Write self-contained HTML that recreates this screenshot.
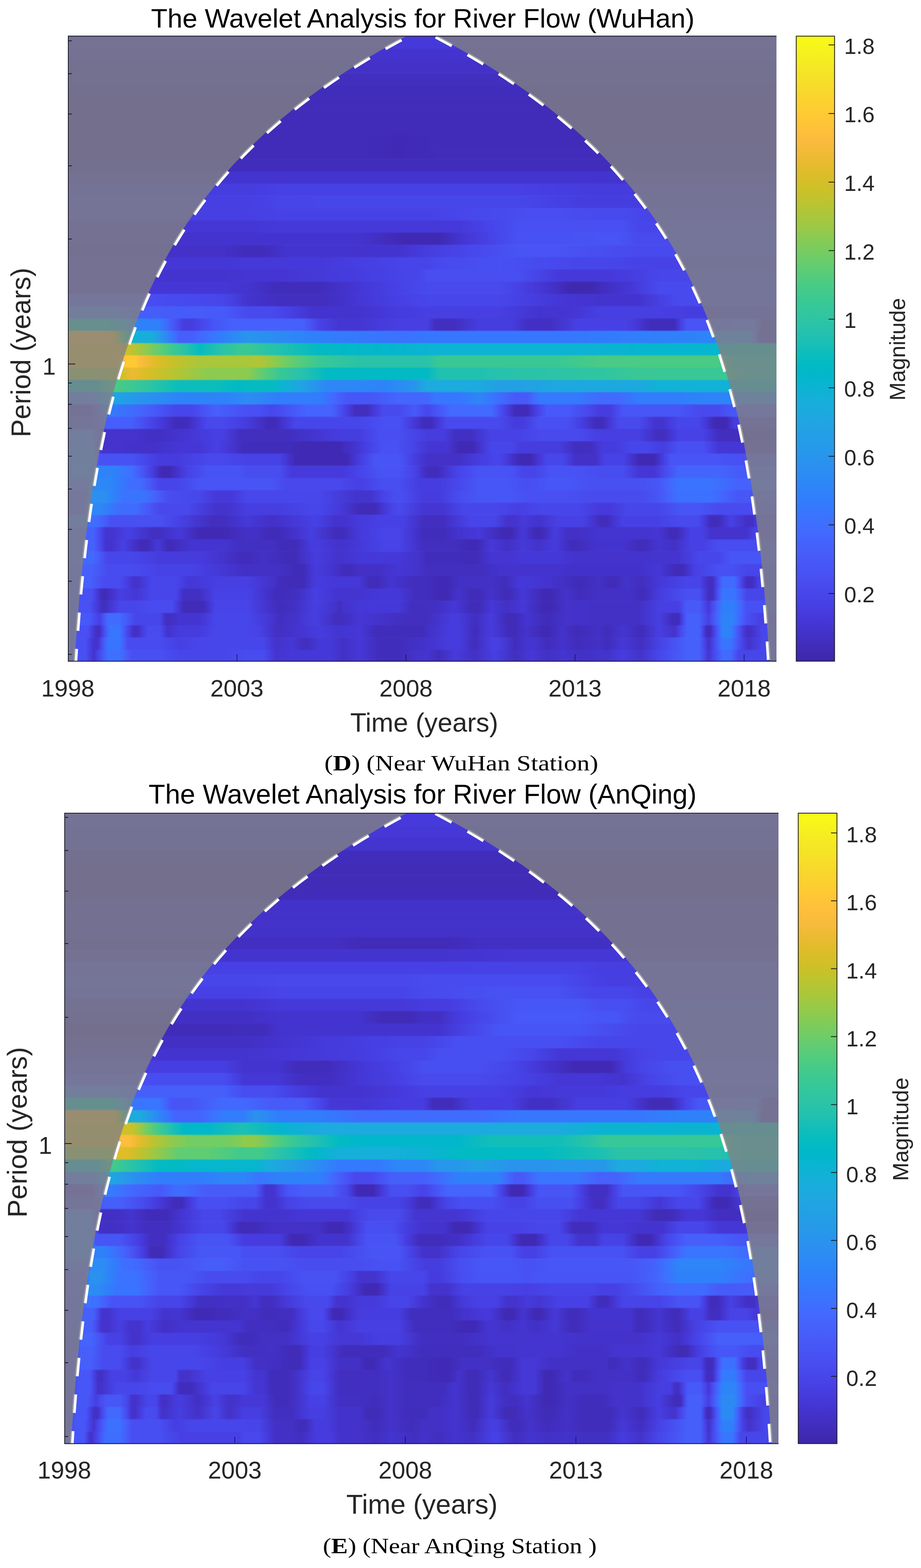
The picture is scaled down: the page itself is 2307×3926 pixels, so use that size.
<!DOCTYPE html>
<html lang="en"><head><meta charset="utf-8"><title>Wavelet Analysis for River Flow</title>
<style>
html,body{margin:0;padding:0;background:#fff}
body{width:2307px;height:3926px;overflow:hidden}
svg{display:block;font-family:"Liberation Sans",sans-serif}
</style></head><body>
<svg width="2307" height="3926" viewBox="0 0 2307 3926">
<defs>
<filter id="vb" filterUnits="userSpaceOnUse" x="0" y="0" width="2307" height="3926" color-interpolation-filters="sRGB"><feGaussianBlur stdDeviation="1 1.3"/></filter>
<clipPath id="clipa"><rect x="170" y="89.5" width="1775" height="1567"/></clipPath>
<linearGradient id="ga_0" gradientUnits="userSpaceOnUse" x1="170" y1="0" x2="1945" y2="0"><stop offset="0.0000" stop-color="#4639da"/><stop offset="1.0000" stop-color="#4639da"/></linearGradient>
<linearGradient id="ga_1" gradientUnits="userSpaceOnUse" x1="170" y1="0" x2="1945" y2="0"><stop offset="0.0000" stop-color="#4434cf"/><stop offset="1.0000" stop-color="#4434cf"/></linearGradient>
<linearGradient id="ga_2" gradientUnits="userSpaceOnUse" x1="170" y1="0" x2="1945" y2="0"><stop offset="0.0000" stop-color="#4331c8"/><stop offset="1.0000" stop-color="#4331c8"/></linearGradient>
<linearGradient id="ga_3" gradientUnits="userSpaceOnUse" x1="170" y1="0" x2="1945" y2="0"><stop offset="0.0000" stop-color="#422fc0"/><stop offset="1.0000" stop-color="#422fc0"/></linearGradient>
<linearGradient id="ga_4" gradientUnits="userSpaceOnUse" x1="170" y1="0" x2="1945" y2="0"><stop offset="0.0000" stop-color="#412dbc"/><stop offset="1.0000" stop-color="#412dbc"/></linearGradient>
<linearGradient id="ga_5" gradientUnits="userSpaceOnUse" x1="170" y1="0" x2="1945" y2="0"><stop offset="0.0000" stop-color="#412cb9"/><stop offset="1.0000" stop-color="#412cb9"/></linearGradient>
<linearGradient id="ga_6" gradientUnits="userSpaceOnUse" x1="170" y1="0" x2="1945" y2="0"><stop offset="0.0000" stop-color="#412cb9"/><stop offset="1.0000" stop-color="#412cb9"/></linearGradient>
<linearGradient id="ga_7" gradientUnits="userSpaceOnUse" x1="170" y1="0" x2="1945" y2="0"><stop offset="0.0000" stop-color="#412cb9"/><stop offset="1.0000" stop-color="#412cb9"/></linearGradient>
<linearGradient id="ga_8" gradientUnits="userSpaceOnUse" x1="170" y1="0" x2="1945" y2="0"><stop offset="0.0000" stop-color="#412cb9"/><stop offset="0.4113" stop-color="#412cb9"/><stop offset="0.4676" stop-color="#402ab5"/><stop offset="0.5239" stop-color="#412cb9"/><stop offset="1.0000" stop-color="#412cb9"/></linearGradient>
<linearGradient id="ga_9" gradientUnits="userSpaceOnUse" x1="170" y1="0" x2="1945" y2="0"><stop offset="0.0000" stop-color="#412cb9"/><stop offset="0.4113" stop-color="#412cb9"/><stop offset="0.4676" stop-color="#402ab5"/><stop offset="0.5239" stop-color="#412cbb"/><stop offset="1.0000" stop-color="#412cbb"/></linearGradient>
<linearGradient id="ga_10" gradientUnits="userSpaceOnUse" x1="170" y1="0" x2="1945" y2="0"><stop offset="0.0000" stop-color="#412dbc"/><stop offset="1.0000" stop-color="#412dbc"/></linearGradient>
<linearGradient id="ga_11" gradientUnits="userSpaceOnUse" x1="170" y1="0" x2="1945" y2="0"><stop offset="0.0000" stop-color="#4434cf"/><stop offset="1.0000" stop-color="#4434cf"/></linearGradient>
<linearGradient id="ga_12" gradientUnits="userSpaceOnUse" x1="170" y1="0" x2="1945" y2="0"><stop offset="0.0000" stop-color="#463ddf"/><stop offset="0.2535" stop-color="#463ddf"/><stop offset="0.2986" stop-color="#4740e4"/><stop offset="0.6366" stop-color="#4740e4"/><stop offset="0.7493" stop-color="#463bdd"/><stop offset="1.0000" stop-color="#463bdd"/></linearGradient>
<linearGradient id="ga_13" gradientUnits="userSpaceOnUse" x1="170" y1="0" x2="1945" y2="0"><stop offset="0.0000" stop-color="#473fe2"/><stop offset="0.2535" stop-color="#473fe2"/><stop offset="0.2986" stop-color="#4744e9"/><stop offset="0.3549" stop-color="#4746eb"/><stop offset="0.4113" stop-color="#4746eb"/><stop offset="0.5070" stop-color="#4746eb"/><stop offset="0.6366" stop-color="#4746eb"/><stop offset="0.7211" stop-color="#463ddf"/><stop offset="1.0000" stop-color="#463ddf"/></linearGradient>
<linearGradient id="ga_14" gradientUnits="userSpaceOnUse" x1="170" y1="0" x2="1945" y2="0"><stop offset="0.0000" stop-color="#473fe2"/><stop offset="0.2535" stop-color="#473fe2"/><stop offset="0.2986" stop-color="#4742e6"/><stop offset="0.5070" stop-color="#4742e6"/><stop offset="0.5521" stop-color="#4746eb"/><stop offset="0.6479" stop-color="#484ef1"/><stop offset="0.6930" stop-color="#484ef1"/><stop offset="0.7493" stop-color="#484aee"/><stop offset="0.7831" stop-color="#484aee"/><stop offset="0.8338" stop-color="#4742e6"/><stop offset="1.0000" stop-color="#4742e6"/></linearGradient>
<linearGradient id="ga_15" gradientUnits="userSpaceOnUse" x1="170" y1="0" x2="1945" y2="0"><stop offset="0.0000" stop-color="#4537d6"/><stop offset="0.2535" stop-color="#4537d6"/><stop offset="0.2986" stop-color="#4639da"/><stop offset="0.5521" stop-color="#4639da"/><stop offset="0.5944" stop-color="#4744e9"/><stop offset="0.6366" stop-color="#4850f3"/><stop offset="0.7211" stop-color="#4850f3"/><stop offset="0.7493" stop-color="#4850f3"/><stop offset="0.7831" stop-color="#4850f3"/><stop offset="0.8056" stop-color="#4746eb"/><stop offset="1.0000" stop-color="#4746eb"/></linearGradient>
<linearGradient id="ga_16" gradientUnits="userSpaceOnUse" x1="170" y1="0" x2="1945" y2="0"><stop offset="0.0000" stop-color="#4434cf"/><stop offset="0.4113" stop-color="#4434cf"/><stop offset="0.4744" stop-color="#402ab3"/><stop offset="0.5239" stop-color="#402ab3"/><stop offset="0.5521" stop-color="#4434cf"/><stop offset="0.5944" stop-color="#4742e6"/><stop offset="0.6366" stop-color="#4852f4"/><stop offset="0.6930" stop-color="#4852f4"/><stop offset="0.7493" stop-color="#4854f5"/><stop offset="0.7775" stop-color="#4854f5"/><stop offset="0.8056" stop-color="#484aee"/><stop offset="1.0000" stop-color="#484aee"/></linearGradient>
<linearGradient id="ga_17" gradientUnits="userSpaceOnUse" x1="170" y1="0" x2="1945" y2="0"><stop offset="0.0000" stop-color="#4331c8"/><stop offset="0.2197" stop-color="#4331c8"/><stop offset="0.2535" stop-color="#412dbc"/><stop offset="0.2761" stop-color="#412dbc"/><stop offset="0.3099" stop-color="#4434cf"/><stop offset="0.4676" stop-color="#4434cf"/><stop offset="0.5070" stop-color="#463ddf"/><stop offset="0.5718" stop-color="#4848ec"/><stop offset="0.6366" stop-color="#4854f5"/><stop offset="0.6930" stop-color="#4854f5"/><stop offset="0.7493" stop-color="#484ef1"/><stop offset="0.8056" stop-color="#484aee"/><stop offset="1.0000" stop-color="#484aee"/></linearGradient>
<linearGradient id="ga_18" gradientUnits="userSpaceOnUse" x1="170" y1="0" x2="1945" y2="0"><stop offset="0.0000" stop-color="#4537d6"/><stop offset="0.2197" stop-color="#4537d6"/><stop offset="0.2535" stop-color="#4639da"/><stop offset="0.3549" stop-color="#4639da"/><stop offset="0.4676" stop-color="#4744e9"/><stop offset="0.5070" stop-color="#4744e9"/><stop offset="0.5239" stop-color="#484aee"/><stop offset="0.6085" stop-color="#4850f3"/><stop offset="0.7211" stop-color="#4746eb"/><stop offset="0.7606" stop-color="#4746eb"/><stop offset="0.8056" stop-color="#4742e6"/><stop offset="1.0000" stop-color="#4742e6"/></linearGradient>
<linearGradient id="ga_19" gradientUnits="userSpaceOnUse" x1="170" y1="0" x2="1945" y2="0"><stop offset="0.0000" stop-color="#4434cf"/><stop offset="0.2197" stop-color="#4434cf"/><stop offset="0.2535" stop-color="#4536d3"/><stop offset="0.2986" stop-color="#4536d3"/><stop offset="0.4113" stop-color="#463ddf"/><stop offset="0.4958" stop-color="#4746eb"/><stop offset="0.5070" stop-color="#484ef1"/><stop offset="0.6366" stop-color="#484ef1"/><stop offset="0.6930" stop-color="#4639da"/><stop offset="0.7606" stop-color="#4639da"/><stop offset="0.7944" stop-color="#463ddf"/><stop offset="0.8338" stop-color="#4746eb"/><stop offset="1.0000" stop-color="#4746eb"/></linearGradient>
<linearGradient id="ga_20" gradientUnits="userSpaceOnUse" x1="170" y1="0" x2="1945" y2="0"><stop offset="0.0000" stop-color="#4537d6"/><stop offset="0.2197" stop-color="#4537d6"/><stop offset="0.2535" stop-color="#4434cf"/><stop offset="0.2930" stop-color="#412dbc"/><stop offset="0.3549" stop-color="#412dbc"/><stop offset="0.4113" stop-color="#4537d6"/><stop offset="0.4676" stop-color="#4742e6"/><stop offset="0.5070" stop-color="#484aee"/><stop offset="0.6085" stop-color="#484aee"/><stop offset="0.6423" stop-color="#473fe2"/><stop offset="0.6761" stop-color="#4434cf"/><stop offset="0.7099" stop-color="#3f29b1"/><stop offset="0.7380" stop-color="#3f29b1"/><stop offset="0.7606" stop-color="#4230c4"/><stop offset="0.7944" stop-color="#4537d6"/><stop offset="0.8338" stop-color="#484aee"/><stop offset="1.0000" stop-color="#484aee"/></linearGradient>
<linearGradient id="ga_21" gradientUnits="userSpaceOnUse" x1="170" y1="0" x2="1945" y2="0"><stop offset="0.0000" stop-color="#4850f3"/><stop offset="0.0732" stop-color="#4850f3"/><stop offset="0.2197" stop-color="#4746eb"/><stop offset="0.2535" stop-color="#4434cf"/><stop offset="0.2986" stop-color="#422fc0"/><stop offset="0.3662" stop-color="#422fc0"/><stop offset="0.4113" stop-color="#4537d6"/><stop offset="0.4676" stop-color="#4740e4"/><stop offset="0.5070" stop-color="#4746eb"/><stop offset="0.6085" stop-color="#4746eb"/><stop offset="0.6930" stop-color="#4537d6"/><stop offset="0.7493" stop-color="#4434cf"/><stop offset="0.8056" stop-color="#4434cf"/><stop offset="0.8338" stop-color="#473fe2"/><stop offset="0.8620" stop-color="#484aee"/><stop offset="1.0000" stop-color="#484aee"/></linearGradient>
<linearGradient id="ga_22" gradientUnits="userSpaceOnUse" x1="170" y1="0" x2="1945" y2="0"><stop offset="0.0000" stop-color="#3b72ff"/><stop offset="0.0620" stop-color="#3b72ff"/><stop offset="0.0958" stop-color="#465efb"/><stop offset="0.2197" stop-color="#475af9"/><stop offset="0.2535" stop-color="#484aee"/><stop offset="0.2873" stop-color="#484aee"/><stop offset="0.3155" stop-color="#473fe2"/><stop offset="0.3437" stop-color="#4434cf"/><stop offset="0.4113" stop-color="#4434cf"/><stop offset="0.4676" stop-color="#463bdd"/><stop offset="0.5070" stop-color="#473fe2"/><stop offset="0.6085" stop-color="#473fe2"/><stop offset="0.6648" stop-color="#4434cf"/><stop offset="0.7211" stop-color="#4537d6"/><stop offset="0.7493" stop-color="#473fe2"/><stop offset="0.8338" stop-color="#473fe2"/><stop offset="0.8901" stop-color="#463ddf"/><stop offset="1.0000" stop-color="#463ddf"/></linearGradient>
<linearGradient id="ga_23" gradientUnits="userSpaceOnUse" x1="170" y1="0" x2="1945" y2="0"><stop offset="0.0000" stop-color="#0cbdbc"/><stop offset="0.0563" stop-color="#0cbdbc"/><stop offset="0.0676" stop-color="#0cb3d3"/><stop offset="0.0789" stop-color="#1fa5e2"/><stop offset="0.0887" stop-color="#2895ec"/><stop offset="0.0986" stop-color="#2e83f9"/><stop offset="0.1296" stop-color="#307ffb"/><stop offset="0.1408" stop-color="#4368fd"/><stop offset="0.1521" stop-color="#4852f4"/><stop offset="0.1634" stop-color="#463ddf"/><stop offset="0.1746" stop-color="#463ddf"/><stop offset="0.1915" stop-color="#4849ed"/><stop offset="0.2085" stop-color="#4756f7"/><stop offset="0.2310" stop-color="#4660fb"/><stop offset="0.3324" stop-color="#4660fb"/><stop offset="0.3437" stop-color="#4851f3"/><stop offset="0.3549" stop-color="#4742e6"/><stop offset="0.3831" stop-color="#4536d3"/><stop offset="0.4113" stop-color="#4536d3"/><stop offset="0.4676" stop-color="#473fe2"/><stop offset="0.5070" stop-color="#473fe2"/><stop offset="0.5183" stop-color="#422fc0"/><stop offset="0.5465" stop-color="#422fc0"/><stop offset="0.5803" stop-color="#463ddf"/><stop offset="0.6254" stop-color="#463ddf"/><stop offset="0.6479" stop-color="#4230c4"/><stop offset="0.6817" stop-color="#4230c4"/><stop offset="0.7211" stop-color="#4740e4"/><stop offset="0.7887" stop-color="#4740e4"/><stop offset="0.8056" stop-color="#4536d3"/><stop offset="0.8225" stop-color="#412dbc"/><stop offset="0.8563" stop-color="#412dbc"/><stop offset="0.8648" stop-color="#473fe2"/><stop offset="0.8732" stop-color="#4854f5"/><stop offset="0.9014" stop-color="#4854f5"/><stop offset="0.9465" stop-color="#475af9"/><stop offset="0.9690" stop-color="#475af9"/><stop offset="0.9746" stop-color="#4848ec"/><stop offset="0.9803" stop-color="#4537d6"/><stop offset="1.0000" stop-color="#4537d6"/></linearGradient>
<linearGradient id="ga_24" gradientUnits="userSpaceOnUse" x1="170" y1="0" x2="1945" y2="0"><stop offset="0.0000" stop-color="#f6ba3b"/><stop offset="0.0620" stop-color="#f6ba3b"/><stop offset="0.0662" stop-color="#d4bf28"/><stop offset="0.0704" stop-color="#a9c73a"/><stop offset="0.0746" stop-color="#77cc60"/><stop offset="0.0789" stop-color="#49cb85"/><stop offset="0.0836" stop-color="#2dc4a5"/><stop offset="0.0883" stop-color="#07bcbf"/><stop offset="0.0930" stop-color="#12b1d7"/><stop offset="0.1183" stop-color="#19addc"/><stop offset="0.1277" stop-color="#249de6"/><stop offset="0.1371" stop-color="#2d8cf3"/><stop offset="0.1465" stop-color="#3579fd"/><stop offset="0.1521" stop-color="#416bfe"/><stop offset="0.1577" stop-color="#465efb"/><stop offset="0.1746" stop-color="#465efb"/><stop offset="0.1915" stop-color="#416bfe"/><stop offset="0.2085" stop-color="#3579fd"/><stop offset="0.2310" stop-color="#2d87f6"/><stop offset="0.2535" stop-color="#2895ec"/><stop offset="0.3042" stop-color="#2d8af4"/><stop offset="0.3549" stop-color="#307ffb"/><stop offset="0.4676" stop-color="#3b72ff"/><stop offset="0.5070" stop-color="#3776fe"/><stop offset="0.6930" stop-color="#3776fe"/><stop offset="0.7493" stop-color="#337bfd"/><stop offset="0.8901" stop-color="#2e83f9"/><stop offset="0.9352" stop-color="#2e83f9"/><stop offset="0.9634" stop-color="#2e83f9"/><stop offset="0.9669" stop-color="#3e6fff"/><stop offset="0.9704" stop-color="#475cfa"/><stop offset="0.9739" stop-color="#4849ed"/><stop offset="0.9775" stop-color="#4537d6"/><stop offset="1.0000" stop-color="#4537d6"/></linearGradient>
<linearGradient id="ga_25" gradientUnits="userSpaceOnUse" x1="170" y1="0" x2="1945" y2="0"><stop offset="0.0000" stop-color="#e6bb2d"/><stop offset="0.0676" stop-color="#e6bb2d"/><stop offset="0.0845" stop-color="#ccc028"/><stop offset="0.1070" stop-color="#98c947"/><stop offset="0.1296" stop-color="#5fcd73"/><stop offset="0.1484" stop-color="#3bc992"/><stop offset="0.1671" stop-color="#27c2ab"/><stop offset="0.1859" stop-color="#05bbc1"/><stop offset="0.2141" stop-color="#26c2ac"/><stop offset="0.2423" stop-color="#39c895"/><stop offset="0.2535" stop-color="#39c895"/><stop offset="0.2986" stop-color="#21c1b0"/><stop offset="0.3549" stop-color="#02bac3"/><stop offset="0.4676" stop-color="#06b5ce"/><stop offset="0.5070" stop-color="#0cb3d3"/><stop offset="0.7493" stop-color="#0cb3d3"/><stop offset="0.8056" stop-color="#06b5ce"/><stop offset="0.9183" stop-color="#06b5ce"/><stop offset="0.9465" stop-color="#05bbc1"/><stop offset="1.0000" stop-color="#05bbc1"/></linearGradient>
<linearGradient id="ga_26" gradientUnits="userSpaceOnUse" x1="170" y1="0" x2="1945" y2="0"><stop offset="0.0000" stop-color="#e6bb2d"/><stop offset="0.0676" stop-color="#e6bb2d"/><stop offset="0.0761" stop-color="#fbbc3d"/><stop offset="0.0845" stop-color="#feca33"/><stop offset="0.0958" stop-color="#feca33"/><stop offset="0.1014" stop-color="#fcbd3d"/><stop offset="0.1239" stop-color="#dfbc2a"/><stop offset="0.1465" stop-color="#c8c129"/><stop offset="0.1859" stop-color="#a9c73a"/><stop offset="0.2535" stop-color="#a9c73a"/><stop offset="0.2704" stop-color="#b2c535"/><stop offset="0.2901" stop-color="#91ca4d"/><stop offset="0.3099" stop-color="#6dcd67"/><stop offset="0.3324" stop-color="#50cc80"/><stop offset="0.3549" stop-color="#39c895"/><stop offset="0.4113" stop-color="#2ac3a9"/><stop offset="0.5070" stop-color="#2ac3a9"/><stop offset="0.5239" stop-color="#39c895"/><stop offset="0.6930" stop-color="#39c895"/><stop offset="0.7493" stop-color="#49cb85"/><stop offset="0.9183" stop-color="#49cb85"/><stop offset="0.9324" stop-color="#31c69f"/><stop offset="0.9465" stop-color="#19bfb5"/><stop offset="1.0000" stop-color="#19bfb5"/></linearGradient>
<linearGradient id="ga_27" gradientUnits="userSpaceOnUse" x1="170" y1="0" x2="1945" y2="0"><stop offset="0.0000" stop-color="#a9c73a"/><stop offset="0.0620" stop-color="#a9c73a"/><stop offset="0.0761" stop-color="#cec028"/><stop offset="0.0901" stop-color="#edba33"/><stop offset="0.1127" stop-color="#d8be28"/><stop offset="0.1465" stop-color="#bbc42f"/><stop offset="0.1972" stop-color="#8ccb50"/><stop offset="0.2535" stop-color="#8ccb50"/><stop offset="0.2761" stop-color="#5dcc75"/><stop offset="0.2986" stop-color="#39c895"/><stop offset="0.3324" stop-color="#25c2ae"/><stop offset="0.3662" stop-color="#02bac3"/><stop offset="0.5070" stop-color="#02bac3"/><stop offset="0.5239" stop-color="#21c1b0"/><stop offset="0.5803" stop-color="#21c1b0"/><stop offset="0.6366" stop-color="#2ac3a9"/><stop offset="0.7493" stop-color="#2fc5a3"/><stop offset="0.8056" stop-color="#39c895"/><stop offset="0.9296" stop-color="#39c895"/><stop offset="0.9408" stop-color="#2dc4a6"/><stop offset="0.9521" stop-color="#19bfb5"/><stop offset="1.0000" stop-color="#19bfb5"/></linearGradient>
<linearGradient id="ga_28" gradientUnits="userSpaceOnUse" x1="170" y1="0" x2="1945" y2="0"><stop offset="0.0000" stop-color="#01b9c8"/><stop offset="0.0394" stop-color="#01b9c8"/><stop offset="0.0488" stop-color="#1bc0b4"/><stop offset="0.0582" stop-color="#32c69f"/><stop offset="0.0676" stop-color="#49cb85"/><stop offset="0.1127" stop-color="#2fc5a3"/><stop offset="0.1577" stop-color="#0cbdbc"/><stop offset="0.2085" stop-color="#0cbdbc"/><stop offset="0.2423" stop-color="#01b9c6"/><stop offset="0.2535" stop-color="#05bbc1"/><stop offset="0.2873" stop-color="#05bbc1"/><stop offset="0.3070" stop-color="#0fb2d5"/><stop offset="0.3268" stop-color="#1fa5e2"/><stop offset="0.3465" stop-color="#2797eb"/><stop offset="0.3662" stop-color="#2e86f7"/><stop offset="0.4113" stop-color="#2e86f7"/><stop offset="0.4451" stop-color="#2e83f9"/><stop offset="0.4901" stop-color="#2895ec"/><stop offset="0.4986" stop-color="#23a0e5"/><stop offset="0.5070" stop-color="#1caadf"/><stop offset="0.5803" stop-color="#1caadf"/><stop offset="0.6085" stop-color="#249fe5"/><stop offset="0.6366" stop-color="#249fe5"/><stop offset="0.6930" stop-color="#1da8e0"/><stop offset="0.8056" stop-color="#1da8e0"/><stop offset="0.8338" stop-color="#12b1d7"/><stop offset="0.9352" stop-color="#12b1d7"/><stop offset="0.9577" stop-color="#01b9c6"/><stop offset="1.0000" stop-color="#01b9c6"/></linearGradient>
<linearGradient id="ga_29" gradientUnits="userSpaceOnUse" x1="170" y1="0" x2="1945" y2="0"><stop offset="0.0000" stop-color="#3f6eff"/><stop offset="0.0338" stop-color="#3f6eff"/><stop offset="0.0441" stop-color="#2e83f9"/><stop offset="0.0545" stop-color="#2895ec"/><stop offset="0.0648" stop-color="#1fa5e2"/><stop offset="0.1014" stop-color="#2895ec"/><stop offset="0.1577" stop-color="#2e83f9"/><stop offset="0.2254" stop-color="#2e83f9"/><stop offset="0.2535" stop-color="#2d8cf3"/><stop offset="0.2986" stop-color="#317dfc"/><stop offset="0.3549" stop-color="#317dfc"/><stop offset="0.3746" stop-color="#4369fe"/><stop offset="0.3944" stop-color="#4756f7"/><stop offset="0.4282" stop-color="#4756f7"/><stop offset="0.4676" stop-color="#4466fd"/><stop offset="0.5070" stop-color="#4466fd"/><stop offset="0.5183" stop-color="#3776fe"/><stop offset="0.5521" stop-color="#3776fe"/><stop offset="0.5803" stop-color="#2e86f7"/><stop offset="0.6056" stop-color="#3d70ff"/><stop offset="0.6310" stop-color="#475af9"/><stop offset="0.6479" stop-color="#475af9"/><stop offset="0.6563" stop-color="#4369fe"/><stop offset="0.6648" stop-color="#3579fd"/><stop offset="0.7211" stop-color="#3579fd"/><stop offset="0.7493" stop-color="#426afe"/><stop offset="0.7775" stop-color="#426afe"/><stop offset="0.8056" stop-color="#317dfc"/><stop offset="0.8620" stop-color="#317dfc"/><stop offset="0.8901" stop-color="#2e83f9"/><stop offset="0.9352" stop-color="#2e83f9"/><stop offset="0.9577" stop-color="#2e83f9"/><stop offset="1.0000" stop-color="#2e83f9"/></linearGradient>
<linearGradient id="ga_30" gradientUnits="userSpaceOnUse" x1="170" y1="0" x2="1945" y2="0"><stop offset="0.0000" stop-color="#463ddf"/><stop offset="0.0338" stop-color="#463ddf"/><stop offset="0.0423" stop-color="#4851f4"/><stop offset="0.0507" stop-color="#4466fd"/><stop offset="0.0592" stop-color="#317dfc"/><stop offset="0.1014" stop-color="#4466fd"/><stop offset="0.1268" stop-color="#4756f7"/><stop offset="0.1521" stop-color="#4746eb"/><stop offset="0.1746" stop-color="#4746eb"/><stop offset="0.1915" stop-color="#4853f5"/><stop offset="0.2085" stop-color="#4660fb"/><stop offset="0.2535" stop-color="#4850f3"/><stop offset="0.2704" stop-color="#4850f3"/><stop offset="0.2873" stop-color="#4746eb"/><stop offset="0.3127" stop-color="#4755f6"/><stop offset="0.3380" stop-color="#4564fd"/><stop offset="0.3718" stop-color="#4564fd"/><stop offset="0.3831" stop-color="#4851f3"/><stop offset="0.3944" stop-color="#463ee1"/><stop offset="0.4056" stop-color="#422fc0"/><stop offset="0.4225" stop-color="#422fc0"/><stop offset="0.4338" stop-color="#463bdd"/><stop offset="0.4451" stop-color="#484aee"/><stop offset="0.4676" stop-color="#484aee"/><stop offset="0.4901" stop-color="#475af9"/><stop offset="0.5070" stop-color="#4746eb"/><stop offset="0.5239" stop-color="#4758f8"/><stop offset="0.5408" stop-color="#426afe"/><stop offset="0.5972" stop-color="#426afe"/><stop offset="0.6085" stop-color="#4853f5"/><stop offset="0.6197" stop-color="#463de0"/><stop offset="0.6310" stop-color="#412cb9"/><stop offset="0.6479" stop-color="#412cb9"/><stop offset="0.6573" stop-color="#4539d9"/><stop offset="0.6667" stop-color="#4849ed"/><stop offset="0.6761" stop-color="#475af9"/><stop offset="0.7042" stop-color="#475af9"/><stop offset="0.7324" stop-color="#484aee"/><stop offset="0.7493" stop-color="#463ddf"/><stop offset="0.7662" stop-color="#463ddf"/><stop offset="0.7746" stop-color="#4849ed"/><stop offset="0.7831" stop-color="#4756f7"/><stop offset="0.8620" stop-color="#4756f7"/><stop offset="0.8901" stop-color="#484aee"/><stop offset="0.9183" stop-color="#484aee"/><stop offset="0.9352" stop-color="#4756f7"/><stop offset="1.0000" stop-color="#4756f7"/></linearGradient>
<linearGradient id="ga_31" gradientUnits="userSpaceOnUse" x1="170" y1="0" x2="1945" y2="0"><stop offset="0.0000" stop-color="#4746eb"/><stop offset="0.0338" stop-color="#4746eb"/><stop offset="0.0437" stop-color="#4852f4"/><stop offset="0.0535" stop-color="#465efb"/><stop offset="0.0901" stop-color="#465efb"/><stop offset="0.1042" stop-color="#4851f3"/><stop offset="0.1183" stop-color="#4744e9"/><stop offset="0.1352" stop-color="#4537d6"/><stop offset="0.1521" stop-color="#412dbc"/><stop offset="0.1690" stop-color="#412dbc"/><stop offset="0.1831" stop-color="#4639da"/><stop offset="0.1972" stop-color="#4848ec"/><stop offset="0.2197" stop-color="#4848ec"/><stop offset="0.2535" stop-color="#463bdd"/><stop offset="0.2817" stop-color="#412cb9"/><stop offset="0.2930" stop-color="#412cb9"/><stop offset="0.3070" stop-color="#4537d6"/><stop offset="0.3211" stop-color="#4746eb"/><stop offset="0.4113" stop-color="#4746eb"/><stop offset="0.4451" stop-color="#4850f3"/><stop offset="0.4676" stop-color="#4850f3"/><stop offset="0.4845" stop-color="#463ddf"/><stop offset="0.5014" stop-color="#412dbc"/><stop offset="0.5127" stop-color="#412dbc"/><stop offset="0.5239" stop-color="#463adb"/><stop offset="0.5352" stop-color="#484aee"/><stop offset="0.6085" stop-color="#484aee"/><stop offset="0.6310" stop-color="#463bdd"/><stop offset="0.6423" stop-color="#463bdd"/><stop offset="0.6648" stop-color="#4850f3"/><stop offset="0.7042" stop-color="#4850f3"/><stop offset="0.7268" stop-color="#463ddf"/><stop offset="0.7437" stop-color="#412dbc"/><stop offset="0.7549" stop-color="#412dbc"/><stop offset="0.7662" stop-color="#463adb"/><stop offset="0.7775" stop-color="#484aee"/><stop offset="0.8056" stop-color="#484aee"/><stop offset="0.8169" stop-color="#473fe2"/><stop offset="0.8282" stop-color="#4434cf"/><stop offset="0.8394" stop-color="#4434cf"/><stop offset="0.8620" stop-color="#4746eb"/><stop offset="0.8901" stop-color="#4746eb"/><stop offset="0.9014" stop-color="#4537d5"/><stop offset="0.9127" stop-color="#402ab5"/><stop offset="0.9296" stop-color="#402ab5"/><stop offset="0.9352" stop-color="#4433cc"/><stop offset="0.9408" stop-color="#463ddf"/><stop offset="1.0000" stop-color="#463ddf"/></linearGradient>
<linearGradient id="ga_32" gradientUnits="userSpaceOnUse" x1="170" y1="0" x2="1945" y2="0"><stop offset="0.0000" stop-color="#3f6eff"/><stop offset="0.0338" stop-color="#3f6eff"/><stop offset="0.0404" stop-color="#4759f8"/><stop offset="0.0469" stop-color="#4745e9"/><stop offset="0.0535" stop-color="#4433cc"/><stop offset="0.0958" stop-color="#4433cc"/><stop offset="0.1183" stop-color="#4230c4"/><stop offset="0.1296" stop-color="#4230c4"/><stop offset="0.1577" stop-color="#4434cf"/><stop offset="0.2085" stop-color="#473fe2"/><stop offset="0.2197" stop-color="#473fe2"/><stop offset="0.2423" stop-color="#422fc0"/><stop offset="0.3099" stop-color="#422fc0"/><stop offset="0.3437" stop-color="#4434cf"/><stop offset="0.3831" stop-color="#463ddf"/><stop offset="0.4113" stop-color="#463ddf"/><stop offset="0.4394" stop-color="#484ef1"/><stop offset="0.4676" stop-color="#484ef1"/><stop offset="0.5070" stop-color="#463ddf"/><stop offset="0.5296" stop-color="#463ddf"/><stop offset="0.5465" stop-color="#4230c4"/><stop offset="0.5690" stop-color="#4230c4"/><stop offset="0.5972" stop-color="#4742e6"/><stop offset="0.6366" stop-color="#4742e6"/><stop offset="0.6648" stop-color="#484aee"/><stop offset="0.7211" stop-color="#484aee"/><stop offset="0.7493" stop-color="#473fe2"/><stop offset="0.8056" stop-color="#473fe2"/><stop offset="0.8310" stop-color="#422fc0"/><stop offset="0.8423" stop-color="#422fc0"/><stop offset="0.8521" stop-color="#4537d6"/><stop offset="0.8620" stop-color="#4742e6"/><stop offset="0.8958" stop-color="#4742e6"/><stop offset="0.9070" stop-color="#4537d6"/><stop offset="0.9183" stop-color="#422fc0"/><stop offset="1.0000" stop-color="#422fc0"/></linearGradient>
<linearGradient id="ga_33" gradientUnits="userSpaceOnUse" x1="170" y1="0" x2="1945" y2="0"><stop offset="0.0000" stop-color="#3579fd"/><stop offset="0.0338" stop-color="#3579fd"/><stop offset="0.0373" stop-color="#4466fd"/><stop offset="0.0408" stop-color="#4854f5"/><stop offset="0.0444" stop-color="#4742e6"/><stop offset="0.0479" stop-color="#4433cc"/><stop offset="0.0732" stop-color="#4433cc"/><stop offset="0.1183" stop-color="#4331c8"/><stop offset="0.1577" stop-color="#4537d6"/><stop offset="0.1859" stop-color="#4537d6"/><stop offset="0.2113" stop-color="#4740e4"/><stop offset="0.2296" stop-color="#4536d3"/><stop offset="0.2479" stop-color="#412dbc"/><stop offset="0.3099" stop-color="#412dbc"/><stop offset="0.3268" stop-color="#402ab5"/><stop offset="0.3831" stop-color="#402ab5"/><stop offset="0.4113" stop-color="#4537d6"/><stop offset="0.4282" stop-color="#4744e9"/><stop offset="0.4451" stop-color="#4852f4"/><stop offset="0.4620" stop-color="#4852f4"/><stop offset="0.4901" stop-color="#4742e6"/><stop offset="0.5070" stop-color="#4536d3"/><stop offset="0.5352" stop-color="#4536d3"/><stop offset="0.5521" stop-color="#402ab5"/><stop offset="0.5718" stop-color="#402ab5"/><stop offset="0.5845" stop-color="#4537d5"/><stop offset="0.5972" stop-color="#4746eb"/><stop offset="0.6254" stop-color="#4746eb"/><stop offset="0.6366" stop-color="#463ddf"/><stop offset="0.6930" stop-color="#463ddf"/><stop offset="0.7155" stop-color="#422fc0"/><stop offset="0.7380" stop-color="#422fc0"/><stop offset="0.7549" stop-color="#463bdd"/><stop offset="0.7718" stop-color="#463bdd"/><stop offset="0.7944" stop-color="#4746eb"/><stop offset="0.8169" stop-color="#4746eb"/><stop offset="0.8394" stop-color="#463ddf"/><stop offset="0.8620" stop-color="#4850f3"/><stop offset="0.8958" stop-color="#4850f3"/><stop offset="0.9070" stop-color="#4743e7"/><stop offset="0.9183" stop-color="#4537d6"/><stop offset="1.0000" stop-color="#4537d6"/></linearGradient>
<linearGradient id="ga_34" gradientUnits="userSpaceOnUse" x1="170" y1="0" x2="1945" y2="0"><stop offset="0.0000" stop-color="#3579fd"/><stop offset="0.0338" stop-color="#3579fd"/><stop offset="0.0394" stop-color="#4465fd"/><stop offset="0.0451" stop-color="#4852f4"/><stop offset="0.0901" stop-color="#4852f4"/><stop offset="0.1099" stop-color="#4746eb"/><stop offset="0.1296" stop-color="#463bdd"/><stop offset="0.1521" stop-color="#463bdd"/><stop offset="0.1972" stop-color="#4848ec"/><stop offset="0.2197" stop-color="#4848ec"/><stop offset="0.2535" stop-color="#4742e6"/><stop offset="0.2986" stop-color="#4742e6"/><stop offset="0.3099" stop-color="#4435d1"/><stop offset="0.3211" stop-color="#402ab5"/><stop offset="0.3944" stop-color="#402ab5"/><stop offset="0.4028" stop-color="#4433cc"/><stop offset="0.4113" stop-color="#463ddf"/><stop offset="0.4225" stop-color="#4848ec"/><stop offset="0.4338" stop-color="#4854f5"/><stop offset="0.4676" stop-color="#4854f5"/><stop offset="0.4789" stop-color="#4848ec"/><stop offset="0.4901" stop-color="#463ddf"/><stop offset="0.5070" stop-color="#4331c8"/><stop offset="0.5521" stop-color="#4331c8"/><stop offset="0.5803" stop-color="#463ddf"/><stop offset="0.6085" stop-color="#4746eb"/><stop offset="0.6225" stop-color="#4537d5"/><stop offset="0.6366" stop-color="#402ab5"/><stop offset="0.6535" stop-color="#402ab5"/><stop offset="0.6648" stop-color="#4537d5"/><stop offset="0.6761" stop-color="#4746eb"/><stop offset="0.6986" stop-color="#4746eb"/><stop offset="0.7070" stop-color="#463bdd"/><stop offset="0.7155" stop-color="#4331c8"/><stop offset="0.7437" stop-color="#4331c8"/><stop offset="0.7577" stop-color="#4742e6"/><stop offset="0.7831" stop-color="#4742e6"/><stop offset="0.7944" stop-color="#4435d1"/><stop offset="0.8056" stop-color="#402ab5"/><stop offset="0.8282" stop-color="#402ab5"/><stop offset="0.8357" stop-color="#4536d3"/><stop offset="0.8432" stop-color="#4744e9"/><stop offset="0.8507" stop-color="#4854f5"/><stop offset="0.9183" stop-color="#4854f5"/><stop offset="0.9465" stop-color="#4850f3"/><stop offset="1.0000" stop-color="#4850f3"/></linearGradient>
<linearGradient id="ga_35" gradientUnits="userSpaceOnUse" x1="170" y1="0" x2="1945" y2="0"><stop offset="0.0000" stop-color="#3578fd"/><stop offset="0.0310" stop-color="#3578fd"/><stop offset="0.0423" stop-color="#2e83f9"/><stop offset="0.0620" stop-color="#2e83f9"/><stop offset="0.0901" stop-color="#3e70ff"/><stop offset="0.1014" stop-color="#475cfa"/><stop offset="0.1127" stop-color="#4849ed"/><stop offset="0.1225" stop-color="#4538d7"/><stop offset="0.1324" stop-color="#402ab5"/><stop offset="0.1437" stop-color="#402ab5"/><stop offset="0.1563" stop-color="#4435d1"/><stop offset="0.1690" stop-color="#4742e6"/><stop offset="0.1972" stop-color="#4853f5"/><stop offset="0.2423" stop-color="#4853f5"/><stop offset="0.2535" stop-color="#484df0"/><stop offset="0.2986" stop-color="#484df0"/><stop offset="0.3155" stop-color="#463adc"/><stop offset="0.3887" stop-color="#463adc"/><stop offset="0.4113" stop-color="#4745ea"/><stop offset="0.4394" stop-color="#4853f5"/><stop offset="0.4676" stop-color="#4853f5"/><stop offset="0.4901" stop-color="#4742e6"/><stop offset="0.4986" stop-color="#4536d4"/><stop offset="0.5070" stop-color="#412dbc"/><stop offset="0.5211" stop-color="#412dbc"/><stop offset="0.5366" stop-color="#4538d7"/><stop offset="0.5521" stop-color="#4745ea"/><stop offset="0.5803" stop-color="#4853f5"/><stop offset="0.6254" stop-color="#4853f5"/><stop offset="0.6423" stop-color="#4745ea"/><stop offset="0.6592" stop-color="#4745ea"/><stop offset="0.6817" stop-color="#4853f5"/><stop offset="0.7155" stop-color="#4853f5"/><stop offset="0.7493" stop-color="#484df0"/><stop offset="0.7831" stop-color="#484df0"/><stop offset="0.8056" stop-color="#4537d6"/><stop offset="0.8282" stop-color="#4537d6"/><stop offset="0.8451" stop-color="#484ef1"/><stop offset="0.8620" stop-color="#4465fd"/><stop offset="0.9183" stop-color="#4465fd"/><stop offset="0.9521" stop-color="#4759f8"/><stop offset="1.0000" stop-color="#4759f8"/></linearGradient>
<linearGradient id="ga_36" gradientUnits="userSpaceOnUse" x1="170" y1="0" x2="1945" y2="0"><stop offset="0.0000" stop-color="#4562fc"/><stop offset="0.0282" stop-color="#4562fc"/><stop offset="0.0324" stop-color="#3876fe"/><stop offset="0.0366" stop-color="#2d88f6"/><stop offset="0.0563" stop-color="#2d88f6"/><stop offset="0.0732" stop-color="#327bfc"/><stop offset="0.0901" stop-color="#406dfe"/><stop offset="0.1014" stop-color="#406dfe"/><stop offset="0.1155" stop-color="#4759f8"/><stop offset="0.1296" stop-color="#4744e9"/><stop offset="0.1521" stop-color="#4744e9"/><stop offset="0.1859" stop-color="#4854f5"/><stop offset="0.2873" stop-color="#4854f5"/><stop offset="0.3099" stop-color="#4848ec"/><stop offset="0.3831" stop-color="#4848ec"/><stop offset="0.4113" stop-color="#473fe2"/><stop offset="0.4451" stop-color="#484ef1"/><stop offset="0.4676" stop-color="#484ef1"/><stop offset="0.4958" stop-color="#463de0"/><stop offset="0.5239" stop-color="#463de0"/><stop offset="0.5521" stop-color="#4848ec"/><stop offset="0.5803" stop-color="#4757f7"/><stop offset="0.6197" stop-color="#4757f7"/><stop offset="0.6479" stop-color="#484ef1"/><stop offset="0.6817" stop-color="#4757f7"/><stop offset="0.7042" stop-color="#4757f7"/><stop offset="0.7380" stop-color="#4850f2"/><stop offset="0.8056" stop-color="#4850f2"/><stop offset="0.8338" stop-color="#4757f7"/><stop offset="0.8479" stop-color="#4465fd"/><stop offset="0.8620" stop-color="#3a74fe"/><stop offset="0.9070" stop-color="#3a74fe"/><stop offset="0.9465" stop-color="#4562fc"/><stop offset="1.0000" stop-color="#4562fc"/></linearGradient>
<linearGradient id="ga_37" gradientUnits="userSpaceOnUse" x1="170" y1="0" x2="1945" y2="0"><stop offset="0.0000" stop-color="#4756f7"/><stop offset="0.0254" stop-color="#4756f7"/><stop offset="0.0282" stop-color="#4269fe"/><stop offset="0.0310" stop-color="#317efb"/><stop offset="0.0338" stop-color="#2c90f0"/><stop offset="0.0507" stop-color="#2c90f0"/><stop offset="0.0648" stop-color="#2f82f9"/><stop offset="0.0789" stop-color="#3a74fe"/><stop offset="0.1070" stop-color="#3a74fe"/><stop offset="0.1239" stop-color="#4661fc"/><stop offset="0.1408" stop-color="#484ef1"/><stop offset="0.1859" stop-color="#4747eb"/><stop offset="0.2085" stop-color="#4639da"/><stop offset="0.2310" stop-color="#4639da"/><stop offset="0.2535" stop-color="#4747eb"/><stop offset="0.3549" stop-color="#4747eb"/><stop offset="0.4056" stop-color="#4434ce"/><stop offset="0.4282" stop-color="#4434ce"/><stop offset="0.4451" stop-color="#4743e7"/><stop offset="0.4620" stop-color="#484df0"/><stop offset="0.4732" stop-color="#484df0"/><stop offset="0.5014" stop-color="#463bdd"/><stop offset="0.5239" stop-color="#463bdd"/><stop offset="0.5521" stop-color="#484df0"/><stop offset="0.5803" stop-color="#4756f7"/><stop offset="0.6254" stop-color="#4756f7"/><stop offset="0.6479" stop-color="#4850f3"/><stop offset="0.7042" stop-color="#4850f3"/><stop offset="0.7380" stop-color="#484bee"/><stop offset="0.8056" stop-color="#484bee"/><stop offset="0.8338" stop-color="#4756f7"/><stop offset="0.8479" stop-color="#4563fd"/><stop offset="0.8620" stop-color="#3c71ff"/><stop offset="0.9070" stop-color="#3c71ff"/><stop offset="0.9268" stop-color="#4563fd"/><stop offset="0.9465" stop-color="#4756f7"/><stop offset="1.0000" stop-color="#4756f7"/></linearGradient>
<linearGradient id="ga_38" gradientUnits="userSpaceOnUse" x1="170" y1="0" x2="1945" y2="0"><stop offset="0.0000" stop-color="#4755f6"/><stop offset="0.0225" stop-color="#4755f6"/><stop offset="0.0254" stop-color="#4466fd"/><stop offset="0.0282" stop-color="#3678fe"/><stop offset="0.0310" stop-color="#2d88f6"/><stop offset="0.0451" stop-color="#2d88f6"/><stop offset="0.0592" stop-color="#337bfc"/><stop offset="0.0732" stop-color="#406cfe"/><stop offset="0.0958" stop-color="#406cfe"/><stop offset="0.1127" stop-color="#475af9"/><stop offset="0.1296" stop-color="#4848ec"/><stop offset="0.1690" stop-color="#4848ec"/><stop offset="0.2085" stop-color="#4434ce"/><stop offset="0.2254" stop-color="#4434ce"/><stop offset="0.2535" stop-color="#463ee0"/><stop offset="0.2986" stop-color="#463ee0"/><stop offset="0.3437" stop-color="#4746ea"/><stop offset="0.3549" stop-color="#4746ea"/><stop offset="0.3831" stop-color="#463adc"/><stop offset="0.4113" stop-color="#412cb9"/><stop offset="0.4338" stop-color="#412cb9"/><stop offset="0.4451" stop-color="#4536d3"/><stop offset="0.4563" stop-color="#4742e6"/><stop offset="0.4676" stop-color="#484aed"/><stop offset="0.5014" stop-color="#4536d4"/><stop offset="0.5296" stop-color="#4536d4"/><stop offset="0.5577" stop-color="#4746ea"/><stop offset="0.6085" stop-color="#4746ea"/><stop offset="0.6366" stop-color="#473fe3"/><stop offset="0.6648" stop-color="#4746ea"/><stop offset="0.7211" stop-color="#4746ea"/><stop offset="0.7493" stop-color="#463adc"/><stop offset="0.7662" stop-color="#463adc"/><stop offset="0.7887" stop-color="#4746ea"/><stop offset="0.8338" stop-color="#4746ea"/><stop offset="0.8620" stop-color="#4755f6"/><stop offset="0.8901" stop-color="#4755f6"/><stop offset="0.9183" stop-color="#484bef"/><stop offset="1.0000" stop-color="#484bef"/></linearGradient>
<linearGradient id="ga_39" gradientUnits="userSpaceOnUse" x1="170" y1="0" x2="1945" y2="0"><stop offset="0.0000" stop-color="#406cfe"/><stop offset="0.0225" stop-color="#406cfe"/><stop offset="0.0282" stop-color="#3f6eff"/><stop offset="0.0394" stop-color="#3f6eff"/><stop offset="0.0507" stop-color="#465ffb"/><stop offset="0.0620" stop-color="#4850f2"/><stop offset="0.1296" stop-color="#4850f2"/><stop offset="0.1577" stop-color="#4741e5"/><stop offset="0.2028" stop-color="#422fc0"/><stop offset="0.2197" stop-color="#422fc0"/><stop offset="0.2535" stop-color="#4539d8"/><stop offset="0.2873" stop-color="#4331c7"/><stop offset="0.3268" stop-color="#463adb"/><stop offset="0.3493" stop-color="#4741e5"/><stop offset="0.3775" stop-color="#4433cd"/><stop offset="0.3887" stop-color="#4433cd"/><stop offset="0.4113" stop-color="#463adb"/><stop offset="0.4451" stop-color="#4741e5"/><stop offset="0.4732" stop-color="#4741e5"/><stop offset="0.5014" stop-color="#422fc0"/><stop offset="0.5296" stop-color="#422fc0"/><stop offset="0.5521" stop-color="#463adb"/><stop offset="0.5690" stop-color="#4745e9"/><stop offset="0.6028" stop-color="#4745e9"/><stop offset="0.6197" stop-color="#4433cd"/><stop offset="0.6310" stop-color="#4433cd"/><stop offset="0.6423" stop-color="#463adb"/><stop offset="0.6648" stop-color="#4433cd"/><stop offset="0.6930" stop-color="#4741e5"/><stop offset="0.7268" stop-color="#4741e5"/><stop offset="0.7394" stop-color="#4536d4"/><stop offset="0.7521" stop-color="#412dbc"/><stop offset="0.7606" stop-color="#412dbc"/><stop offset="0.7718" stop-color="#4536d4"/><stop offset="0.7831" stop-color="#4741e5"/><stop offset="0.8338" stop-color="#4741e5"/><stop offset="0.8620" stop-color="#484aee"/><stop offset="0.8901" stop-color="#484aee"/><stop offset="0.8986" stop-color="#463adb"/><stop offset="0.9070" stop-color="#412dbc"/><stop offset="0.9183" stop-color="#412dbc"/><stop offset="0.9268" stop-color="#4536d4"/><stop offset="0.9352" stop-color="#4741e5"/><stop offset="0.9577" stop-color="#4331c7"/><stop offset="0.9662" stop-color="#4331c7"/><stop offset="0.9746" stop-color="#4741e5"/><stop offset="1.0000" stop-color="#4741e5"/></linearGradient>
<linearGradient id="ga_40" gradientUnits="userSpaceOnUse" x1="170" y1="0" x2="1945" y2="0"><stop offset="0.0000" stop-color="#465ffb"/><stop offset="0.0197" stop-color="#465ffb"/><stop offset="0.0254" stop-color="#4561fc"/><stop offset="0.0366" stop-color="#4561fc"/><stop offset="0.0451" stop-color="#484aee"/><stop offset="0.0535" stop-color="#4434d0"/><stop offset="0.0620" stop-color="#4434d0"/><stop offset="0.0845" stop-color="#4740e4"/><stop offset="0.1183" stop-color="#4230c3"/><stop offset="0.1296" stop-color="#4230c3"/><stop offset="0.1577" stop-color="#4639da"/><stop offset="0.1859" stop-color="#402ab5"/><stop offset="0.2197" stop-color="#402ab5"/><stop offset="0.2535" stop-color="#4331c7"/><stop offset="0.2648" stop-color="#4331c7"/><stop offset="0.2817" stop-color="#412cb9"/><stop offset="0.2986" stop-color="#412cb9"/><stop offset="0.3211" stop-color="#4433cd"/><stop offset="0.3437" stop-color="#463ee0"/><stop offset="0.3775" stop-color="#412dbc"/><stop offset="0.3887" stop-color="#412dbc"/><stop offset="0.4113" stop-color="#4639da"/><stop offset="0.4451" stop-color="#4744e8"/><stop offset="0.4676" stop-color="#4744e8"/><stop offset="0.4845" stop-color="#4537d6"/><stop offset="0.5014" stop-color="#412dbc"/><stop offset="0.5296" stop-color="#412dbc"/><stop offset="0.5521" stop-color="#4433cd"/><stop offset="0.5803" stop-color="#4639da"/><stop offset="0.6141" stop-color="#402ab5"/><stop offset="0.6254" stop-color="#402ab5"/><stop offset="0.6423" stop-color="#4639da"/><stop offset="0.6592" stop-color="#402ab5"/><stop offset="0.6676" stop-color="#402ab5"/><stop offset="0.6873" stop-color="#463cdf"/><stop offset="0.7042" stop-color="#4331c7"/><stop offset="0.7211" stop-color="#4331c7"/><stop offset="0.7493" stop-color="#4434d0"/><stop offset="0.8056" stop-color="#4434d0"/><stop offset="0.8338" stop-color="#4536d2"/><stop offset="0.8507" stop-color="#412cb9"/><stop offset="0.8592" stop-color="#412cb9"/><stop offset="0.8690" stop-color="#4435d1"/><stop offset="0.8789" stop-color="#4740e4"/><stop offset="0.8958" stop-color="#4740e4"/><stop offset="0.9070" stop-color="#4433cd"/><stop offset="0.9577" stop-color="#4433cd"/><stop offset="0.9690" stop-color="#4740e4"/><stop offset="1.0000" stop-color="#4740e4"/></linearGradient>
<linearGradient id="ga_41" gradientUnits="userSpaceOnUse" x1="170" y1="0" x2="1945" y2="0"><stop offset="0.0000" stop-color="#465efb"/><stop offset="0.0197" stop-color="#465efb"/><stop offset="0.0237" stop-color="#4660fc"/><stop offset="0.0366" stop-color="#4660fc"/><stop offset="0.0451" stop-color="#484aed"/><stop offset="0.0535" stop-color="#4434cf"/><stop offset="0.0620" stop-color="#4434cf"/><stop offset="0.0789" stop-color="#4740e3"/><stop offset="0.0901" stop-color="#4435d0"/><stop offset="0.1014" stop-color="#412cb9"/><stop offset="0.1127" stop-color="#412cb9"/><stop offset="0.1268" stop-color="#4539d9"/><stop offset="0.1408" stop-color="#412cb9"/><stop offset="0.1465" stop-color="#412cb9"/><stop offset="0.1746" stop-color="#4435d2"/><stop offset="0.2197" stop-color="#4435d2"/><stop offset="0.2423" stop-color="#4230c3"/><stop offset="0.2873" stop-color="#4230c3"/><stop offset="0.3042" stop-color="#412cb9"/><stop offset="0.3211" stop-color="#412cb9"/><stop offset="0.3437" stop-color="#463bdd"/><stop offset="0.3549" stop-color="#463bdd"/><stop offset="0.3831" stop-color="#4433cc"/><stop offset="0.4113" stop-color="#4539d9"/><stop offset="0.4451" stop-color="#4743e7"/><stop offset="0.4676" stop-color="#4743e7"/><stop offset="0.4845" stop-color="#4538d7"/><stop offset="0.5014" stop-color="#422fc0"/><stop offset="0.5465" stop-color="#422fc0"/><stop offset="0.5662" stop-color="#402ab5"/><stop offset="0.5775" stop-color="#402ab5"/><stop offset="0.5972" stop-color="#4539d9"/><stop offset="0.6197" stop-color="#4331c6"/><stop offset="0.6423" stop-color="#4539d9"/><stop offset="0.6648" stop-color="#4433cc"/><stop offset="0.6873" stop-color="#463bdd"/><stop offset="0.7099" stop-color="#412dbc"/><stop offset="0.7183" stop-color="#412dbc"/><stop offset="0.7493" stop-color="#4434cf"/><stop offset="0.7831" stop-color="#4434cf"/><stop offset="0.8056" stop-color="#412dbc"/><stop offset="0.8141" stop-color="#412dbc"/><stop offset="0.8338" stop-color="#4435d2"/><stop offset="0.8563" stop-color="#4331c6"/><stop offset="0.8789" stop-color="#4740e3"/><stop offset="0.8958" stop-color="#4740e3"/><stop offset="0.9183" stop-color="#484df1"/><stop offset="0.9690" stop-color="#484df1"/><stop offset="0.9803" stop-color="#484df1"/><stop offset="1.0000" stop-color="#484df1"/></linearGradient>
<linearGradient id="ga_42" gradientUnits="userSpaceOnUse" x1="170" y1="0" x2="1945" y2="0"><stop offset="0.0000" stop-color="#465dfa"/><stop offset="0.0169" stop-color="#465dfa"/><stop offset="0.0225" stop-color="#4368fe"/><stop offset="0.0366" stop-color="#4368fe"/><stop offset="0.0465" stop-color="#4757f7"/><stop offset="0.0563" stop-color="#4746eb"/><stop offset="0.0901" stop-color="#4746eb"/><stop offset="0.1296" stop-color="#463cde"/><stop offset="0.1859" stop-color="#463cde"/><stop offset="0.2197" stop-color="#4433cc"/><stop offset="0.2451" stop-color="#412cbb"/><stop offset="0.2535" stop-color="#412cbb"/><stop offset="0.2761" stop-color="#4331c6"/><stop offset="0.3099" stop-color="#412cb9"/><stop offset="0.3211" stop-color="#412cb9"/><stop offset="0.3493" stop-color="#463cde"/><stop offset="0.3831" stop-color="#4433cc"/><stop offset="0.4113" stop-color="#4538d8"/><stop offset="0.4676" stop-color="#4538d8"/><stop offset="0.4958" stop-color="#4433cc"/><stop offset="0.5070" stop-color="#412dbc"/><stop offset="0.5465" stop-color="#412dbc"/><stop offset="0.5690" stop-color="#412cb9"/><stop offset="0.5775" stop-color="#412cb9"/><stop offset="0.5972" stop-color="#4536d3"/><stop offset="0.6254" stop-color="#4536d3"/><stop offset="0.6423" stop-color="#4538d8"/><stop offset="0.6930" stop-color="#4538d8"/><stop offset="0.7155" stop-color="#4433cc"/><stop offset="0.8056" stop-color="#4433cc"/><stop offset="0.8338" stop-color="#4435d1"/><stop offset="0.8620" stop-color="#4435d1"/><stop offset="0.8901" stop-color="#4746eb"/><stop offset="0.9183" stop-color="#4746eb"/><stop offset="0.9352" stop-color="#4755f6"/><stop offset="0.9746" stop-color="#4755f6"/><stop offset="0.9859" stop-color="#4850f3"/><stop offset="1.0000" stop-color="#4850f3"/></linearGradient>
<linearGradient id="ga_43" gradientUnits="userSpaceOnUse" x1="170" y1="0" x2="1945" y2="0"><stop offset="0.0000" stop-color="#4758f8"/><stop offset="0.0169" stop-color="#4758f8"/><stop offset="0.0197" stop-color="#4660fb"/><stop offset="0.0338" stop-color="#4660fb"/><stop offset="0.0563" stop-color="#484cf0"/><stop offset="0.0901" stop-color="#484cf0"/><stop offset="0.1296" stop-color="#4742e6"/><stop offset="0.1746" stop-color="#4742e6"/><stop offset="0.2085" stop-color="#4639da"/><stop offset="0.2479" stop-color="#4331c6"/><stop offset="0.2986" stop-color="#4331c6"/><stop offset="0.3211" stop-color="#412cb9"/><stop offset="0.3324" stop-color="#412cb9"/><stop offset="0.3493" stop-color="#463bdc"/><stop offset="0.3718" stop-color="#4435d1"/><stop offset="0.3887" stop-color="#412dbc"/><stop offset="0.4000" stop-color="#412dbc"/><stop offset="0.4113" stop-color="#4331c6"/><stop offset="0.4394" stop-color="#4331c6"/><stop offset="0.4676" stop-color="#4537d6"/><stop offset="0.4958" stop-color="#4433cc"/><stop offset="0.5070" stop-color="#422fc0"/><stop offset="0.5803" stop-color="#422fc0"/><stop offset="0.6085" stop-color="#4433cc"/><stop offset="0.6930" stop-color="#4433cc"/><stop offset="0.7211" stop-color="#4332c9"/><stop offset="0.8056" stop-color="#4332c9"/><stop offset="0.8338" stop-color="#4538d8"/><stop offset="0.8563" stop-color="#412cb9"/><stop offset="0.8676" stop-color="#412cb9"/><stop offset="0.8761" stop-color="#4434cf"/><stop offset="0.8845" stop-color="#473fe2"/><stop offset="0.9183" stop-color="#4850f3"/><stop offset="0.9352" stop-color="#4850f3"/><stop offset="0.9577" stop-color="#4746eb"/><stop offset="1.0000" stop-color="#4746eb"/></linearGradient>
<linearGradient id="ga_44" gradientUnits="userSpaceOnUse" x1="170" y1="0" x2="1945" y2="0"><stop offset="0.0000" stop-color="#4758f8"/><stop offset="0.0169" stop-color="#4758f8"/><stop offset="0.0197" stop-color="#4660fb"/><stop offset="0.0310" stop-color="#4660fb"/><stop offset="0.0507" stop-color="#484cf0"/><stop offset="0.0732" stop-color="#484cf0"/><stop offset="0.0831" stop-color="#473fe2"/><stop offset="0.0930" stop-color="#4433cc"/><stop offset="0.0986" stop-color="#4433cc"/><stop offset="0.1183" stop-color="#4746eb"/><stop offset="0.1521" stop-color="#4746eb"/><stop offset="0.1690" stop-color="#4538d8"/><stop offset="0.1803" stop-color="#4538d8"/><stop offset="0.2085" stop-color="#473fe2"/><stop offset="0.2535" stop-color="#473fe2"/><stop offset="0.2873" stop-color="#4433cc"/><stop offset="0.2986" stop-color="#412dbc"/><stop offset="0.3211" stop-color="#412cb9"/><stop offset="0.3324" stop-color="#412cb9"/><stop offset="0.3493" stop-color="#463cde"/><stop offset="0.3831" stop-color="#4538d8"/><stop offset="0.4113" stop-color="#4538d8"/><stop offset="0.4254" stop-color="#412cb9"/><stop offset="0.4366" stop-color="#412cb9"/><stop offset="0.4563" stop-color="#4435d1"/><stop offset="0.4845" stop-color="#422ebe"/><stop offset="0.5070" stop-color="#422ebe"/><stop offset="0.5239" stop-color="#402ab5"/><stop offset="0.5352" stop-color="#402ab5"/><stop offset="0.5521" stop-color="#4331c6"/><stop offset="0.5972" stop-color="#4331c6"/><stop offset="0.6169" stop-color="#412dbc"/><stop offset="0.6366" stop-color="#4538d8"/><stop offset="0.6535" stop-color="#4538d8"/><stop offset="0.6817" stop-color="#4433cc"/><stop offset="0.7211" stop-color="#412cb9"/><stop offset="0.7268" stop-color="#412cb9"/><stop offset="0.7493" stop-color="#4331c6"/><stop offset="0.7634" stop-color="#412cb9"/><stop offset="0.7718" stop-color="#412cb9"/><stop offset="0.7887" stop-color="#4433cc"/><stop offset="0.8056" stop-color="#422fc0"/><stop offset="0.8113" stop-color="#422fc0"/><stop offset="0.8338" stop-color="#4538d8"/><stop offset="0.8732" stop-color="#4745e9"/><stop offset="0.8913" stop-color="#4745e9"/><stop offset="0.8977" stop-color="#4538d8"/><stop offset="0.9042" stop-color="#422fc0"/><stop offset="0.9099" stop-color="#422fc0"/><stop offset="0.9146" stop-color="#4740e4"/><stop offset="0.9192" stop-color="#4755f6"/><stop offset="0.9239" stop-color="#416bfe"/><stop offset="0.9408" stop-color="#416bfe"/><stop offset="0.9465" stop-color="#4855f6"/><stop offset="0.9521" stop-color="#473fe2"/><stop offset="0.9577" stop-color="#422fc0"/><stop offset="0.9662" stop-color="#422fc0"/><stop offset="0.9718" stop-color="#4639da"/><stop offset="0.9775" stop-color="#4746eb"/><stop offset="1.0000" stop-color="#4746eb"/></linearGradient>
<linearGradient id="ga_45" gradientUnits="userSpaceOnUse" x1="170" y1="0" x2="1945" y2="0"><stop offset="0.0000" stop-color="#4850f3"/><stop offset="0.0141" stop-color="#4850f3"/><stop offset="0.0169" stop-color="#4850f3"/><stop offset="0.0338" stop-color="#4850f3"/><stop offset="0.0408" stop-color="#463cde"/><stop offset="0.0479" stop-color="#412cb9"/><stop offset="0.0535" stop-color="#412cb9"/><stop offset="0.0634" stop-color="#4434cf"/><stop offset="0.0732" stop-color="#473fe2"/><stop offset="0.0958" stop-color="#4537d6"/><stop offset="0.1183" stop-color="#4746eb"/><stop offset="0.1521" stop-color="#4746eb"/><stop offset="0.1577" stop-color="#463adb"/><stop offset="0.1634" stop-color="#4230c3"/><stop offset="0.1859" stop-color="#4230c3"/><stop offset="0.2085" stop-color="#4742e6"/><stop offset="0.2535" stop-color="#4742e6"/><stop offset="0.2761" stop-color="#4435d1"/><stop offset="0.2930" stop-color="#412dbc"/><stop offset="0.3042" stop-color="#412dbc"/><stop offset="0.3268" stop-color="#4331c6"/><stop offset="0.3493" stop-color="#473fe2"/><stop offset="0.3775" stop-color="#4435d1"/><stop offset="0.4113" stop-color="#4435d1"/><stop offset="0.4394" stop-color="#4538d8"/><stop offset="0.4676" stop-color="#4538d8"/><stop offset="0.4901" stop-color="#422ebe"/><stop offset="0.5070" stop-color="#422ebe"/><stop offset="0.5239" stop-color="#402ab5"/><stop offset="0.5352" stop-color="#402ab5"/><stop offset="0.5521" stop-color="#4433cc"/><stop offset="0.5690" stop-color="#412cb9"/><stop offset="0.5803" stop-color="#412cb9"/><stop offset="0.5972" stop-color="#4433cc"/><stop offset="0.6169" stop-color="#412cb9"/><stop offset="0.6225" stop-color="#412cb9"/><stop offset="0.6423" stop-color="#4538d8"/><stop offset="0.6704" stop-color="#402ab5"/><stop offset="0.6817" stop-color="#402ab5"/><stop offset="0.7042" stop-color="#4433cc"/><stop offset="0.7211" stop-color="#412dbc"/><stop offset="0.7493" stop-color="#4331c6"/><stop offset="0.7944" stop-color="#4331c6"/><stop offset="0.8056" stop-color="#412dbc"/><stop offset="0.8141" stop-color="#412dbc"/><stop offset="0.8338" stop-color="#463cde"/><stop offset="0.8732" stop-color="#4850f3"/><stop offset="0.8913" stop-color="#4850f3"/><stop offset="0.8977" stop-color="#463ee1"/><stop offset="0.9042" stop-color="#422fc0"/><stop offset="0.9099" stop-color="#422fc0"/><stop offset="0.9134" stop-color="#463de0"/><stop offset="0.9169" stop-color="#4850f2"/><stop offset="0.9204" stop-color="#4562fc"/><stop offset="0.9239" stop-color="#3875fe"/><stop offset="0.9408" stop-color="#3875fe"/><stop offset="0.9493" stop-color="#465dfa"/><stop offset="0.9577" stop-color="#4746eb"/><stop offset="1.0000" stop-color="#4746eb"/></linearGradient>
<linearGradient id="ga_46" gradientUnits="userSpaceOnUse" x1="170" y1="0" x2="1945" y2="0"><stop offset="0.0000" stop-color="#4850f3"/><stop offset="0.0141" stop-color="#4850f3"/><stop offset="0.0169" stop-color="#4850f3"/><stop offset="0.0310" stop-color="#4850f3"/><stop offset="0.0394" stop-color="#473ee2"/><stop offset="0.0479" stop-color="#4230c3"/><stop offset="0.0535" stop-color="#4230c3"/><stop offset="0.0634" stop-color="#463adb"/><stop offset="0.0732" stop-color="#4746eb"/><stop offset="0.0958" stop-color="#4746eb"/><stop offset="0.1183" stop-color="#484cf0"/><stop offset="0.1465" stop-color="#484cf0"/><stop offset="0.1549" stop-color="#463adb"/><stop offset="0.1634" stop-color="#412cb9"/><stop offset="0.1915" stop-color="#412cb9"/><stop offset="0.2000" stop-color="#4537d5"/><stop offset="0.2085" stop-color="#4745e9"/><stop offset="0.2535" stop-color="#4745e9"/><stop offset="0.2761" stop-color="#4536d3"/><stop offset="0.2986" stop-color="#412dbc"/><stop offset="0.3211" stop-color="#4331c6"/><stop offset="0.3493" stop-color="#473fe2"/><stop offset="0.3775" stop-color="#4433cc"/><stop offset="0.3831" stop-color="#422fc0"/><stop offset="0.3887" stop-color="#4433cc"/><stop offset="0.4113" stop-color="#4538d8"/><stop offset="0.4676" stop-color="#4538d8"/><stop offset="0.4845" stop-color="#422fc0"/><stop offset="0.5070" stop-color="#422fc0"/><stop offset="0.5239" stop-color="#4331c6"/><stop offset="0.5465" stop-color="#4538d8"/><stop offset="0.5690" stop-color="#412cb9"/><stop offset="0.5803" stop-color="#412cb9"/><stop offset="0.5972" stop-color="#4538d8"/><stop offset="0.6197" stop-color="#4331c6"/><stop offset="0.6423" stop-color="#4538d8"/><stop offset="0.6704" stop-color="#402ab5"/><stop offset="0.6817" stop-color="#402ab5"/><stop offset="0.7042" stop-color="#4433cc"/><stop offset="0.7493" stop-color="#4331c6"/><stop offset="0.8056" stop-color="#4331c6"/><stop offset="0.8338" stop-color="#473fe2"/><stop offset="0.8620" stop-color="#473fe2"/><stop offset="0.8676" stop-color="#484df0"/><stop offset="0.8732" stop-color="#475af9"/><stop offset="0.8913" stop-color="#475af9"/><stop offset="0.8977" stop-color="#4849ed"/><stop offset="0.9042" stop-color="#4538d8"/><stop offset="0.9108" stop-color="#484ff2"/><stop offset="0.9174" stop-color="#4466fd"/><stop offset="0.9239" stop-color="#307efb"/><stop offset="0.9408" stop-color="#307efb"/><stop offset="0.9493" stop-color="#4367fd"/><stop offset="0.9577" stop-color="#4850f3"/><stop offset="1.0000" stop-color="#4850f3"/></linearGradient>
<linearGradient id="ga_47" gradientUnits="userSpaceOnUse" x1="170" y1="0" x2="1945" y2="0"><stop offset="0.0000" stop-color="#4850f3"/><stop offset="0.0113" stop-color="#4850f3"/><stop offset="0.0141" stop-color="#4758f8"/><stop offset="0.0310" stop-color="#4758f8"/><stop offset="0.0380" stop-color="#484bef"/><stop offset="0.0451" stop-color="#473fe2"/><stop offset="0.0507" stop-color="#4855f6"/><stop offset="0.0563" stop-color="#416bfe"/><stop offset="0.0732" stop-color="#416bfe"/><stop offset="0.0845" stop-color="#4758f8"/><stop offset="0.0958" stop-color="#4746eb"/><stop offset="0.1296" stop-color="#4746eb"/><stop offset="0.1338" stop-color="#463adb"/><stop offset="0.1380" stop-color="#4230c3"/><stop offset="0.1465" stop-color="#4230c3"/><stop offset="0.1577" stop-color="#4435d1"/><stop offset="0.1859" stop-color="#4435d1"/><stop offset="0.2085" stop-color="#4746eb"/><stop offset="0.2535" stop-color="#4746eb"/><stop offset="0.2761" stop-color="#463bdc"/><stop offset="0.2986" stop-color="#422fc0"/><stop offset="0.3211" stop-color="#4433cc"/><stop offset="0.3493" stop-color="#473fe2"/><stop offset="0.3775" stop-color="#422fc0"/><stop offset="0.3887" stop-color="#422fc0"/><stop offset="0.4113" stop-color="#4537d6"/><stop offset="0.4394" stop-color="#4433cc"/><stop offset="0.4789" stop-color="#422fc0"/><stop offset="0.5070" stop-color="#422fc0"/><stop offset="0.5408" stop-color="#463bdc"/><stop offset="0.5521" stop-color="#463bdc"/><stop offset="0.5746" stop-color="#422fc0"/><stop offset="0.5972" stop-color="#463bdc"/><stop offset="0.6197" stop-color="#412cb9"/><stop offset="0.6310" stop-color="#412cb9"/><stop offset="0.6479" stop-color="#4435d1"/><stop offset="0.6761" stop-color="#412cb9"/><stop offset="0.7042" stop-color="#4433cc"/><stop offset="0.7493" stop-color="#4331c6"/><stop offset="0.8056" stop-color="#4331c6"/><stop offset="0.8338" stop-color="#473fe2"/><stop offset="0.8535" stop-color="#412dbc"/><stop offset="0.8620" stop-color="#412dbc"/><stop offset="0.8657" stop-color="#463bde"/><stop offset="0.8695" stop-color="#484ef1"/><stop offset="0.8732" stop-color="#4660fb"/><stop offset="0.8913" stop-color="#4660fb"/><stop offset="0.8977" stop-color="#484ff2"/><stop offset="0.9042" stop-color="#473fe2"/><stop offset="0.9108" stop-color="#4755f6"/><stop offset="0.9174" stop-color="#416bfe"/><stop offset="0.9239" stop-color="#2e83f9"/><stop offset="0.9380" stop-color="#2e83f9"/><stop offset="0.9446" stop-color="#3c71ff"/><stop offset="0.9512" stop-color="#4660fc"/><stop offset="0.9577" stop-color="#4850f3"/><stop offset="0.9746" stop-color="#4742e6"/><stop offset="1.0000" stop-color="#4742e6"/></linearGradient>
<linearGradient id="ga_48" gradientUnits="userSpaceOnUse" x1="170" y1="0" x2="1945" y2="0"><stop offset="0.0000" stop-color="#4850f3"/><stop offset="0.0113" stop-color="#4850f3"/><stop offset="0.0141" stop-color="#4850f3"/><stop offset="0.0282" stop-color="#4850f3"/><stop offset="0.0338" stop-color="#473fe2"/><stop offset="0.0394" stop-color="#4331c6"/><stop offset="0.0451" stop-color="#4331c6"/><stop offset="0.0486" stop-color="#4740e3"/><stop offset="0.0521" stop-color="#4851f3"/><stop offset="0.0556" stop-color="#4563fc"/><stop offset="0.0592" stop-color="#3875fe"/><stop offset="0.0732" stop-color="#3875fe"/><stop offset="0.0789" stop-color="#465dfa"/><stop offset="0.0845" stop-color="#4746eb"/><stop offset="0.0887" stop-color="#463adc"/><stop offset="0.0930" stop-color="#4331c6"/><stop offset="0.0986" stop-color="#4331c6"/><stop offset="0.1056" stop-color="#463de0"/><stop offset="0.1127" stop-color="#484cf0"/><stop offset="0.1296" stop-color="#484cf0"/><stop offset="0.1352" stop-color="#473fe2"/><stop offset="0.1408" stop-color="#4433cc"/><stop offset="0.1577" stop-color="#463cde"/><stop offset="0.1859" stop-color="#463cde"/><stop offset="0.2085" stop-color="#4746eb"/><stop offset="0.2535" stop-color="#4746eb"/><stop offset="0.2704" stop-color="#4742e6"/><stop offset="0.2930" stop-color="#4331c6"/><stop offset="0.3042" stop-color="#4331c6"/><stop offset="0.3268" stop-color="#4435d1"/><stop offset="0.3549" stop-color="#463cde"/><stop offset="0.3831" stop-color="#4435d1"/><stop offset="0.4113" stop-color="#4538d8"/><stop offset="0.4338" stop-color="#412dbc"/><stop offset="0.5014" stop-color="#412dbc"/><stop offset="0.5127" stop-color="#4433cc"/><stop offset="0.5408" stop-color="#463cde"/><stop offset="0.5521" stop-color="#463cde"/><stop offset="0.5746" stop-color="#412dbc"/><stop offset="0.5972" stop-color="#463cde"/><stop offset="0.6225" stop-color="#412cb9"/><stop offset="0.6310" stop-color="#412cb9"/><stop offset="0.6479" stop-color="#4433cc"/><stop offset="0.6704" stop-color="#402ab5"/><stop offset="0.6789" stop-color="#402ab5"/><stop offset="0.6986" stop-color="#4433cc"/><stop offset="0.7155" stop-color="#412cb9"/><stop offset="0.7211" stop-color="#412cb9"/><stop offset="0.7493" stop-color="#4331c6"/><stop offset="0.7606" stop-color="#412dbc"/><stop offset="0.7831" stop-color="#4435d1"/><stop offset="0.8056" stop-color="#412dbc"/><stop offset="0.8113" stop-color="#412dbc"/><stop offset="0.8338" stop-color="#473fe2"/><stop offset="0.8563" stop-color="#4433cc"/><stop offset="0.8620" stop-color="#4740e4"/><stop offset="0.8676" stop-color="#4850f3"/><stop offset="0.8732" stop-color="#4660fb"/><stop offset="0.8913" stop-color="#4660fb"/><stop offset="0.8946" stop-color="#484ef1"/><stop offset="0.8980" stop-color="#463bde"/><stop offset="0.9014" stop-color="#412dbc"/><stop offset="0.9070" stop-color="#412dbc"/><stop offset="0.9113" stop-color="#473fe2"/><stop offset="0.9155" stop-color="#4755f6"/><stop offset="0.9197" stop-color="#416bfe"/><stop offset="0.9239" stop-color="#2e83f9"/><stop offset="0.9352" stop-color="#2e83f9"/><stop offset="0.9408" stop-color="#416bfe"/><stop offset="0.9465" stop-color="#4755f6"/><stop offset="0.9521" stop-color="#473fe2"/><stop offset="0.9577" stop-color="#4331c6"/><stop offset="0.9634" stop-color="#4331c6"/><stop offset="0.9718" stop-color="#463adc"/><stop offset="0.9803" stop-color="#4746eb"/><stop offset="1.0000" stop-color="#4746eb"/></linearGradient>
<linearGradient id="ga_49" gradientUnits="userSpaceOnUse" x1="170" y1="0" x2="1945" y2="0"><stop offset="0.0000" stop-color="#4850f3"/><stop offset="0.0113" stop-color="#4850f3"/><stop offset="0.0130" stop-color="#4850f3"/><stop offset="0.0254" stop-color="#4850f3"/><stop offset="0.0310" stop-color="#4740e4"/><stop offset="0.0366" stop-color="#4433cc"/><stop offset="0.0423" stop-color="#4433cc"/><stop offset="0.0469" stop-color="#4747eb"/><stop offset="0.0516" stop-color="#465efb"/><stop offset="0.0563" stop-color="#3875fe"/><stop offset="0.0732" stop-color="#3875fe"/><stop offset="0.0789" stop-color="#4660fc"/><stop offset="0.0845" stop-color="#484cf0"/><stop offset="0.1296" stop-color="#484cf0"/><stop offset="0.1577" stop-color="#473fe2"/><stop offset="0.1859" stop-color="#4746eb"/><stop offset="0.2761" stop-color="#4746eb"/><stop offset="0.2930" stop-color="#4433cc"/><stop offset="0.3155" stop-color="#4538d8"/><stop offset="0.3324" stop-color="#422fc0"/><stop offset="0.3380" stop-color="#422fc0"/><stop offset="0.3549" stop-color="#4538d8"/><stop offset="0.3718" stop-color="#4538d8"/><stop offset="0.3887" stop-color="#4331c6"/><stop offset="0.4113" stop-color="#4538d8"/><stop offset="0.4394" stop-color="#412dbc"/><stop offset="0.4676" stop-color="#412dbc"/><stop offset="0.4901" stop-color="#4331c6"/><stop offset="0.5070" stop-color="#4433cc"/><stop offset="0.5408" stop-color="#463cde"/><stop offset="0.5521" stop-color="#463cde"/><stop offset="0.5746" stop-color="#412dbc"/><stop offset="0.5972" stop-color="#473fe2"/><stop offset="0.6085" stop-color="#473fe2"/><stop offset="0.6310" stop-color="#412dbc"/><stop offset="0.6479" stop-color="#4435d1"/><stop offset="0.6592" stop-color="#4435d1"/><stop offset="0.6761" stop-color="#412dbc"/><stop offset="0.6986" stop-color="#4433cc"/><stop offset="0.7183" stop-color="#412dbc"/><stop offset="0.7493" stop-color="#4331c6"/><stop offset="0.7606" stop-color="#412dbc"/><stop offset="0.7831" stop-color="#4538d8"/><stop offset="0.8085" stop-color="#422fc0"/><stop offset="0.8338" stop-color="#4742e6"/><stop offset="0.8535" stop-color="#4851f3"/><stop offset="0.8732" stop-color="#4660fb"/><stop offset="0.8913" stop-color="#4660fb"/><stop offset="0.8956" stop-color="#484ff2"/><stop offset="0.8999" stop-color="#473fe2"/><stop offset="0.9042" stop-color="#4331c6"/><stop offset="0.9092" stop-color="#4740e3"/><stop offset="0.9141" stop-color="#4851f3"/><stop offset="0.9190" stop-color="#4563fc"/><stop offset="0.9239" stop-color="#3875fe"/><stop offset="0.9352" stop-color="#3875fe"/><stop offset="0.9408" stop-color="#4563fd"/><stop offset="0.9465" stop-color="#4853f4"/><stop offset="0.9521" stop-color="#4742e6"/><stop offset="0.9606" stop-color="#4433cc"/><stop offset="0.9803" stop-color="#4746eb"/><stop offset="1.0000" stop-color="#4746eb"/></linearGradient>
<linearGradient id="ga_50" gradientUnits="userSpaceOnUse" x1="170" y1="0" x2="1945" y2="0"><stop offset="0.0000" stop-color="#4850f3"/><stop offset="0.0113" stop-color="#4850f3"/><stop offset="0.0130" stop-color="#4850f3"/><stop offset="0.0254" stop-color="#4850f3"/><stop offset="0.0310" stop-color="#4740e4"/><stop offset="0.0366" stop-color="#4433cc"/><stop offset="0.0432" stop-color="#4746ea"/><stop offset="0.0498" stop-color="#475af9"/><stop offset="0.0563" stop-color="#3d70ff"/><stop offset="0.0732" stop-color="#3d70ff"/><stop offset="0.0817" stop-color="#4660fb"/><stop offset="0.0901" stop-color="#4850f3"/><stop offset="0.1296" stop-color="#4850f3"/><stop offset="0.1577" stop-color="#4746eb"/><stop offset="0.2197" stop-color="#4746eb"/><stop offset="0.2535" stop-color="#484cf0"/><stop offset="0.2761" stop-color="#484cf0"/><stop offset="0.2845" stop-color="#4740e4"/><stop offset="0.2930" stop-color="#4435d1"/><stop offset="0.3155" stop-color="#4538d8"/><stop offset="0.3718" stop-color="#4538d8"/><stop offset="0.3887" stop-color="#4331c6"/><stop offset="0.4113" stop-color="#4538d8"/><stop offset="0.4394" stop-color="#412dbc"/><stop offset="0.4676" stop-color="#412dbc"/><stop offset="0.4901" stop-color="#4433cc"/><stop offset="0.5070" stop-color="#4435d1"/><stop offset="0.5239" stop-color="#412dbc"/><stop offset="0.5465" stop-color="#463bdc"/><stop offset="0.5746" stop-color="#4331c6"/><stop offset="0.6028" stop-color="#473fe2"/><stop offset="0.6310" stop-color="#422fc0"/><stop offset="0.6535" stop-color="#4538d8"/><stop offset="0.6761" stop-color="#4331c6"/><stop offset="0.6986" stop-color="#4435d1"/><stop offset="0.7211" stop-color="#4331c6"/><stop offset="0.7493" stop-color="#4433cc"/><stop offset="0.7606" stop-color="#4433cc"/><stop offset="0.7831" stop-color="#463cde"/><stop offset="0.8085" stop-color="#4433cc"/><stop offset="0.8338" stop-color="#4746eb"/><stop offset="0.8535" stop-color="#4853f5"/><stop offset="0.8732" stop-color="#4660fb"/><stop offset="0.8913" stop-color="#4660fb"/><stop offset="0.8977" stop-color="#484aee"/><stop offset="0.9042" stop-color="#4435d1"/><stop offset="0.9108" stop-color="#4746ea"/><stop offset="0.9174" stop-color="#4758f8"/><stop offset="0.9239" stop-color="#416bfe"/><stop offset="0.9352" stop-color="#416bfe"/><stop offset="0.9408" stop-color="#4758f8"/><stop offset="0.9465" stop-color="#4746eb"/><stop offset="1.0000" stop-color="#4746eb"/></linearGradient>
<linearGradient id="cba" gradientUnits="userSpaceOnUse" x1="0" y1="1656.5" x2="0" y2="89.5"><stop offset="0.0000" stop-color="#3e26a8"/><stop offset="0.0156" stop-color="#402ab4"/><stop offset="0.0312" stop-color="#422ebf"/><stop offset="0.0469" stop-color="#4332ca"/><stop offset="0.0625" stop-color="#4536d5"/><stop offset="0.0781" stop-color="#463bdd"/><stop offset="0.0938" stop-color="#4741e5"/><stop offset="0.1094" stop-color="#4746ea"/><stop offset="0.1250" stop-color="#484cef"/><stop offset="0.1406" stop-color="#4852f4"/><stop offset="0.1562" stop-color="#4757f7"/><stop offset="0.1719" stop-color="#475dfa"/><stop offset="0.1875" stop-color="#4562fc"/><stop offset="0.2031" stop-color="#4368fe"/><stop offset="0.2188" stop-color="#3f6efe"/><stop offset="0.2344" stop-color="#3a74fe"/><stop offset="0.2500" stop-color="#347afd"/><stop offset="0.2656" stop-color="#3080fa"/><stop offset="0.2812" stop-color="#2e85f8"/><stop offset="0.2969" stop-color="#2d8bf4"/><stop offset="0.3125" stop-color="#2c90f0"/><stop offset="0.3281" stop-color="#2895ec"/><stop offset="0.3438" stop-color="#269ae9"/><stop offset="0.3594" stop-color="#249ee6"/><stop offset="0.3750" stop-color="#21a3e3"/><stop offset="0.3906" stop-color="#1ea7e1"/><stop offset="0.4062" stop-color="#1aacdd"/><stop offset="0.4219" stop-color="#14b0d8"/><stop offset="0.4375" stop-color="#0cb3d3"/><stop offset="0.4531" stop-color="#04b6cd"/><stop offset="0.4688" stop-color="#01b9c6"/><stop offset="0.4844" stop-color="#07bcc0"/><stop offset="0.5000" stop-color="#12beb9"/><stop offset="0.5156" stop-color="#1ec0b2"/><stop offset="0.5312" stop-color="#28c2ab"/><stop offset="0.5469" stop-color="#2ec5a4"/><stop offset="0.5625" stop-color="#34c79c"/><stop offset="0.5781" stop-color="#3ac993"/><stop offset="0.5938" stop-color="#44ca8a"/><stop offset="0.6094" stop-color="#4fcc80"/><stop offset="0.6250" stop-color="#5ccc76"/><stop offset="0.6406" stop-color="#69cd6b"/><stop offset="0.6562" stop-color="#77cc60"/><stop offset="0.6719" stop-color="#85cb55"/><stop offset="0.6875" stop-color="#94ca4a"/><stop offset="0.7031" stop-color="#a2c840"/><stop offset="0.7188" stop-color="#afc637"/><stop offset="0.7344" stop-color="#bcc42f"/><stop offset="0.7500" stop-color="#c8c129"/><stop offset="0.7656" stop-color="#d4bf28"/><stop offset="0.7812" stop-color="#debc2a"/><stop offset="0.7969" stop-color="#e8bb2f"/><stop offset="0.8125" stop-color="#f1ba37"/><stop offset="0.8281" stop-color="#f9bb3d"/><stop offset="0.8438" stop-color="#febe3c"/><stop offset="0.8594" stop-color="#fec437"/><stop offset="0.8750" stop-color="#feca33"/><stop offset="0.8906" stop-color="#fcd030"/><stop offset="0.9062" stop-color="#f9d62d"/><stop offset="0.9219" stop-color="#f7dd2a"/><stop offset="0.9375" stop-color="#f5e327"/><stop offset="0.9531" stop-color="#f5e924"/><stop offset="0.9688" stop-color="#f6ef20"/><stop offset="0.9844" stop-color="#f7f51b"/><stop offset="1.0000" stop-color="#f9fb15"/></linearGradient>
<clipPath id="clipb"><rect x="161" y="2035" width="1789" height="1580.5"/></clipPath>
<linearGradient id="gb_0" gradientUnits="userSpaceOnUse" x1="161" y1="0" x2="1950" y2="0"><stop offset="0.0000" stop-color="#463adc"/><stop offset="1.0000" stop-color="#463adc"/></linearGradient>
<linearGradient id="gb_1" gradientUnits="userSpaceOnUse" x1="161" y1="0" x2="1950" y2="0"><stop offset="0.0000" stop-color="#4538d7"/><stop offset="1.0000" stop-color="#4538d7"/></linearGradient>
<linearGradient id="gb_2" gradientUnits="userSpaceOnUse" x1="161" y1="0" x2="1950" y2="0"><stop offset="0.0000" stop-color="#4435d1"/><stop offset="1.0000" stop-color="#4435d1"/></linearGradient>
<linearGradient id="gb_3" gradientUnits="userSpaceOnUse" x1="161" y1="0" x2="1950" y2="0"><stop offset="0.0000" stop-color="#412dbc"/><stop offset="1.0000" stop-color="#412dbc"/></linearGradient>
<linearGradient id="gb_4" gradientUnits="userSpaceOnUse" x1="161" y1="0" x2="1950" y2="0"><stop offset="0.0000" stop-color="#412cb8"/><stop offset="1.0000" stop-color="#412cb8"/></linearGradient>
<linearGradient id="gb_5" gradientUnits="userSpaceOnUse" x1="161" y1="0" x2="1950" y2="0"><stop offset="0.0000" stop-color="#412cb8"/><stop offset="1.0000" stop-color="#412cb8"/></linearGradient>
<linearGradient id="gb_6" gradientUnits="userSpaceOnUse" x1="161" y1="0" x2="1950" y2="0"><stop offset="0.0000" stop-color="#412cba"/><stop offset="1.0000" stop-color="#412cba"/></linearGradient>
<linearGradient id="gb_7" gradientUnits="userSpaceOnUse" x1="161" y1="0" x2="1950" y2="0"><stop offset="0.0000" stop-color="#4332c9"/><stop offset="1.0000" stop-color="#4332c9"/></linearGradient>
<linearGradient id="gb_8" gradientUnits="userSpaceOnUse" x1="161" y1="0" x2="1950" y2="0"><stop offset="0.0000" stop-color="#4332c9"/><stop offset="1.0000" stop-color="#4332c9"/></linearGradient>
<linearGradient id="gb_9" gradientUnits="userSpaceOnUse" x1="161" y1="0" x2="1950" y2="0"><stop offset="0.0000" stop-color="#4332c9"/><stop offset="1.0000" stop-color="#4332c9"/></linearGradient>
<linearGradient id="gb_10" gradientUnits="userSpaceOnUse" x1="161" y1="0" x2="1950" y2="0"><stop offset="0.0000" stop-color="#422ec0"/><stop offset="0.3851" stop-color="#422ec0"/><stop offset="0.4131" stop-color="#412cba"/><stop offset="0.5416" stop-color="#412cba"/><stop offset="0.5808" stop-color="#4230c4"/><stop offset="1.0000" stop-color="#4230c4"/></linearGradient>
<linearGradient id="gb_11" gradientUnits="userSpaceOnUse" x1="161" y1="0" x2="1950" y2="0"><stop offset="0.0000" stop-color="#4434cf"/><stop offset="0.5249" stop-color="#4434cf"/><stop offset="0.6367" stop-color="#4537d6"/><stop offset="1.0000" stop-color="#4537d6"/></linearGradient>
<linearGradient id="gb_12" gradientUnits="userSpaceOnUse" x1="161" y1="0" x2="1950" y2="0"><stop offset="0.0000" stop-color="#4740e4"/><stop offset="0.5031" stop-color="#4740e4"/><stop offset="0.5808" stop-color="#4742e6"/><stop offset="0.7205" stop-color="#4742e6"/><stop offset="0.7485" stop-color="#463ee1"/><stop offset="1.0000" stop-color="#463ee1"/></linearGradient>
<linearGradient id="gb_13" gradientUnits="userSpaceOnUse" x1="161" y1="0" x2="1950" y2="0"><stop offset="0.0000" stop-color="#4746ea"/><stop offset="0.2515" stop-color="#4746ea"/><stop offset="0.3013" stop-color="#4848ec"/><stop offset="0.4690" stop-color="#4848ec"/><stop offset="0.5031" stop-color="#484bef"/><stop offset="0.6926" stop-color="#484bef"/><stop offset="0.7373" stop-color="#4742e6"/><stop offset="0.7596" stop-color="#463ee1"/><stop offset="1.0000" stop-color="#463ee1"/></linearGradient>
<linearGradient id="gb_14" gradientUnits="userSpaceOnUse" x1="161" y1="0" x2="1950" y2="0"><stop offset="0.0000" stop-color="#4740e4"/><stop offset="0.2515" stop-color="#4740e4"/><stop offset="0.3013" stop-color="#4744e8"/><stop offset="0.4690" stop-color="#4744e8"/><stop offset="0.5031" stop-color="#484aed"/><stop offset="0.6087" stop-color="#4851f3"/><stop offset="0.6926" stop-color="#4851f3"/><stop offset="0.7373" stop-color="#4746ea"/><stop offset="0.7820" stop-color="#4746ea"/><stop offset="0.8155" stop-color="#4740e4"/><stop offset="1.0000" stop-color="#4740e4"/></linearGradient>
<linearGradient id="gb_15" gradientUnits="userSpaceOnUse" x1="161" y1="0" x2="1950" y2="0"><stop offset="0.0000" stop-color="#4434cf"/><stop offset="0.2515" stop-color="#4434cf"/><stop offset="0.3013" stop-color="#4539d9"/><stop offset="0.4690" stop-color="#4539d9"/><stop offset="0.5031" stop-color="#463cdf"/><stop offset="0.5361" stop-color="#463cdf"/><stop offset="0.5808" stop-color="#484aed"/><stop offset="0.6367" stop-color="#4757f7"/><stop offset="0.7205" stop-color="#4757f7"/><stop offset="0.7485" stop-color="#484ff2"/><stop offset="0.7820" stop-color="#484ff2"/><stop offset="0.8155" stop-color="#4746ea"/><stop offset="1.0000" stop-color="#4746ea"/></linearGradient>
<linearGradient id="gb_16" gradientUnits="userSpaceOnUse" x1="161" y1="0" x2="1950" y2="0"><stop offset="0.0000" stop-color="#4230c4"/><stop offset="0.2515" stop-color="#4230c4"/><stop offset="0.3013" stop-color="#4434cf"/><stop offset="0.4131" stop-color="#4434cf"/><stop offset="0.4466" stop-color="#412cb8"/><stop offset="0.4857" stop-color="#412cb8"/><stop offset="0.5031" stop-color="#4230c4"/><stop offset="0.5249" stop-color="#4230c4"/><stop offset="0.5528" stop-color="#463cdf"/><stop offset="0.6087" stop-color="#484ff2"/><stop offset="0.6367" stop-color="#4759f8"/><stop offset="0.7205" stop-color="#4759f8"/><stop offset="0.7485" stop-color="#4755f6"/><stop offset="0.7708" stop-color="#4755f6"/><stop offset="0.8044" stop-color="#484aed"/><stop offset="1.0000" stop-color="#484aed"/></linearGradient>
<linearGradient id="gb_17" gradientUnits="userSpaceOnUse" x1="161" y1="0" x2="1950" y2="0"><stop offset="0.0000" stop-color="#412cba"/><stop offset="0.2230" stop-color="#412cba"/><stop offset="0.2515" stop-color="#412dbc"/><stop offset="0.2789" stop-color="#412dbc"/><stop offset="0.3013" stop-color="#4434cf"/><stop offset="0.4690" stop-color="#4434cf"/><stop offset="0.5031" stop-color="#4434cf"/><stop offset="0.5249" stop-color="#4434cf"/><stop offset="0.5696" stop-color="#4746ea"/><stop offset="0.6087" stop-color="#4755f6"/><stop offset="0.7205" stop-color="#4755f6"/><stop offset="0.7485" stop-color="#484ff2"/><stop offset="0.8044" stop-color="#4746ea"/><stop offset="1.0000" stop-color="#4746ea"/></linearGradient>
<linearGradient id="gb_18" gradientUnits="userSpaceOnUse" x1="161" y1="0" x2="1950" y2="0"><stop offset="0.0000" stop-color="#4230c4"/><stop offset="0.2515" stop-color="#4230c4"/><stop offset="0.3013" stop-color="#4434cf"/><stop offset="0.3572" stop-color="#4539d9"/><stop offset="0.4690" stop-color="#4742e6"/><stop offset="0.5031" stop-color="#4742e6"/><stop offset="0.5528" stop-color="#484ff2"/><stop offset="0.6926" stop-color="#484ff2"/><stop offset="0.7485" stop-color="#4746ea"/><stop offset="1.0000" stop-color="#4746ea"/></linearGradient>
<linearGradient id="gb_19" gradientUnits="userSpaceOnUse" x1="161" y1="0" x2="1950" y2="0"><stop offset="0.0000" stop-color="#4434cf"/><stop offset="0.2515" stop-color="#4434cf"/><stop offset="0.3013" stop-color="#4537d6"/><stop offset="0.4131" stop-color="#463cdf"/><stop offset="0.4690" stop-color="#4746ea"/><stop offset="0.5031" stop-color="#4746ea"/><stop offset="0.5249" stop-color="#484ff2"/><stop offset="0.6087" stop-color="#484ff2"/><stop offset="0.6534" stop-color="#4746ea"/><stop offset="0.6926" stop-color="#4537d6"/><stop offset="0.7708" stop-color="#4537d6"/><stop offset="0.8044" stop-color="#4742e6"/><stop offset="0.8323" stop-color="#4746ea"/><stop offset="1.0000" stop-color="#4746ea"/></linearGradient>
<linearGradient id="gb_20" gradientUnits="userSpaceOnUse" x1="161" y1="0" x2="1950" y2="0"><stop offset="0.0000" stop-color="#463ee1"/><stop offset="0.2230" stop-color="#463ee1"/><stop offset="0.2515" stop-color="#4434cf"/><stop offset="0.3013" stop-color="#4434cf"/><stop offset="0.3236" stop-color="#412dbc"/><stop offset="0.3684" stop-color="#412dbc"/><stop offset="0.4131" stop-color="#4537d6"/><stop offset="0.4690" stop-color="#4742e6"/><stop offset="0.5031" stop-color="#484ff2"/><stop offset="0.5808" stop-color="#484ff2"/><stop offset="0.6255" stop-color="#4746ea"/><stop offset="0.6646" stop-color="#4537d6"/><stop offset="0.7149" stop-color="#402ab5"/><stop offset="0.7652" stop-color="#402ab5"/><stop offset="0.7764" stop-color="#4433cb"/><stop offset="0.7876" stop-color="#463cdf"/><stop offset="0.8155" stop-color="#4746ea"/><stop offset="0.8491" stop-color="#484ff2"/><stop offset="1.0000" stop-color="#484ff2"/></linearGradient>
<linearGradient id="gb_21" gradientUnits="userSpaceOnUse" x1="161" y1="0" x2="1950" y2="0"><stop offset="0.0000" stop-color="#484df1"/><stop offset="0.2230" stop-color="#484df1"/><stop offset="0.2373" stop-color="#4742e6"/><stop offset="0.2515" stop-color="#4537d6"/><stop offset="0.3013" stop-color="#4537d6"/><stop offset="0.3348" stop-color="#422ec0"/><stop offset="0.3684" stop-color="#422ec0"/><stop offset="0.4131" stop-color="#4537d6"/><stop offset="0.4690" stop-color="#4740e4"/><stop offset="0.5031" stop-color="#484aed"/><stop offset="0.5808" stop-color="#484aed"/><stop offset="0.6367" stop-color="#4742e6"/><stop offset="0.6926" stop-color="#4537d6"/><stop offset="0.7485" stop-color="#4537d6"/><stop offset="0.7820" stop-color="#4434cf"/><stop offset="0.8155" stop-color="#4742e6"/><stop offset="0.8603" stop-color="#484ff2"/><stop offset="1.0000" stop-color="#484ff2"/></linearGradient>
<linearGradient id="gb_22" gradientUnits="userSpaceOnUse" x1="161" y1="0" x2="1950" y2="0"><stop offset="0.0000" stop-color="#406cfe"/><stop offset="0.0777" stop-color="#406cfe"/><stop offset="0.1056" stop-color="#465ffb"/><stop offset="0.2230" stop-color="#465ffb"/><stop offset="0.2515" stop-color="#484df1"/><stop offset="0.2901" stop-color="#484df1"/><stop offset="0.3292" stop-color="#463cdf"/><stop offset="0.3572" stop-color="#4434cf"/><stop offset="0.4131" stop-color="#4434cf"/><stop offset="0.4690" stop-color="#463adc"/><stop offset="0.5031" stop-color="#4740e4"/><stop offset="0.6087" stop-color="#4740e4"/><stop offset="0.6534" stop-color="#4537d6"/><stop offset="0.6926" stop-color="#4539d9"/><stop offset="0.7485" stop-color="#4539d9"/><stop offset="0.7820" stop-color="#463cdf"/><stop offset="0.8323" stop-color="#463cdf"/><stop offset="0.8714" stop-color="#4746ea"/><stop offset="1.0000" stop-color="#4746ea"/></linearGradient>
<linearGradient id="gb_23" gradientUnits="userSpaceOnUse" x1="161" y1="0" x2="1950" y2="0"><stop offset="0.0000" stop-color="#06bcc0"/><stop offset="0.0665" stop-color="#06bcc0"/><stop offset="0.0740" stop-color="#10b2d5"/><stop offset="0.0814" stop-color="#21a3e3"/><stop offset="0.0889" stop-color="#2a93ed"/><stop offset="0.0931" stop-color="#2e85f8"/><stop offset="0.0973" stop-color="#3975fe"/><stop offset="0.1336" stop-color="#3975fe"/><stop offset="0.1420" stop-color="#4464fd"/><stop offset="0.1504" stop-color="#4755f6"/><stop offset="0.1783" stop-color="#4755f6"/><stop offset="0.2174" stop-color="#4368fe"/><stop offset="0.2515" stop-color="#4368fe"/><stop offset="0.2901" stop-color="#475bf9"/><stop offset="0.3348" stop-color="#475bf9"/><stop offset="0.3572" stop-color="#4746ea"/><stop offset="0.3740" stop-color="#4537d6"/><stop offset="0.4131" stop-color="#4537d6"/><stop offset="0.4690" stop-color="#463cdf"/><stop offset="0.5031" stop-color="#463cdf"/><stop offset="0.5165" stop-color="#412dbc"/><stop offset="0.5416" stop-color="#412dbc"/><stop offset="0.5696" stop-color="#463cdf"/><stop offset="0.6255" stop-color="#463cdf"/><stop offset="0.6534" stop-color="#4230c4"/><stop offset="0.6814" stop-color="#4230c4"/><stop offset="0.7205" stop-color="#463ee1"/><stop offset="0.7876" stop-color="#463ee1"/><stop offset="0.8044" stop-color="#4434cf"/><stop offset="0.8211" stop-color="#412cb8"/><stop offset="0.8491" stop-color="#412cb8"/><stop offset="0.8603" stop-color="#4537d6"/><stop offset="0.8714" stop-color="#4746ea"/><stop offset="0.8882" stop-color="#4757f7"/><stop offset="0.9106" stop-color="#4757f7"/><stop offset="0.9469" stop-color="#4759f8"/><stop offset="0.9693" stop-color="#4759f8"/><stop offset="0.9748" stop-color="#4848ec"/><stop offset="0.9804" stop-color="#4537d6"/><stop offset="1.0000" stop-color="#4537d6"/></linearGradient>
<linearGradient id="gb_24" gradientUnits="userSpaceOnUse" x1="161" y1="0" x2="1950" y2="0"><stop offset="0.0000" stop-color="#eeba34"/><stop offset="0.0721" stop-color="#eeba34"/><stop offset="0.0749" stop-color="#cbc129"/><stop offset="0.0777" stop-color="#9ec942"/><stop offset="0.0805" stop-color="#6dcd67"/><stop offset="0.0833" stop-color="#42ca8b"/><stop offset="0.0861" stop-color="#2bc3a8"/><stop offset="0.0879" stop-color="#0bbdbd"/><stop offset="0.0898" stop-color="#07b5d0"/><stop offset="0.0917" stop-color="#1caadf"/><stop offset="0.1056" stop-color="#1caadf"/><stop offset="0.1196" stop-color="#2798ea"/><stop offset="0.1336" stop-color="#2e85f8"/><stop offset="0.1448" stop-color="#3975fe"/><stop offset="0.1560" stop-color="#4464fd"/><stop offset="0.1895" stop-color="#4464fd"/><stop offset="0.2063" stop-color="#3d71ff"/><stop offset="0.2230" stop-color="#317dfc"/><stop offset="0.2515" stop-color="#317dfc"/><stop offset="0.2596" stop-color="#2d88f6"/><stop offset="0.2677" stop-color="#2a93ed"/><stop offset="0.2845" stop-color="#2d88f6"/><stop offset="0.3013" stop-color="#317dfc"/><stop offset="0.3572" stop-color="#317dfc"/><stop offset="0.4131" stop-color="#406cfe"/><stop offset="0.5808" stop-color="#406cfe"/><stop offset="0.6367" stop-color="#3777fe"/><stop offset="0.7546" stop-color="#3777fe"/><stop offset="0.7820" stop-color="#3777fe"/><stop offset="0.8044" stop-color="#3777fe"/><stop offset="0.8603" stop-color="#2f81fa"/><stop offset="0.9162" stop-color="#2f81fa"/><stop offset="0.9357" stop-color="#2f81fa"/><stop offset="0.9637" stop-color="#2f81fa"/><stop offset="0.9672" stop-color="#3f6dfe"/><stop offset="0.9707" stop-color="#475bf9"/><stop offset="0.9741" stop-color="#4849ed"/><stop offset="0.9776" stop-color="#4537d6"/><stop offset="1.0000" stop-color="#4537d6"/></linearGradient>
<linearGradient id="gb_25" gradientUnits="userSpaceOnUse" x1="161" y1="0" x2="1950" y2="0"><stop offset="0.0000" stop-color="#debd29"/><stop offset="0.0777" stop-color="#debd29"/><stop offset="0.0861" stop-color="#cbc129"/><stop offset="0.0945" stop-color="#cbc129"/><stop offset="0.1056" stop-color="#9ec942"/><stop offset="0.1168" stop-color="#6dcd67"/><stop offset="0.1308" stop-color="#42ca8b"/><stop offset="0.1448" stop-color="#2bc3a8"/><stop offset="0.1560" stop-color="#12beb9"/><stop offset="0.1671" stop-color="#01b8c9"/><stop offset="0.2007" stop-color="#01b8c9"/><stop offset="0.2454" stop-color="#1bc0b4"/><stop offset="0.2515" stop-color="#1bc0b4"/><stop offset="0.3013" stop-color="#04b6cd"/><stop offset="0.3572" stop-color="#1caadf"/><stop offset="0.6926" stop-color="#1caadf"/><stop offset="0.7485" stop-color="#0ab4d1"/><stop offset="0.9162" stop-color="#0ab4d1"/><stop offset="0.9469" stop-color="#02bac4"/><stop offset="1.0000" stop-color="#02bac4"/></linearGradient>
<linearGradient id="gb_26" gradientUnits="userSpaceOnUse" x1="161" y1="0" x2="1950" y2="0"><stop offset="0.0000" stop-color="#debd29"/><stop offset="0.0721" stop-color="#debd29"/><stop offset="0.0805" stop-color="#fdbd3d"/><stop offset="0.0917" stop-color="#fdbd3d"/><stop offset="0.1056" stop-color="#e5bb2c"/><stop offset="0.1224" stop-color="#c2c22c"/><stop offset="0.1504" stop-color="#90ca4d"/><stop offset="0.1783" stop-color="#72cd64"/><stop offset="0.2230" stop-color="#72cd64"/><stop offset="0.2454" stop-color="#81cc58"/><stop offset="0.2515" stop-color="#90ca4d"/><stop offset="0.2677" stop-color="#90ca4d"/><stop offset="0.2845" stop-color="#6dcd67"/><stop offset="0.3013" stop-color="#4ecc81"/><stop offset="0.3208" stop-color="#38c896"/><stop offset="0.3404" stop-color="#2bc3a8"/><stop offset="0.3628" stop-color="#17bfb7"/><stop offset="0.3851" stop-color="#02bac4"/><stop offset="0.4131" stop-color="#02b7cb"/><stop offset="0.5528" stop-color="#02b7cb"/><stop offset="0.5975" stop-color="#12beb9"/><stop offset="0.6926" stop-color="#12beb9"/><stop offset="0.7373" stop-color="#2bc3a8"/><stop offset="0.7546" stop-color="#37c898"/><stop offset="0.9162" stop-color="#37c898"/><stop offset="0.9315" stop-color="#2ac3a9"/><stop offset="0.9469" stop-color="#12beb9"/><stop offset="1.0000" stop-color="#12beb9"/></linearGradient>
<linearGradient id="gb_27" gradientUnits="userSpaceOnUse" x1="161" y1="0" x2="1950" y2="0"><stop offset="0.0000" stop-color="#9ec942"/><stop offset="0.0665" stop-color="#9ec942"/><stop offset="0.0707" stop-color="#c0c32d"/><stop offset="0.0749" stop-color="#debd29"/><stop offset="0.0889" stop-color="#debd29"/><stop offset="0.1056" stop-color="#c2c22c"/><stop offset="0.1336" stop-color="#90ca4d"/><stop offset="0.1615" stop-color="#5fcd73"/><stop offset="0.2007" stop-color="#5fcd73"/><stop offset="0.2454" stop-color="#42ca8b"/><stop offset="0.2733" stop-color="#42ca8b"/><stop offset="0.3013" stop-color="#2bc3a8"/><stop offset="0.3236" stop-color="#17bfb7"/><stop offset="0.3460" stop-color="#02bac4"/><stop offset="0.3851" stop-color="#15afd9"/><stop offset="0.4690" stop-color="#15afd9"/><stop offset="0.5031" stop-color="#0db3d3"/><stop offset="0.5528" stop-color="#02bac4"/><stop offset="0.6646" stop-color="#02bac4"/><stop offset="0.7037" stop-color="#0dbdbb"/><stop offset="0.7485" stop-color="#1bc0b4"/><stop offset="0.7764" stop-color="#2bc3a8"/><stop offset="0.8603" stop-color="#2bc3a8"/><stop offset="0.9162" stop-color="#26c2ad"/><stop offset="0.9525" stop-color="#12beb9"/><stop offset="1.0000" stop-color="#12beb9"/></linearGradient>
<linearGradient id="gb_28" gradientUnits="userSpaceOnUse" x1="161" y1="0" x2="1950" y2="0"><stop offset="0.0000" stop-color="#02b7cb"/><stop offset="0.0442" stop-color="#02b7cb"/><stop offset="0.0525" stop-color="#14beb8"/><stop offset="0.0609" stop-color="#2ec5a4"/><stop offset="0.0693" stop-color="#42ca8b"/><stop offset="0.0945" stop-color="#2bc3a8"/><stop offset="0.1140" stop-color="#17bfb7"/><stop offset="0.1336" stop-color="#02bac4"/><stop offset="0.1615" stop-color="#02bac4"/><stop offset="0.1895" stop-color="#06b6ce"/><stop offset="0.2677" stop-color="#06b6ce"/><stop offset="0.2845" stop-color="#17aeda"/><stop offset="0.3013" stop-color="#20a5e2"/><stop offset="0.3236" stop-color="#259be7"/><stop offset="0.3460" stop-color="#2b91ef"/><stop offset="0.3656" stop-color="#2e86f8"/><stop offset="0.3851" stop-color="#3579fd"/><stop offset="0.4410" stop-color="#3579fd"/><stop offset="0.4690" stop-color="#2e87f7"/><stop offset="0.5031" stop-color="#2e87f7"/><stop offset="0.5249" stop-color="#2797eb"/><stop offset="0.5528" stop-color="#2797eb"/><stop offset="0.5808" stop-color="#23a0e5"/><stop offset="0.6255" stop-color="#2a93ed"/><stop offset="0.6646" stop-color="#2a93ed"/><stop offset="0.6926" stop-color="#2797eb"/><stop offset="0.7546" stop-color="#2797eb"/><stop offset="0.7655" stop-color="#23a0e5"/><stop offset="0.7764" stop-color="#1caadf"/><stop offset="0.8044" stop-color="#1caadf"/><stop offset="0.8323" stop-color="#10b2d5"/><stop offset="0.8882" stop-color="#10b2d5"/><stop offset="0.9273" stop-color="#1da8e0"/><stop offset="0.9427" stop-color="#12b1d6"/><stop offset="0.9581" stop-color="#01b8c9"/><stop offset="1.0000" stop-color="#01b8c9"/></linearGradient>
<linearGradient id="gb_29" gradientUnits="userSpaceOnUse" x1="161" y1="0" x2="1950" y2="0"><stop offset="0.0000" stop-color="#406cfe"/><stop offset="0.0386" stop-color="#406cfe"/><stop offset="0.0470" stop-color="#2e83f9"/><stop offset="0.0553" stop-color="#2797eb"/><stop offset="0.0637" stop-color="#1da8e0"/><stop offset="0.0791" stop-color="#249ee6"/><stop offset="0.0945" stop-color="#2a93ed"/><stop offset="0.1140" stop-color="#2d88f6"/><stop offset="0.1336" stop-color="#317dfc"/><stop offset="0.1895" stop-color="#317dfc"/><stop offset="0.2230" stop-color="#2e85f8"/><stop offset="0.2515" stop-color="#2e85f8"/><stop offset="0.2733" stop-color="#3975fe"/><stop offset="0.3013" stop-color="#2f81fa"/><stop offset="0.3572" stop-color="#2f81fa"/><stop offset="0.3712" stop-color="#3e70ff"/><stop offset="0.3851" stop-color="#465ffb"/><stop offset="0.3963" stop-color="#4853f5"/><stop offset="0.4075" stop-color="#4848ec"/><stop offset="0.4298" stop-color="#4848ec"/><stop offset="0.4438" stop-color="#4853f5"/><stop offset="0.4578" stop-color="#465ffb"/><stop offset="0.5031" stop-color="#465ffb"/><stop offset="0.5249" stop-color="#406cfe"/><stop offset="0.5528" stop-color="#2f81fa"/><stop offset="0.6087" stop-color="#2f81fa"/><stop offset="0.6199" stop-color="#406cfe"/><stop offset="0.6311" stop-color="#4759f8"/><stop offset="0.6423" stop-color="#4759f8"/><stop offset="0.6534" stop-color="#4366fd"/><stop offset="0.6646" stop-color="#3975fe"/><stop offset="0.7205" stop-color="#3975fe"/><stop offset="0.7485" stop-color="#4661fc"/><stop offset="0.7708" stop-color="#4661fc"/><stop offset="0.7876" stop-color="#406cfe"/><stop offset="0.8044" stop-color="#3579fd"/><stop offset="0.9162" stop-color="#3579fd"/><stop offset="0.9329" stop-color="#406cfe"/><stop offset="0.9581" stop-color="#2f81fa"/><stop offset="1.0000" stop-color="#2f81fa"/></linearGradient>
<linearGradient id="gb_30" gradientUnits="userSpaceOnUse" x1="161" y1="0" x2="1950" y2="0"><stop offset="0.0000" stop-color="#463cdf"/><stop offset="0.0386" stop-color="#463cdf"/><stop offset="0.0451" stop-color="#4853f4"/><stop offset="0.0516" stop-color="#4269fe"/><stop offset="0.0581" stop-color="#2f81fa"/><stop offset="0.0763" stop-color="#3975fe"/><stop offset="0.0945" stop-color="#4368fe"/><stop offset="0.1336" stop-color="#4759f8"/><stop offset="0.1560" stop-color="#406cfe"/><stop offset="0.1671" stop-color="#406cfe"/><stop offset="0.2007" stop-color="#475bf9"/><stop offset="0.2677" stop-color="#475bf9"/><stop offset="0.2747" stop-color="#4747eb"/><stop offset="0.2817" stop-color="#4434cf"/><stop offset="0.2929" stop-color="#4434cf"/><stop offset="0.3027" stop-color="#4744e8"/><stop offset="0.3125" stop-color="#4755f6"/><stop offset="0.3348" stop-color="#475dfa"/><stop offset="0.3740" stop-color="#475dfa"/><stop offset="0.3851" stop-color="#4851f3"/><stop offset="0.3963" stop-color="#4746ea"/><stop offset="0.4033" stop-color="#4536d4"/><stop offset="0.4103" stop-color="#402ab5"/><stop offset="0.4326" stop-color="#402ab5"/><stop offset="0.4452" stop-color="#463adc"/><stop offset="0.4578" stop-color="#484ff2"/><stop offset="0.4802" stop-color="#484ff2"/><stop offset="0.5031" stop-color="#4742e6"/><stop offset="0.5196" stop-color="#4853f5"/><stop offset="0.5361" stop-color="#4464fd"/><stop offset="0.5975" stop-color="#4464fd"/><stop offset="0.6069" stop-color="#484ff2"/><stop offset="0.6162" stop-color="#463adc"/><stop offset="0.6255" stop-color="#402ab5"/><stop offset="0.6423" stop-color="#402ab5"/><stop offset="0.6497" stop-color="#4536d4"/><stop offset="0.6572" stop-color="#4745e9"/><stop offset="0.6646" stop-color="#4755f6"/><stop offset="0.7093" stop-color="#4755f6"/><stop offset="0.7177" stop-color="#4849ed"/><stop offset="0.7261" stop-color="#463cdf"/><stop offset="0.7373" stop-color="#4230c4"/><stop offset="0.7596" stop-color="#4230c4"/><stop offset="0.7708" stop-color="#4741e5"/><stop offset="0.7820" stop-color="#4755f6"/><stop offset="0.8603" stop-color="#4755f6"/><stop offset="0.8882" stop-color="#4746ea"/><stop offset="0.9162" stop-color="#4434cf"/><stop offset="0.9329" stop-color="#4434cf"/><stop offset="0.9441" stop-color="#4741e5"/><stop offset="0.9553" stop-color="#484ff2"/><stop offset="1.0000" stop-color="#484ff2"/></linearGradient>
<linearGradient id="gb_31" gradientUnits="userSpaceOnUse" x1="161" y1="0" x2="1950" y2="0"><stop offset="0.0000" stop-color="#4746ea"/><stop offset="0.0386" stop-color="#4746ea"/><stop offset="0.0470" stop-color="#4852f4"/><stop offset="0.0553" stop-color="#465ffb"/><stop offset="0.0777" stop-color="#465ffb"/><stop offset="0.1112" stop-color="#484aed"/><stop offset="0.1322" stop-color="#463ada"/><stop offset="0.1532" stop-color="#412dbc"/><stop offset="0.1643" stop-color="#412dbc"/><stop offset="0.1769" stop-color="#463cdf"/><stop offset="0.1895" stop-color="#484ff2"/><stop offset="0.2230" stop-color="#484ff2"/><stop offset="0.2515" stop-color="#4746ea"/><stop offset="0.2677" stop-color="#4746ea"/><stop offset="0.2817" stop-color="#4434cf"/><stop offset="0.2957" stop-color="#4434cf"/><stop offset="0.3125" stop-color="#4742e6"/><stop offset="0.3404" stop-color="#484aed"/><stop offset="0.3907" stop-color="#484aed"/><stop offset="0.4131" stop-color="#4742e6"/><stop offset="0.4690" stop-color="#4742e6"/><stop offset="0.4857" stop-color="#4537d6"/><stop offset="0.4969" stop-color="#412dbc"/><stop offset="0.5109" stop-color="#412dbc"/><stop offset="0.5235" stop-color="#4538d7"/><stop offset="0.5361" stop-color="#4746ea"/><stop offset="0.5584" stop-color="#484ff2"/><stop offset="0.5975" stop-color="#484ff2"/><stop offset="0.6255" stop-color="#4742e6"/><stop offset="0.6423" stop-color="#4742e6"/><stop offset="0.6646" stop-color="#484ff2"/><stop offset="0.7093" stop-color="#484ff2"/><stop offset="0.7205" stop-color="#4743e7"/><stop offset="0.7317" stop-color="#4537d6"/><stop offset="0.7429" stop-color="#422ec0"/><stop offset="0.7541" stop-color="#422ec0"/><stop offset="0.7652" stop-color="#4539d9"/><stop offset="0.7764" stop-color="#4746ea"/><stop offset="0.8044" stop-color="#4746ea"/><stop offset="0.8323" stop-color="#4537d6"/><stop offset="0.8603" stop-color="#4746ea"/><stop offset="0.8882" stop-color="#4746ea"/><stop offset="0.8994" stop-color="#4536d4"/><stop offset="0.9106" stop-color="#402ab5"/><stop offset="0.9273" stop-color="#402ab5"/><stop offset="0.9441" stop-color="#4434cf"/><stop offset="1.0000" stop-color="#4434cf"/></linearGradient>
<linearGradient id="gb_32" gradientUnits="userSpaceOnUse" x1="161" y1="0" x2="1950" y2="0"><stop offset="0.0000" stop-color="#406cfe"/><stop offset="0.0386" stop-color="#406cfe"/><stop offset="0.0432" stop-color="#4757f7"/><stop offset="0.0479" stop-color="#4742e6"/><stop offset="0.0525" stop-color="#4230c4"/><stop offset="0.0721" stop-color="#4230c4"/><stop offset="0.0945" stop-color="#4434cf"/><stop offset="0.1168" stop-color="#412cba"/><stop offset="0.1448" stop-color="#412cba"/><stop offset="0.1671" stop-color="#4537d6"/><stop offset="0.1951" stop-color="#4746ea"/><stop offset="0.2174" stop-color="#4746ea"/><stop offset="0.2515" stop-color="#4434cf"/><stop offset="0.3125" stop-color="#4434cf"/><stop offset="0.3292" stop-color="#4537d6"/><stop offset="0.3963" stop-color="#4537d6"/><stop offset="0.4131" stop-color="#4742e6"/><stop offset="0.4298" stop-color="#484aed"/><stop offset="0.4690" stop-color="#484aed"/><stop offset="0.4913" stop-color="#4536d2"/><stop offset="0.5416" stop-color="#4536d2"/><stop offset="0.5584" stop-color="#4537d6"/><stop offset="0.5920" stop-color="#4746ea"/><stop offset="0.6926" stop-color="#4746ea"/><stop offset="0.7205" stop-color="#4537d6"/><stop offset="0.8044" stop-color="#4537d6"/><stop offset="0.8295" stop-color="#412cb8"/><stop offset="0.8491" stop-color="#412cb8"/><stop offset="0.8714" stop-color="#4537d6"/><stop offset="0.8938" stop-color="#4537d6"/><stop offset="0.9162" stop-color="#422ec0"/><stop offset="1.0000" stop-color="#422ec0"/></linearGradient>
<linearGradient id="gb_33" gradientUnits="userSpaceOnUse" x1="161" y1="0" x2="1950" y2="0"><stop offset="0.0000" stop-color="#3777fe"/><stop offset="0.0386" stop-color="#3777fe"/><stop offset="0.0414" stop-color="#4563fd"/><stop offset="0.0442" stop-color="#4851f3"/><stop offset="0.0470" stop-color="#473fe2"/><stop offset="0.0497" stop-color="#4230c4"/><stop offset="0.0721" stop-color="#4230c4"/><stop offset="0.0945" stop-color="#4434cf"/><stop offset="0.1168" stop-color="#422ec0"/><stop offset="0.1448" stop-color="#422ec0"/><stop offset="0.1671" stop-color="#4537d6"/><stop offset="0.1951" stop-color="#4746ea"/><stop offset="0.2230" stop-color="#4746ea"/><stop offset="0.2342" stop-color="#4538d7"/><stop offset="0.2454" stop-color="#412cba"/><stop offset="0.2677" stop-color="#412cba"/><stop offset="0.2901" stop-color="#4331c8"/><stop offset="0.3572" stop-color="#4331c8"/><stop offset="0.3712" stop-color="#402ab5"/><stop offset="0.3879" stop-color="#402ab5"/><stop offset="0.4019" stop-color="#4434cf"/><stop offset="0.4131" stop-color="#4741e5"/><stop offset="0.4243" stop-color="#484ff2"/><stop offset="0.4578" stop-color="#484ff2"/><stop offset="0.4802" stop-color="#463cdf"/><stop offset="0.5031" stop-color="#4434cf"/><stop offset="0.5305" stop-color="#4434cf"/><stop offset="0.5472" stop-color="#402ab5"/><stop offset="0.5668" stop-color="#402ab5"/><stop offset="0.5794" stop-color="#4435d1"/><stop offset="0.5920" stop-color="#4742e6"/><stop offset="0.6367" stop-color="#4742e6"/><stop offset="0.6646" stop-color="#4746ea"/><stop offset="0.6926" stop-color="#4746ea"/><stop offset="0.7023" stop-color="#4538d7"/><stop offset="0.7121" stop-color="#412dbc"/><stop offset="0.7373" stop-color="#412dbc"/><stop offset="0.7546" stop-color="#4537d6"/><stop offset="0.7820" stop-color="#4537d6"/><stop offset="0.8044" stop-color="#4434cf"/><stop offset="0.8379" stop-color="#4434cf"/><stop offset="0.8603" stop-color="#4746ea"/><stop offset="0.8938" stop-color="#4746ea"/><stop offset="0.9162" stop-color="#4537d6"/><stop offset="1.0000" stop-color="#4537d6"/></linearGradient>
<linearGradient id="gb_34" gradientUnits="userSpaceOnUse" x1="161" y1="0" x2="1950" y2="0"><stop offset="0.0000" stop-color="#3777fe"/><stop offset="0.0358" stop-color="#3777fe"/><stop offset="0.0400" stop-color="#4465fd"/><stop offset="0.0442" stop-color="#4755f6"/><stop offset="0.0777" stop-color="#4755f6"/><stop offset="0.1001" stop-color="#4742e6"/><stop offset="0.1112" stop-color="#4537d6"/><stop offset="0.1224" stop-color="#422ec0"/><stop offset="0.1392" stop-color="#422ec0"/><stop offset="0.1504" stop-color="#4537d6"/><stop offset="0.1615" stop-color="#4742e6"/><stop offset="0.1895" stop-color="#4853f5"/><stop offset="0.2286" stop-color="#4853f5"/><stop offset="0.2401" stop-color="#4848ec"/><stop offset="0.2515" stop-color="#463cdf"/><stop offset="0.3013" stop-color="#463cdf"/><stop offset="0.3097" stop-color="#4433cb"/><stop offset="0.3181" stop-color="#402ab5"/><stop offset="0.3348" stop-color="#402ab5"/><stop offset="0.3572" stop-color="#4434cf"/><stop offset="0.3963" stop-color="#4434cf"/><stop offset="0.4103" stop-color="#4743e7"/><stop offset="0.4243" stop-color="#4853f5"/><stop offset="0.4634" stop-color="#4853f5"/><stop offset="0.4718" stop-color="#4848ec"/><stop offset="0.4802" stop-color="#463cdf"/><stop offset="0.4969" stop-color="#412dbc"/><stop offset="0.5249" stop-color="#412dbc"/><stop offset="0.5528" stop-color="#4331c8"/><stop offset="0.5724" stop-color="#463adc"/><stop offset="0.5920" stop-color="#4746ea"/><stop offset="0.6199" stop-color="#4746ea"/><stop offset="0.6297" stop-color="#4536d4"/><stop offset="0.6395" stop-color="#402ab5"/><stop offset="0.6590" stop-color="#402ab5"/><stop offset="0.6702" stop-color="#4536d4"/><stop offset="0.6814" stop-color="#4746ea"/><stop offset="0.7037" stop-color="#4746ea"/><stop offset="0.7205" stop-color="#4434cf"/><stop offset="0.7429" stop-color="#4434cf"/><stop offset="0.7546" stop-color="#4742e6"/><stop offset="0.7820" stop-color="#4742e6"/><stop offset="0.7932" stop-color="#4435d1"/><stop offset="0.8044" stop-color="#402ab5"/><stop offset="0.8211" stop-color="#402ab5"/><stop offset="0.8323" stop-color="#4536d4"/><stop offset="0.8435" stop-color="#4746ea"/><stop offset="0.8575" stop-color="#4852f4"/><stop offset="0.8714" stop-color="#465ffb"/><stop offset="0.9162" stop-color="#465ffb"/><stop offset="0.9497" stop-color="#4755f6"/><stop offset="1.0000" stop-color="#4755f6"/></linearGradient>
<linearGradient id="gb_35" gradientUnits="userSpaceOnUse" x1="161" y1="0" x2="1950" y2="0"><stop offset="0.0000" stop-color="#3777fe"/><stop offset="0.0358" stop-color="#3777fe"/><stop offset="0.0430" stop-color="#2f81fa"/><stop offset="0.0553" stop-color="#2f81fa"/><stop offset="0.0693" stop-color="#3b72fe"/><stop offset="0.0833" stop-color="#4564fd"/><stop offset="0.0945" stop-color="#4854f5"/><stop offset="0.1056" stop-color="#4745e9"/><stop offset="0.1140" stop-color="#4537d5"/><stop offset="0.1224" stop-color="#412cb8"/><stop offset="0.1364" stop-color="#412cb8"/><stop offset="0.1490" stop-color="#4537d5"/><stop offset="0.1615" stop-color="#4745e9"/><stop offset="0.1895" stop-color="#4756f6"/><stop offset="0.2454" stop-color="#4756f6"/><stop offset="0.2515" stop-color="#484ef1"/><stop offset="0.3013" stop-color="#484ef1"/><stop offset="0.3292" stop-color="#4745e9"/><stop offset="0.3851" stop-color="#4745e9"/><stop offset="0.4131" stop-color="#484ef1"/><stop offset="0.4298" stop-color="#4854f5"/><stop offset="0.4690" stop-color="#4854f5"/><stop offset="0.4857" stop-color="#4741e5"/><stop offset="0.5031" stop-color="#4433cb"/><stop offset="0.5249" stop-color="#4433cb"/><stop offset="0.5528" stop-color="#4745e9"/><stop offset="0.5920" stop-color="#4852f4"/><stop offset="0.6255" stop-color="#4852f4"/><stop offset="0.6423" stop-color="#4741e5"/><stop offset="0.6590" stop-color="#4741e5"/><stop offset="0.6814" stop-color="#4851f3"/><stop offset="0.7820" stop-color="#4851f3"/><stop offset="0.8044" stop-color="#4741e5"/><stop offset="0.8267" stop-color="#4741e5"/><stop offset="0.8491" stop-color="#4758f8"/><stop offset="0.8603" stop-color="#4466fd"/><stop offset="0.8714" stop-color="#3975fe"/><stop offset="0.9273" stop-color="#3975fe"/><stop offset="0.9497" stop-color="#406cfe"/><stop offset="1.0000" stop-color="#406cfe"/></linearGradient>
<linearGradient id="gb_36" gradientUnits="userSpaceOnUse" x1="161" y1="0" x2="1950" y2="0"><stop offset="0.0000" stop-color="#4561fc"/><stop offset="0.0330" stop-color="#4561fc"/><stop offset="0.0358" stop-color="#3777fe"/><stop offset="0.0386" stop-color="#2d8cf3"/><stop offset="0.0553" stop-color="#2d8cf3"/><stop offset="0.0693" stop-color="#317efb"/><stop offset="0.0833" stop-color="#3f6efe"/><stop offset="0.0945" stop-color="#3f6efe"/><stop offset="0.1140" stop-color="#4660fb"/><stop offset="0.1336" stop-color="#4853f4"/><stop offset="0.1615" stop-color="#4853f4"/><stop offset="0.2007" stop-color="#475dfa"/><stop offset="0.2230" stop-color="#475dfa"/><stop offset="0.2515" stop-color="#4852f4"/><stop offset="0.3013" stop-color="#4852f4"/><stop offset="0.3292" stop-color="#484df0"/><stop offset="0.4131" stop-color="#484df0"/><stop offset="0.4410" stop-color="#4851f3"/><stop offset="0.4690" stop-color="#4851f3"/><stop offset="0.5031" stop-color="#463ddf"/><stop offset="0.5249" stop-color="#463ddf"/><stop offset="0.5528" stop-color="#484df0"/><stop offset="0.5808" stop-color="#4756f7"/><stop offset="0.6255" stop-color="#4756f7"/><stop offset="0.6478" stop-color="#4851f3"/><stop offset="0.6814" stop-color="#4756f7"/><stop offset="0.7932" stop-color="#4756f7"/><stop offset="0.8267" stop-color="#4561fc"/><stop offset="0.8435" stop-color="#3b73fe"/><stop offset="0.8603" stop-color="#2e85f8"/><stop offset="0.9162" stop-color="#2e85f8"/><stop offset="0.9553" stop-color="#3777fe"/><stop offset="1.0000" stop-color="#3777fe"/></linearGradient>
<linearGradient id="gb_37" gradientUnits="userSpaceOnUse" x1="161" y1="0" x2="1950" y2="0"><stop offset="0.0000" stop-color="#4755f6"/><stop offset="0.0302" stop-color="#4755f6"/><stop offset="0.0320" stop-color="#4269fe"/><stop offset="0.0339" stop-color="#307ffb"/><stop offset="0.0358" stop-color="#2b91ef"/><stop offset="0.0497" stop-color="#2b91ef"/><stop offset="0.0637" stop-color="#2e83f9"/><stop offset="0.0777" stop-color="#3b72ff"/><stop offset="0.1001" stop-color="#3b72ff"/><stop offset="0.1168" stop-color="#4464fd"/><stop offset="0.1336" stop-color="#4757f7"/><stop offset="0.1727" stop-color="#4757f7"/><stop offset="0.2007" stop-color="#484cef"/><stop offset="0.2515" stop-color="#484cef"/><stop offset="0.2733" stop-color="#4746eb"/><stop offset="0.3013" stop-color="#4746eb"/><stop offset="0.3348" stop-color="#4851f4"/><stop offset="0.3795" stop-color="#4851f4"/><stop offset="0.4019" stop-color="#473fe3"/><stop offset="0.4131" stop-color="#4434ce"/><stop offset="0.4354" stop-color="#4434ce"/><stop offset="0.4578" stop-color="#4746eb"/><stop offset="0.5031" stop-color="#4746eb"/><stop offset="0.5137" stop-color="#463bdc"/><stop offset="0.5249" stop-color="#463bdc"/><stop offset="0.5528" stop-color="#484cef"/><stop offset="0.5808" stop-color="#4755f6"/><stop offset="0.6367" stop-color="#4755f6"/><stop offset="0.6478" stop-color="#4851f4"/><stop offset="0.6590" stop-color="#4755f6"/><stop offset="0.7932" stop-color="#4755f6"/><stop offset="0.8267" stop-color="#4562fc"/><stop offset="0.8435" stop-color="#3c72ff"/><stop offset="0.8603" stop-color="#2f81fa"/><stop offset="0.9162" stop-color="#2f81fa"/><stop offset="0.9553" stop-color="#3e70ff"/><stop offset="1.0000" stop-color="#3e70ff"/></linearGradient>
<linearGradient id="gb_38" gradientUnits="userSpaceOnUse" x1="161" y1="0" x2="1950" y2="0"><stop offset="0.0000" stop-color="#4854f5"/><stop offset="0.0274" stop-color="#4854f5"/><stop offset="0.0293" stop-color="#4366fd"/><stop offset="0.0311" stop-color="#347afd"/><stop offset="0.0330" stop-color="#2d8cf3"/><stop offset="0.0470" stop-color="#2d8cf3"/><stop offset="0.0595" stop-color="#2f81fa"/><stop offset="0.0721" stop-color="#3974fe"/><stop offset="0.1001" stop-color="#3974fe"/><stop offset="0.1168" stop-color="#4465fd"/><stop offset="0.1336" stop-color="#4756f7"/><stop offset="0.1615" stop-color="#4756f7"/><stop offset="0.1895" stop-color="#4745e9"/><stop offset="0.2230" stop-color="#4539d9"/><stop offset="0.2454" stop-color="#4539d9"/><stop offset="0.2515" stop-color="#463adb"/><stop offset="0.2901" stop-color="#463adb"/><stop offset="0.3125" stop-color="#4745e9"/><stop offset="0.3404" stop-color="#4850f3"/><stop offset="0.3740" stop-color="#4850f3"/><stop offset="0.3963" stop-color="#473fe2"/><stop offset="0.4089" stop-color="#4434ce"/><stop offset="0.4215" stop-color="#402ab5"/><stop offset="0.4382" stop-color="#402ab5"/><stop offset="0.4480" stop-color="#4435d1"/><stop offset="0.4578" stop-color="#4742e6"/><stop offset="0.5031" stop-color="#4742e6"/><stop offset="0.5137" stop-color="#4433cd"/><stop offset="0.5361" stop-color="#4433cd"/><stop offset="0.5584" stop-color="#4742e6"/><stop offset="0.6255" stop-color="#4742e6"/><stop offset="0.6478" stop-color="#473fe2"/><stop offset="0.6814" stop-color="#4745e9"/><stop offset="0.7373" stop-color="#4745e9"/><stop offset="0.7546" stop-color="#4740e4"/><stop offset="0.7708" stop-color="#4740e4"/><stop offset="0.8044" stop-color="#4850f3"/><stop offset="0.8323" stop-color="#4561fc"/><stop offset="0.8603" stop-color="#416bfe"/><stop offset="0.8938" stop-color="#416bfe"/><stop offset="0.9162" stop-color="#475bf9"/><stop offset="1.0000" stop-color="#475bf9"/></linearGradient>
<linearGradient id="gb_39" gradientUnits="userSpaceOnUse" x1="161" y1="0" x2="1950" y2="0"><stop offset="0.0000" stop-color="#4853f5"/><stop offset="0.0246" stop-color="#4853f5"/><stop offset="0.0274" stop-color="#4562fc"/><stop offset="0.0302" stop-color="#3c72ff"/><stop offset="0.0442" stop-color="#3c72ff"/><stop offset="0.0553" stop-color="#4562fc"/><stop offset="0.0665" stop-color="#4853f5"/><stop offset="0.1056" stop-color="#4853f5"/><stop offset="0.1336" stop-color="#4744e8"/><stop offset="0.1615" stop-color="#4744e8"/><stop offset="0.1783" stop-color="#4538d8"/><stop offset="0.1895" stop-color="#4230c3"/><stop offset="0.2063" stop-color="#4230c3"/><stop offset="0.2286" stop-color="#4331c6"/><stop offset="0.2515" stop-color="#4331c6"/><stop offset="0.2677" stop-color="#4536d2"/><stop offset="0.2789" stop-color="#422ec0"/><stop offset="0.2901" stop-color="#422ec0"/><stop offset="0.3125" stop-color="#463ada"/><stop offset="0.3404" stop-color="#4849ed"/><stop offset="0.3684" stop-color="#4849ed"/><stop offset="0.3753" stop-color="#463de0"/><stop offset="0.3823" stop-color="#4433cd"/><stop offset="0.3907" stop-color="#4433cd"/><stop offset="0.4131" stop-color="#463ada"/><stop offset="0.4354" stop-color="#463ada"/><stop offset="0.4578" stop-color="#4744e8"/><stop offset="0.4802" stop-color="#4744e8"/><stop offset="0.5031" stop-color="#4433cd"/><stop offset="0.5221" stop-color="#412dbc"/><stop offset="0.5388" stop-color="#412dbc"/><stop offset="0.5584" stop-color="#463ada"/><stop offset="0.5808" stop-color="#4741e5"/><stop offset="0.6031" stop-color="#4741e5"/><stop offset="0.6199" stop-color="#4433cd"/><stop offset="0.6311" stop-color="#4433cd"/><stop offset="0.6478" stop-color="#463ada"/><stop offset="0.6646" stop-color="#4536d2"/><stop offset="0.6926" stop-color="#4741e5"/><stop offset="0.7317" stop-color="#4741e5"/><stop offset="0.7401" stop-color="#4536d3"/><stop offset="0.7485" stop-color="#412dbc"/><stop offset="0.7596" stop-color="#412dbc"/><stop offset="0.7708" stop-color="#4537d6"/><stop offset="0.7820" stop-color="#4744e8"/><stop offset="0.8323" stop-color="#4744e8"/><stop offset="0.8603" stop-color="#4853f5"/><stop offset="0.8882" stop-color="#4853f5"/><stop offset="0.8966" stop-color="#463ee1"/><stop offset="0.9050" stop-color="#412dbc"/><stop offset="0.9162" stop-color="#412dbc"/><stop offset="0.9245" stop-color="#4536d3"/><stop offset="0.9329" stop-color="#4741e5"/><stop offset="0.9553" stop-color="#4331c6"/><stop offset="0.9665" stop-color="#4331c6"/><stop offset="0.9748" stop-color="#4741e5"/><stop offset="1.0000" stop-color="#4741e5"/></linearGradient>
<linearGradient id="gb_40" gradientUnits="userSpaceOnUse" x1="161" y1="0" x2="1950" y2="0"><stop offset="0.0000" stop-color="#4852f4"/><stop offset="0.0218" stop-color="#4852f4"/><stop offset="0.0274" stop-color="#4660fb"/><stop offset="0.0414" stop-color="#4660fb"/><stop offset="0.0470" stop-color="#4849ed"/><stop offset="0.0525" stop-color="#4434cf"/><stop offset="0.0609" stop-color="#4434cf"/><stop offset="0.0777" stop-color="#4740e4"/><stop offset="0.1224" stop-color="#4740e4"/><stop offset="0.1392" stop-color="#4434cf"/><stop offset="0.1448" stop-color="#4434cf"/><stop offset="0.1615" stop-color="#4435d2"/><stop offset="0.1839" stop-color="#402ab5"/><stop offset="0.2007" stop-color="#402ab5"/><stop offset="0.2174" stop-color="#412dbc"/><stop offset="0.2286" stop-color="#412dbc"/><stop offset="0.2515" stop-color="#4331c6"/><stop offset="0.2677" stop-color="#4331c6"/><stop offset="0.2789" stop-color="#412dbc"/><stop offset="0.2901" stop-color="#412dbc"/><stop offset="0.3069" stop-color="#422ec0"/><stop offset="0.3181" stop-color="#422ec0"/><stop offset="0.3292" stop-color="#4639d9"/><stop offset="0.3460" stop-color="#4848ec"/><stop offset="0.3628" stop-color="#4848ec"/><stop offset="0.3698" stop-color="#4537d6"/><stop offset="0.3767" stop-color="#402ab5"/><stop offset="0.3879" stop-color="#402ab5"/><stop offset="0.4005" stop-color="#4433cc"/><stop offset="0.4131" stop-color="#463de0"/><stop offset="0.4690" stop-color="#463de0"/><stop offset="0.4857" stop-color="#412ebe"/><stop offset="0.5416" stop-color="#412ebe"/><stop offset="0.5584" stop-color="#4433cc"/><stop offset="0.5864" stop-color="#4639d9"/><stop offset="0.5975" stop-color="#4639d9"/><stop offset="0.6171" stop-color="#402ab5"/><stop offset="0.6283" stop-color="#402ab5"/><stop offset="0.6423" stop-color="#4435d2"/><stop offset="0.6590" stop-color="#402ab5"/><stop offset="0.6674" stop-color="#402ab5"/><stop offset="0.6870" stop-color="#4639d9"/><stop offset="0.7065" stop-color="#412dbc"/><stop offset="0.7177" stop-color="#412dbc"/><stop offset="0.7373" stop-color="#4434cf"/><stop offset="0.7932" stop-color="#4434cf"/><stop offset="0.8016" stop-color="#412dbc"/><stop offset="0.8099" stop-color="#412dbc"/><stop offset="0.8323" stop-color="#4435d2"/><stop offset="0.8519" stop-color="#412dbc"/><stop offset="0.8603" stop-color="#412dbc"/><stop offset="0.8770" stop-color="#4740e4"/><stop offset="0.8938" stop-color="#4740e4"/><stop offset="0.9050" stop-color="#422ec0"/><stop offset="0.9162" stop-color="#422ec0"/><stop offset="0.9245" stop-color="#4538d7"/><stop offset="0.9329" stop-color="#4743e7"/><stop offset="0.9553" stop-color="#4743e7"/><stop offset="0.9665" stop-color="#4639d9"/><stop offset="1.0000" stop-color="#4639d9"/></linearGradient>
<linearGradient id="gb_41" gradientUnits="userSpaceOnUse" x1="161" y1="0" x2="1950" y2="0"><stop offset="0.0000" stop-color="#4851f3"/><stop offset="0.0218" stop-color="#4851f3"/><stop offset="0.0257" stop-color="#465ffb"/><stop offset="0.0386" stop-color="#465ffb"/><stop offset="0.0432" stop-color="#4850f2"/><stop offset="0.0479" stop-color="#4740e4"/><stop offset="0.0525" stop-color="#4433cc"/><stop offset="0.0609" stop-color="#4433cc"/><stop offset="0.0777" stop-color="#473fe2"/><stop offset="0.0917" stop-color="#4433cc"/><stop offset="0.1029" stop-color="#4433cc"/><stop offset="0.1168" stop-color="#463cdf"/><stop offset="0.1392" stop-color="#4331c6"/><stop offset="0.1448" stop-color="#4331c6"/><stop offset="0.1615" stop-color="#4435d1"/><stop offset="0.2454" stop-color="#4435d1"/><stop offset="0.2566" stop-color="#422ec0"/><stop offset="0.2901" stop-color="#422ec0"/><stop offset="0.3125" stop-color="#412dbc"/><stop offset="0.3292" stop-color="#4538d8"/><stop offset="0.3460" stop-color="#4747eb"/><stop offset="0.3628" stop-color="#4747eb"/><stop offset="0.3851" stop-color="#4435d1"/><stop offset="0.4131" stop-color="#473fe2"/><stop offset="0.4690" stop-color="#473fe2"/><stop offset="0.4913" stop-color="#412ebe"/><stop offset="0.5416" stop-color="#412ebe"/><stop offset="0.5584" stop-color="#402ab5"/><stop offset="0.5752" stop-color="#402ab5"/><stop offset="0.5920" stop-color="#4435d1"/><stop offset="0.6031" stop-color="#4435d1"/><stop offset="0.6199" stop-color="#4331c6"/><stop offset="0.6423" stop-color="#4435d1"/><stop offset="0.6618" stop-color="#4331c6"/><stop offset="0.6870" stop-color="#4538d8"/><stop offset="0.7093" stop-color="#412dbc"/><stop offset="0.7177" stop-color="#412dbc"/><stop offset="0.7373" stop-color="#4433cc"/><stop offset="0.7932" stop-color="#4433cc"/><stop offset="0.8016" stop-color="#412dbc"/><stop offset="0.8127" stop-color="#412dbc"/><stop offset="0.8323" stop-color="#4435d1"/><stop offset="0.8547" stop-color="#412dbc"/><stop offset="0.8603" stop-color="#412dbc"/><stop offset="0.8826" stop-color="#473fe2"/><stop offset="0.9162" stop-color="#4851f3"/><stop offset="1.0000" stop-color="#4851f3"/></linearGradient>
<linearGradient id="gb_42" gradientUnits="userSpaceOnUse" x1="161" y1="0" x2="1950" y2="0"><stop offset="0.0000" stop-color="#484ff2"/><stop offset="0.0190" stop-color="#484ff2"/><stop offset="0.0246" stop-color="#4564fd"/><stop offset="0.0386" stop-color="#4564fd"/><stop offset="0.0497" stop-color="#4853f4"/><stop offset="0.0609" stop-color="#4741e5"/><stop offset="0.0777" stop-color="#4741e5"/><stop offset="0.0945" stop-color="#4433cb"/><stop offset="0.1029" stop-color="#4433cb"/><stop offset="0.1224" stop-color="#463ee1"/><stop offset="0.1895" stop-color="#463ee1"/><stop offset="0.2230" stop-color="#4538d7"/><stop offset="0.2454" stop-color="#412dbc"/><stop offset="0.2622" stop-color="#412dbc"/><stop offset="0.2789" stop-color="#4331c6"/><stop offset="0.3125" stop-color="#4331c6"/><stop offset="0.3292" stop-color="#4538d7"/><stop offset="0.3460" stop-color="#4741e5"/><stop offset="0.3628" stop-color="#4741e5"/><stop offset="0.3851" stop-color="#4538d7"/><stop offset="0.4131" stop-color="#4538d7"/><stop offset="0.4410" stop-color="#463ee1"/><stop offset="0.4690" stop-color="#463ee1"/><stop offset="0.5031" stop-color="#422ec0"/><stop offset="0.5528" stop-color="#422ec0"/><stop offset="0.5696" stop-color="#4331c6"/><stop offset="0.5975" stop-color="#4435d0"/><stop offset="0.6926" stop-color="#4435d0"/><stop offset="0.7205" stop-color="#4433cb"/><stop offset="0.8044" stop-color="#4433cb"/><stop offset="0.8323" stop-color="#4538d7"/><stop offset="0.8603" stop-color="#4331c6"/><stop offset="0.8742" stop-color="#463adb"/><stop offset="0.8882" stop-color="#4746ea"/><stop offset="0.9022" stop-color="#4852f4"/><stop offset="0.9162" stop-color="#465ffb"/><stop offset="1.0000" stop-color="#465ffb"/></linearGradient>
<linearGradient id="gb_43" gradientUnits="userSpaceOnUse" x1="161" y1="0" x2="1950" y2="0"><stop offset="0.0000" stop-color="#484ff2"/><stop offset="0.0190" stop-color="#484ff2"/><stop offset="0.0218" stop-color="#465ffb"/><stop offset="0.0386" stop-color="#465ffb"/><stop offset="0.0553" stop-color="#484bef"/><stop offset="0.0777" stop-color="#484bef"/><stop offset="0.0945" stop-color="#463ee1"/><stop offset="0.1224" stop-color="#4746ea"/><stop offset="0.1783" stop-color="#4746ea"/><stop offset="0.2174" stop-color="#463bde"/><stop offset="0.2515" stop-color="#4230c3"/><stop offset="0.2677" stop-color="#4230c3"/><stop offset="0.2901" stop-color="#4331c6"/><stop offset="0.3181" stop-color="#412cb8"/><stop offset="0.3292" stop-color="#412cb8"/><stop offset="0.3376" stop-color="#4434cf"/><stop offset="0.3460" stop-color="#463ee1"/><stop offset="0.3628" stop-color="#463ee1"/><stop offset="0.3795" stop-color="#4433cb"/><stop offset="0.3907" stop-color="#412dbc"/><stop offset="0.4466" stop-color="#412dbc"/><stop offset="0.4690" stop-color="#4435d0"/><stop offset="0.5031" stop-color="#412ebe"/><stop offset="0.5808" stop-color="#412ebe"/><stop offset="0.6031" stop-color="#4433cb"/><stop offset="0.6367" stop-color="#4435d0"/><stop offset="0.6926" stop-color="#4435d0"/><stop offset="0.7205" stop-color="#4331c6"/><stop offset="0.7546" stop-color="#4331c6"/><stop offset="0.7708" stop-color="#4435d0"/><stop offset="0.8044" stop-color="#4435d0"/><stop offset="0.8323" stop-color="#4538d7"/><stop offset="0.8603" stop-color="#412cb8"/><stop offset="0.8714" stop-color="#412cb8"/><stop offset="0.8798" stop-color="#4434cf"/><stop offset="0.8882" stop-color="#463ee1"/><stop offset="0.9022" stop-color="#484bee"/><stop offset="0.9162" stop-color="#4757f7"/><stop offset="0.9385" stop-color="#4757f7"/><stop offset="0.9609" stop-color="#484bef"/><stop offset="1.0000" stop-color="#484bef"/></linearGradient>
<linearGradient id="gb_44" gradientUnits="userSpaceOnUse" x1="161" y1="0" x2="1950" y2="0"><stop offset="0.0000" stop-color="#484ff2"/><stop offset="0.0162" stop-color="#484ff2"/><stop offset="0.0207" stop-color="#465ffb"/><stop offset="0.0358" stop-color="#465ffb"/><stop offset="0.0553" stop-color="#484bef"/><stop offset="0.0777" stop-color="#484bef"/><stop offset="0.0861" stop-color="#463ee1"/><stop offset="0.0945" stop-color="#4433cb"/><stop offset="0.1029" stop-color="#4433cb"/><stop offset="0.1224" stop-color="#4746ea"/><stop offset="0.1895" stop-color="#4746ea"/><stop offset="0.2230" stop-color="#463ee1"/><stop offset="0.2515" stop-color="#463ee1"/><stop offset="0.2677" stop-color="#4331c6"/><stop offset="0.2789" stop-color="#4331c6"/><stop offset="0.3013" stop-color="#422ec0"/><stop offset="0.3181" stop-color="#412cb8"/><stop offset="0.3292" stop-color="#412cb8"/><stop offset="0.3376" stop-color="#4435d2"/><stop offset="0.3460" stop-color="#4741e5"/><stop offset="0.3628" stop-color="#4741e5"/><stop offset="0.3851" stop-color="#4331c6"/><stop offset="0.4131" stop-color="#4331c6"/><stop offset="0.4215" stop-color="#402ab5"/><stop offset="0.4326" stop-color="#402ab5"/><stop offset="0.4522" stop-color="#4435d0"/><stop offset="0.4802" stop-color="#412dbc"/><stop offset="0.5031" stop-color="#412dbc"/><stop offset="0.5249" stop-color="#402ab5"/><stop offset="0.5388" stop-color="#402ab5"/><stop offset="0.5584" stop-color="#4331c6"/><stop offset="0.5920" stop-color="#4331c6"/><stop offset="0.6115" stop-color="#412dbc"/><stop offset="0.6255" stop-color="#412dbc"/><stop offset="0.6423" stop-color="#4538d7"/><stop offset="0.6590" stop-color="#4538d7"/><stop offset="0.6814" stop-color="#4331c6"/><stop offset="0.7596" stop-color="#4331c6"/><stop offset="0.7624" stop-color="#412dbc"/><stop offset="0.7708" stop-color="#412dbc"/><stop offset="0.7876" stop-color="#4433cb"/><stop offset="0.8044" stop-color="#412dbc"/><stop offset="0.8127" stop-color="#412dbc"/><stop offset="0.8323" stop-color="#4538d7"/><stop offset="0.8731" stop-color="#4744e8"/><stop offset="0.8910" stop-color="#4744e8"/><stop offset="0.8952" stop-color="#4537d6"/><stop offset="0.8994" stop-color="#412dbc"/><stop offset="0.9078" stop-color="#412dbc"/><stop offset="0.9113" stop-color="#463bdd"/><stop offset="0.9148" stop-color="#484df0"/><stop offset="0.9183" stop-color="#465efb"/><stop offset="0.9217" stop-color="#3c71ff"/><stop offset="0.9385" stop-color="#3c71ff"/><stop offset="0.9422" stop-color="#4660fb"/><stop offset="0.9460" stop-color="#484ff2"/><stop offset="0.9497" stop-color="#463ee1"/><stop offset="0.9581" stop-color="#422ec0"/><stop offset="0.9665" stop-color="#422ec0"/><stop offset="0.9707" stop-color="#4539d9"/><stop offset="0.9748" stop-color="#4746ea"/><stop offset="1.0000" stop-color="#4746ea"/></linearGradient>
<linearGradient id="gb_45" gradientUnits="userSpaceOnUse" x1="161" y1="0" x2="1950" y2="0"><stop offset="0.0000" stop-color="#484ff2"/><stop offset="0.0162" stop-color="#484ff2"/><stop offset="0.0190" stop-color="#4757f7"/><stop offset="0.0358" stop-color="#4757f7"/><stop offset="0.0414" stop-color="#4742e6"/><stop offset="0.0470" stop-color="#4331c6"/><stop offset="0.0525" stop-color="#4331c6"/><stop offset="0.0665" stop-color="#4741e5"/><stop offset="0.0833" stop-color="#4741e5"/><stop offset="0.1001" stop-color="#4538d7"/><stop offset="0.1224" stop-color="#4746ea"/><stop offset="0.1560" stop-color="#4746ea"/><stop offset="0.1615" stop-color="#4433cb"/><stop offset="0.1727" stop-color="#4433cb"/><stop offset="0.2007" stop-color="#4741e5"/><stop offset="0.2515" stop-color="#4741e5"/><stop offset="0.2677" stop-color="#4435d0"/><stop offset="0.2789" stop-color="#4435d0"/><stop offset="0.2901" stop-color="#412dbc"/><stop offset="0.3125" stop-color="#412dbc"/><stop offset="0.3236" stop-color="#4331c6"/><stop offset="0.3460" stop-color="#4743e7"/><stop offset="0.3628" stop-color="#4743e7"/><stop offset="0.3740" stop-color="#4537d6"/><stop offset="0.3851" stop-color="#422ec0"/><stop offset="0.4354" stop-color="#422ec0"/><stop offset="0.4578" stop-color="#4433cb"/><stop offset="0.4802" stop-color="#412dbc"/><stop offset="0.5031" stop-color="#412dbc"/><stop offset="0.5249" stop-color="#402ab5"/><stop offset="0.5388" stop-color="#402ab5"/><stop offset="0.5528" stop-color="#4433cb"/><stop offset="0.5668" stop-color="#412cb8"/><stop offset="0.5780" stop-color="#412cb8"/><stop offset="0.5975" stop-color="#4435d0"/><stop offset="0.6143" stop-color="#412cb8"/><stop offset="0.6227" stop-color="#412cb8"/><stop offset="0.6423" stop-color="#4538d7"/><stop offset="0.6590" stop-color="#4538d7"/><stop offset="0.6730" stop-color="#402ab5"/><stop offset="0.6842" stop-color="#402ab5"/><stop offset="0.7037" stop-color="#4433cb"/><stop offset="0.7149" stop-color="#412dbc"/><stop offset="0.7261" stop-color="#412dbc"/><stop offset="0.7485" stop-color="#4331c6"/><stop offset="0.7932" stop-color="#4331c6"/><stop offset="0.8044" stop-color="#412dbc"/><stop offset="0.8127" stop-color="#412dbc"/><stop offset="0.8323" stop-color="#463bde"/><stop offset="0.8731" stop-color="#484ff2"/><stop offset="0.8910" stop-color="#484ff2"/><stop offset="0.8952" stop-color="#463de0"/><stop offset="0.8994" stop-color="#422ec0"/><stop offset="0.9078" stop-color="#422ec0"/><stop offset="0.9113" stop-color="#473ee2"/><stop offset="0.9148" stop-color="#4852f4"/><stop offset="0.9183" stop-color="#4466fd"/><stop offset="0.9217" stop-color="#337bfd"/><stop offset="0.9385" stop-color="#337bfd"/><stop offset="0.9441" stop-color="#4368fe"/><stop offset="0.9497" stop-color="#4757f7"/><stop offset="0.9553" stop-color="#4746ea"/><stop offset="1.0000" stop-color="#4746ea"/></linearGradient>
<linearGradient id="gb_46" gradientUnits="userSpaceOnUse" x1="161" y1="0" x2="1950" y2="0"><stop offset="0.0000" stop-color="#484ff2"/><stop offset="0.0162" stop-color="#484ff2"/><stop offset="0.0190" stop-color="#4757f7"/><stop offset="0.0358" stop-color="#4757f7"/><stop offset="0.0414" stop-color="#4744e8"/><stop offset="0.0470" stop-color="#4433cb"/><stop offset="0.0525" stop-color="#4433cb"/><stop offset="0.0721" stop-color="#4746ea"/><stop offset="0.1001" stop-color="#4746ea"/><stop offset="0.1224" stop-color="#484bef"/><stop offset="0.1504" stop-color="#484bef"/><stop offset="0.1560" stop-color="#463adc"/><stop offset="0.1615" stop-color="#412dbc"/><stop offset="0.1783" stop-color="#412dbc"/><stop offset="0.1923" stop-color="#4537d6"/><stop offset="0.2063" stop-color="#4744e8"/><stop offset="0.2515" stop-color="#4744e8"/><stop offset="0.2677" stop-color="#4536d3"/><stop offset="0.2789" stop-color="#4536d3"/><stop offset="0.2901" stop-color="#412dbc"/><stop offset="0.3125" stop-color="#412dbc"/><stop offset="0.3236" stop-color="#4331c6"/><stop offset="0.3348" stop-color="#463adb"/><stop offset="0.3460" stop-color="#4746ea"/><stop offset="0.3628" stop-color="#4746ea"/><stop offset="0.3740" stop-color="#4539d9"/><stop offset="0.3851" stop-color="#422ec0"/><stop offset="0.4354" stop-color="#422ec0"/><stop offset="0.4578" stop-color="#4433cb"/><stop offset="0.4802" stop-color="#412ebe"/><stop offset="0.5305" stop-color="#412ebe"/><stop offset="0.5472" stop-color="#4435d0"/><stop offset="0.5668" stop-color="#412cb8"/><stop offset="0.5780" stop-color="#412cb8"/><stop offset="0.5975" stop-color="#4538d7"/><stop offset="0.6171" stop-color="#422ec0"/><stop offset="0.6423" stop-color="#4538d7"/><stop offset="0.6590" stop-color="#4538d7"/><stop offset="0.6730" stop-color="#402ab5"/><stop offset="0.6842" stop-color="#402ab5"/><stop offset="0.7037" stop-color="#4331c6"/><stop offset="0.7546" stop-color="#4331c6"/><stop offset="0.7708" stop-color="#4433cb"/><stop offset="0.8044" stop-color="#4433cb"/><stop offset="0.8323" stop-color="#463ee1"/><stop offset="0.8491" stop-color="#463ee1"/><stop offset="0.8547" stop-color="#4331c6"/><stop offset="0.8603" stop-color="#4331c6"/><stop offset="0.8667" stop-color="#4744e8"/><stop offset="0.8731" stop-color="#4759f9"/><stop offset="0.8910" stop-color="#4759f9"/><stop offset="0.8966" stop-color="#4848ec"/><stop offset="0.9022" stop-color="#4538d7"/><stop offset="0.9071" stop-color="#484aee"/><stop offset="0.9120" stop-color="#465dfa"/><stop offset="0.9169" stop-color="#3d71ff"/><stop offset="0.9217" stop-color="#2e85f8"/><stop offset="0.9385" stop-color="#2e85f8"/><stop offset="0.9441" stop-color="#3b73fe"/><stop offset="0.9497" stop-color="#4661fc"/><stop offset="0.9553" stop-color="#484ff2"/><stop offset="1.0000" stop-color="#484ff2"/></linearGradient>
<linearGradient id="gb_47" gradientUnits="userSpaceOnUse" x1="161" y1="0" x2="1950" y2="0"><stop offset="0.0000" stop-color="#484ff2"/><stop offset="0.0151" stop-color="#484ff2"/><stop offset="0.0173" stop-color="#4757f7"/><stop offset="0.0330" stop-color="#4757f7"/><stop offset="0.0386" stop-color="#484bee"/><stop offset="0.0442" stop-color="#463ee1"/><stop offset="0.0511" stop-color="#484bee"/><stop offset="0.0581" stop-color="#4757f7"/><stop offset="0.0777" stop-color="#4757f7"/><stop offset="0.0889" stop-color="#4746ea"/><stop offset="0.0945" stop-color="#4433cb"/><stop offset="0.1001" stop-color="#4433cb"/><stop offset="0.1168" stop-color="#4746ea"/><stop offset="0.1280" stop-color="#4746ea"/><stop offset="0.1322" stop-color="#463adb"/><stop offset="0.1364" stop-color="#4331c6"/><stop offset="0.1420" stop-color="#4331c6"/><stop offset="0.1615" stop-color="#463ee1"/><stop offset="0.1839" stop-color="#4331c6"/><stop offset="0.1895" stop-color="#4331c6"/><stop offset="0.2119" stop-color="#4741e5"/><stop offset="0.2286" stop-color="#4433cb"/><stop offset="0.2342" stop-color="#4433cb"/><stop offset="0.2515" stop-color="#4538d7"/><stop offset="0.2789" stop-color="#4538d7"/><stop offset="0.2957" stop-color="#412dbc"/><stop offset="0.3125" stop-color="#412dbc"/><stop offset="0.3264" stop-color="#4433cb"/><stop offset="0.3460" stop-color="#4741e5"/><stop offset="0.3628" stop-color="#4741e5"/><stop offset="0.3851" stop-color="#4230c3"/><stop offset="0.4131" stop-color="#4230c3"/><stop offset="0.4354" stop-color="#412dbc"/><stop offset="0.4578" stop-color="#4433cb"/><stop offset="0.4802" stop-color="#412ebe"/><stop offset="0.5249" stop-color="#412ebe"/><stop offset="0.5472" stop-color="#4435d0"/><stop offset="0.5696" stop-color="#412cb8"/><stop offset="0.5780" stop-color="#412cb8"/><stop offset="0.5975" stop-color="#463adc"/><stop offset="0.6199" stop-color="#422ec0"/><stop offset="0.6311" stop-color="#422ec0"/><stop offset="0.6478" stop-color="#4435d0"/><stop offset="0.6730" stop-color="#402ab5"/><stop offset="0.6842" stop-color="#402ab5"/><stop offset="0.7037" stop-color="#4331c6"/><stop offset="0.7261" stop-color="#412dbc"/><stop offset="0.7546" stop-color="#412dbc"/><stop offset="0.7708" stop-color="#4433cb"/><stop offset="0.8044" stop-color="#4433cb"/><stop offset="0.8323" stop-color="#463ee1"/><stop offset="0.8547" stop-color="#412dbc"/><stop offset="0.8631" stop-color="#412dbc"/><stop offset="0.8664" stop-color="#463bdd"/><stop offset="0.8698" stop-color="#484df0"/><stop offset="0.8731" stop-color="#465ffb"/><stop offset="0.8910" stop-color="#465ffb"/><stop offset="0.8966" stop-color="#484ef1"/><stop offset="0.9022" stop-color="#463ee1"/><stop offset="0.9071" stop-color="#4851f3"/><stop offset="0.9120" stop-color="#4563fd"/><stop offset="0.9169" stop-color="#3677fe"/><stop offset="0.9217" stop-color="#2d8af4"/><stop offset="0.9385" stop-color="#2d8af4"/><stop offset="0.9441" stop-color="#3777fe"/><stop offset="0.9497" stop-color="#4562fc"/><stop offset="0.9553" stop-color="#484ff2"/><stop offset="0.9776" stop-color="#4741e5"/><stop offset="1.0000" stop-color="#4741e5"/></linearGradient>
<linearGradient id="gb_48" gradientUnits="userSpaceOnUse" x1="161" y1="0" x2="1950" y2="0"><stop offset="0.0000" stop-color="#484ff2"/><stop offset="0.0140" stop-color="#484ff2"/><stop offset="0.0162" stop-color="#4757f7"/><stop offset="0.0302" stop-color="#4757f7"/><stop offset="0.0358" stop-color="#4742e6"/><stop offset="0.0414" stop-color="#4331c6"/><stop offset="0.0470" stop-color="#4331c6"/><stop offset="0.0516" stop-color="#4742e6"/><stop offset="0.0563" stop-color="#4755f6"/><stop offset="0.0609" stop-color="#4269fe"/><stop offset="0.0777" stop-color="#4269fe"/><stop offset="0.0833" stop-color="#4757f7"/><stop offset="0.0889" stop-color="#4746ea"/><stop offset="0.0945" stop-color="#4433cb"/><stop offset="0.1001" stop-color="#4433cb"/><stop offset="0.1070" stop-color="#463ee1"/><stop offset="0.1140" stop-color="#484bef"/><stop offset="0.1280" stop-color="#484bef"/><stop offset="0.1322" stop-color="#463ee1"/><stop offset="0.1364" stop-color="#4433cb"/><stop offset="0.1420" stop-color="#4433cb"/><stop offset="0.1615" stop-color="#463ee1"/><stop offset="0.1839" stop-color="#4433cb"/><stop offset="0.1895" stop-color="#4433cb"/><stop offset="0.2119" stop-color="#4746ea"/><stop offset="0.2286" stop-color="#4433cb"/><stop offset="0.2342" stop-color="#4433cb"/><stop offset="0.2515" stop-color="#463ee1"/><stop offset="0.2733" stop-color="#463ee1"/><stop offset="0.2957" stop-color="#422ec0"/><stop offset="0.3181" stop-color="#422ec0"/><stop offset="0.3292" stop-color="#4435d0"/><stop offset="0.3460" stop-color="#463ee1"/><stop offset="0.3628" stop-color="#463ee1"/><stop offset="0.3851" stop-color="#4433cb"/><stop offset="0.4131" stop-color="#4433cb"/><stop offset="0.4243" stop-color="#412cb8"/><stop offset="0.4382" stop-color="#412cb8"/><stop offset="0.4578" stop-color="#4433cb"/><stop offset="0.4802" stop-color="#412dbc"/><stop offset="0.5031" stop-color="#412dbc"/><stop offset="0.5137" stop-color="#4331c6"/><stop offset="0.5249" stop-color="#4331c6"/><stop offset="0.5472" stop-color="#4435d0"/><stop offset="0.5696" stop-color="#412cb8"/><stop offset="0.5780" stop-color="#412cb8"/><stop offset="0.5975" stop-color="#463bde"/><stop offset="0.6171" stop-color="#412cb8"/><stop offset="0.6311" stop-color="#412cb8"/><stop offset="0.6478" stop-color="#4433cb"/><stop offset="0.6730" stop-color="#412cb8"/><stop offset="0.6814" stop-color="#412cb8"/><stop offset="0.7037" stop-color="#4331c6"/><stop offset="0.7261" stop-color="#412dbc"/><stop offset="0.7546" stop-color="#412dbc"/><stop offset="0.7596" stop-color="#412dbc"/><stop offset="0.7652" stop-color="#412dbc"/><stop offset="0.7820" stop-color="#4435d0"/><stop offset="0.8044" stop-color="#412dbc"/><stop offset="0.8099" stop-color="#412dbc"/><stop offset="0.8323" stop-color="#463ee1"/><stop offset="0.8547" stop-color="#4433cb"/><stop offset="0.8608" stop-color="#4740e4"/><stop offset="0.8670" stop-color="#484ff2"/><stop offset="0.8731" stop-color="#465ffb"/><stop offset="0.8910" stop-color="#465ffb"/><stop offset="0.8938" stop-color="#484df0"/><stop offset="0.8966" stop-color="#463bdd"/><stop offset="0.8994" stop-color="#412dbc"/><stop offset="0.9050" stop-color="#412dbc"/><stop offset="0.9083" stop-color="#463cdf"/><stop offset="0.9117" stop-color="#484ff2"/><stop offset="0.9150" stop-color="#4562fc"/><stop offset="0.9184" stop-color="#3777fe"/><stop offset="0.9217" stop-color="#2d8af4"/><stop offset="0.9357" stop-color="#2d8af4"/><stop offset="0.9392" stop-color="#3677fe"/><stop offset="0.9427" stop-color="#4563fd"/><stop offset="0.9462" stop-color="#4851f3"/><stop offset="0.9497" stop-color="#463ee1"/><stop offset="0.9553" stop-color="#4331c6"/><stop offset="0.9609" stop-color="#4331c6"/><stop offset="0.9707" stop-color="#463adb"/><stop offset="0.9804" stop-color="#4746ea"/><stop offset="1.0000" stop-color="#4746ea"/></linearGradient>
<linearGradient id="gb_49" gradientUnits="userSpaceOnUse" x1="161" y1="0" x2="1950" y2="0"><stop offset="0.0000" stop-color="#484ff2"/><stop offset="0.0129" stop-color="#484ff2"/><stop offset="0.0151" stop-color="#4757f7"/><stop offset="0.0285" stop-color="#4757f7"/><stop offset="0.0349" stop-color="#4745e9"/><stop offset="0.0414" stop-color="#4435d0"/><stop offset="0.0479" stop-color="#4848ec"/><stop offset="0.0544" stop-color="#475cfa"/><stop offset="0.0609" stop-color="#3c71ff"/><stop offset="0.0777" stop-color="#3c71ff"/><stop offset="0.0861" stop-color="#4660fb"/><stop offset="0.0945" stop-color="#484ff2"/><stop offset="0.1336" stop-color="#484ff2"/><stop offset="0.1560" stop-color="#463ee1"/><stop offset="0.1783" stop-color="#4746ea"/><stop offset="0.2515" stop-color="#4746ea"/><stop offset="0.2733" stop-color="#4744e8"/><stop offset="0.2957" stop-color="#4331c6"/><stop offset="0.3181" stop-color="#4331c6"/><stop offset="0.3292" stop-color="#412dbc"/><stop offset="0.3376" stop-color="#412dbc"/><stop offset="0.3516" stop-color="#463bde"/><stop offset="0.3684" stop-color="#463bde"/><stop offset="0.3851" stop-color="#4433cb"/><stop offset="0.4131" stop-color="#4433cb"/><stop offset="0.4354" stop-color="#412dbc"/><stop offset="0.4578" stop-color="#4433cb"/><stop offset="0.4857" stop-color="#412dbc"/><stop offset="0.5031" stop-color="#4331c6"/><stop offset="0.5249" stop-color="#4331c6"/><stop offset="0.5472" stop-color="#4435d0"/><stop offset="0.5724" stop-color="#412dbc"/><stop offset="0.5975" stop-color="#463ee1"/><stop offset="0.6059" stop-color="#463ee1"/><stop offset="0.6255" stop-color="#412dbc"/><stop offset="0.6367" stop-color="#412dbc"/><stop offset="0.6534" stop-color="#4433cb"/><stop offset="0.6758" stop-color="#412dbc"/><stop offset="0.7037" stop-color="#4331c6"/><stop offset="0.7261" stop-color="#412dbc"/><stop offset="0.7546" stop-color="#412dbc"/><stop offset="0.7624" stop-color="#412dbc"/><stop offset="0.7820" stop-color="#4538d7"/><stop offset="0.8072" stop-color="#422ec0"/><stop offset="0.8323" stop-color="#4741e5"/><stop offset="0.8527" stop-color="#4850f2"/><stop offset="0.8731" stop-color="#465ffb"/><stop offset="0.8910" stop-color="#465ffb"/><stop offset="0.8947" stop-color="#484ef1"/><stop offset="0.8985" stop-color="#463ee1"/><stop offset="0.9022" stop-color="#4331c6"/><stop offset="0.9071" stop-color="#4742e6"/><stop offset="0.9120" stop-color="#4756f7"/><stop offset="0.9169" stop-color="#416bfe"/><stop offset="0.9217" stop-color="#2f81fa"/><stop offset="0.9357" stop-color="#2f81fa"/><stop offset="0.9404" stop-color="#416bfe"/><stop offset="0.9450" stop-color="#4756f6"/><stop offset="0.9497" stop-color="#4741e5"/><stop offset="0.9581" stop-color="#4433cb"/><stop offset="0.9804" stop-color="#4746ea"/><stop offset="1.0000" stop-color="#4746ea"/></linearGradient>
<linearGradient id="gb_50" gradientUnits="userSpaceOnUse" x1="161" y1="0" x2="1950" y2="0"><stop offset="0.0000" stop-color="#484ff2"/><stop offset="0.0117" stop-color="#484ff2"/><stop offset="0.0140" stop-color="#4757f7"/><stop offset="0.0274" stop-color="#4757f7"/><stop offset="0.0316" stop-color="#4744e8"/><stop offset="0.0358" stop-color="#4433cb"/><stop offset="0.0386" stop-color="#4433cb"/><stop offset="0.0451" stop-color="#4745e9"/><stop offset="0.0516" stop-color="#4759f9"/><stop offset="0.0581" stop-color="#3f6eff"/><stop offset="0.0777" stop-color="#3f6eff"/><stop offset="0.0861" stop-color="#465ffb"/><stop offset="0.0945" stop-color="#484ff2"/><stop offset="0.1336" stop-color="#484ff2"/><stop offset="0.1615" stop-color="#4741e5"/><stop offset="0.2454" stop-color="#4741e5"/><stop offset="0.2515" stop-color="#4848ec"/><stop offset="0.2733" stop-color="#4848ec"/><stop offset="0.2845" stop-color="#463bdd"/><stop offset="0.2957" stop-color="#4331c6"/><stop offset="0.3181" stop-color="#4331c6"/><stop offset="0.3320" stop-color="#422ec0"/><stop offset="0.3516" stop-color="#463bde"/><stop offset="0.3740" stop-color="#463bde"/><stop offset="0.3851" stop-color="#4433cb"/><stop offset="0.4131" stop-color="#4433cb"/><stop offset="0.4354" stop-color="#422ec0"/><stop offset="0.4578" stop-color="#4435d0"/><stop offset="0.4913" stop-color="#422ec0"/><stop offset="0.5031" stop-color="#4433cb"/><stop offset="0.5249" stop-color="#422ec0"/><stop offset="0.5472" stop-color="#4435d0"/><stop offset="0.5724" stop-color="#4331c6"/><stop offset="0.6003" stop-color="#4741e5"/><stop offset="0.6059" stop-color="#4741e5"/><stop offset="0.6311" stop-color="#422ec0"/><stop offset="0.6534" stop-color="#4435d0"/><stop offset="0.6758" stop-color="#4331c6"/><stop offset="0.7037" stop-color="#4433cb"/><stop offset="0.7317" stop-color="#4230c3"/><stop offset="0.7596" stop-color="#4230c3"/><stop offset="0.7820" stop-color="#463bde"/><stop offset="0.8072" stop-color="#4433cb"/><stop offset="0.8323" stop-color="#4746ea"/><stop offset="0.8527" stop-color="#4852f4"/><stop offset="0.8731" stop-color="#465ffb"/><stop offset="0.8910" stop-color="#465ffb"/><stop offset="0.8966" stop-color="#4849ed"/><stop offset="0.9022" stop-color="#4435d0"/><stop offset="0.9087" stop-color="#4849ed"/><stop offset="0.9152" stop-color="#465ffb"/><stop offset="0.9217" stop-color="#3876fe"/><stop offset="0.9357" stop-color="#3876fe"/><stop offset="0.9394" stop-color="#4465fd"/><stop offset="0.9432" stop-color="#4755f6"/><stop offset="0.9469" stop-color="#4746ea"/><stop offset="1.0000" stop-color="#4746ea"/></linearGradient>
<linearGradient id="cbb" gradientUnits="userSpaceOnUse" x1="0" y1="3615.5" x2="0" y2="2035"><stop offset="0.0000" stop-color="#3e26a8"/><stop offset="0.0156" stop-color="#402ab4"/><stop offset="0.0312" stop-color="#422ebf"/><stop offset="0.0469" stop-color="#4332ca"/><stop offset="0.0625" stop-color="#4536d5"/><stop offset="0.0781" stop-color="#463bdd"/><stop offset="0.0938" stop-color="#4741e5"/><stop offset="0.1094" stop-color="#4746ea"/><stop offset="0.1250" stop-color="#484cef"/><stop offset="0.1406" stop-color="#4852f4"/><stop offset="0.1562" stop-color="#4757f7"/><stop offset="0.1719" stop-color="#475dfa"/><stop offset="0.1875" stop-color="#4562fc"/><stop offset="0.2031" stop-color="#4368fe"/><stop offset="0.2188" stop-color="#3f6efe"/><stop offset="0.2344" stop-color="#3a74fe"/><stop offset="0.2500" stop-color="#347afd"/><stop offset="0.2656" stop-color="#3080fa"/><stop offset="0.2812" stop-color="#2e85f8"/><stop offset="0.2969" stop-color="#2d8bf4"/><stop offset="0.3125" stop-color="#2c90f0"/><stop offset="0.3281" stop-color="#2895ec"/><stop offset="0.3438" stop-color="#269ae9"/><stop offset="0.3594" stop-color="#249ee6"/><stop offset="0.3750" stop-color="#21a3e3"/><stop offset="0.3906" stop-color="#1ea7e1"/><stop offset="0.4062" stop-color="#1aacdd"/><stop offset="0.4219" stop-color="#14b0d8"/><stop offset="0.4375" stop-color="#0cb3d3"/><stop offset="0.4531" stop-color="#04b6cd"/><stop offset="0.4688" stop-color="#01b9c6"/><stop offset="0.4844" stop-color="#07bcc0"/><stop offset="0.5000" stop-color="#12beb9"/><stop offset="0.5156" stop-color="#1ec0b2"/><stop offset="0.5312" stop-color="#28c2ab"/><stop offset="0.5469" stop-color="#2ec5a4"/><stop offset="0.5625" stop-color="#34c79c"/><stop offset="0.5781" stop-color="#3ac993"/><stop offset="0.5938" stop-color="#44ca8a"/><stop offset="0.6094" stop-color="#4fcc80"/><stop offset="0.6250" stop-color="#5ccc76"/><stop offset="0.6406" stop-color="#69cd6b"/><stop offset="0.6562" stop-color="#77cc60"/><stop offset="0.6719" stop-color="#85cb55"/><stop offset="0.6875" stop-color="#94ca4a"/><stop offset="0.7031" stop-color="#a2c840"/><stop offset="0.7188" stop-color="#afc637"/><stop offset="0.7344" stop-color="#bcc42f"/><stop offset="0.7500" stop-color="#c8c129"/><stop offset="0.7656" stop-color="#d4bf28"/><stop offset="0.7812" stop-color="#debc2a"/><stop offset="0.7969" stop-color="#e8bb2f"/><stop offset="0.8125" stop-color="#f1ba37"/><stop offset="0.8281" stop-color="#f9bb3d"/><stop offset="0.8438" stop-color="#febe3c"/><stop offset="0.8594" stop-color="#fec437"/><stop offset="0.8750" stop-color="#feca33"/><stop offset="0.8906" stop-color="#fcd030"/><stop offset="0.9062" stop-color="#f9d62d"/><stop offset="0.9219" stop-color="#f7dd2a"/><stop offset="0.9375" stop-color="#f5e327"/><stop offset="0.9531" stop-color="#f5e924"/><stop offset="0.9688" stop-color="#f6ef20"/><stop offset="0.9844" stop-color="#f7f51b"/><stop offset="1.0000" stop-color="#f9fb15"/></linearGradient>
</defs>
<g clip-path="url(#clipa)">
<g filter="url(#vb)">
<rect x="158" y="77.5" width="1799" height="44.8" fill="url(#ga_0)"/>
<rect x="158" y="121.7" width="1799" height="31.3" fill="url(#ga_1)"/>
<rect x="158" y="152.4" width="1799" height="31.3" fill="url(#ga_2)"/>
<rect x="158" y="183.2" width="1799" height="31.3" fill="url(#ga_3)"/>
<rect x="158" y="213.9" width="1799" height="31.3" fill="url(#ga_4)"/>
<rect x="158" y="244.6" width="1799" height="31.3" fill="url(#ga_5)"/>
<rect x="158" y="275.3" width="1799" height="31.3" fill="url(#ga_6)"/>
<rect x="158" y="306" width="1799" height="31.3" fill="url(#ga_7)"/>
<rect x="158" y="336.8" width="1799" height="31.3" fill="url(#ga_8)"/>
<rect x="158" y="367.5" width="1799" height="31.3" fill="url(#ga_9)"/>
<rect x="158" y="398.2" width="1799" height="31.3" fill="url(#ga_10)"/>
<rect x="158" y="428.9" width="1799" height="31.3" fill="url(#ga_11)"/>
<rect x="158" y="459.6" width="1799" height="31.3" fill="url(#ga_12)"/>
<rect x="158" y="490.4" width="1799" height="31.3" fill="url(#ga_13)"/>
<rect x="158" y="521.1" width="1799" height="31.3" fill="url(#ga_14)"/>
<rect x="158" y="551.8" width="1799" height="31.3" fill="url(#ga_15)"/>
<rect x="158" y="582.5" width="1799" height="31.3" fill="url(#ga_16)"/>
<rect x="158" y="613.2" width="1799" height="31.3" fill="url(#ga_17)"/>
<rect x="158" y="644" width="1799" height="31.3" fill="url(#ga_18)"/>
<rect x="158" y="674.7" width="1799" height="31.3" fill="url(#ga_19)"/>
<rect x="158" y="705.4" width="1799" height="31.3" fill="url(#ga_20)"/>
<rect x="158" y="736.1" width="1799" height="31.3" fill="url(#ga_21)"/>
<rect x="158" y="766.8" width="1799" height="31.3" fill="url(#ga_22)"/>
<rect x="158" y="797.6" width="1799" height="31.3" fill="url(#ga_23)"/>
<rect x="158" y="828.3" width="1799" height="31.3" fill="url(#ga_24)"/>
<rect x="158" y="859" width="1799" height="31.3" fill="url(#ga_25)"/>
<rect x="158" y="889.7" width="1799" height="31.3" fill="url(#ga_26)"/>
<rect x="158" y="920.4" width="1799" height="31.3" fill="url(#ga_27)"/>
<rect x="158" y="951.2" width="1799" height="31.3" fill="url(#ga_28)"/>
<rect x="158" y="981.9" width="1799" height="31.3" fill="url(#ga_29)"/>
<rect x="158" y="1012.6" width="1799" height="31.3" fill="url(#ga_30)"/>
<rect x="158" y="1043.3" width="1799" height="31.3" fill="url(#ga_31)"/>
<rect x="158" y="1074" width="1799" height="31.3" fill="url(#ga_32)"/>
<rect x="158" y="1104.8" width="1799" height="31.3" fill="url(#ga_33)"/>
<rect x="158" y="1135.5" width="1799" height="31.3" fill="url(#ga_34)"/>
<rect x="158" y="1166.2" width="1799" height="31.3" fill="url(#ga_35)"/>
<rect x="158" y="1196.9" width="1799" height="31.3" fill="url(#ga_36)"/>
<rect x="158" y="1227.6" width="1799" height="31.3" fill="url(#ga_37)"/>
<rect x="158" y="1258.4" width="1799" height="31.3" fill="url(#ga_38)"/>
<rect x="158" y="1289.1" width="1799" height="31.3" fill="url(#ga_39)"/>
<rect x="158" y="1319.8" width="1799" height="31.3" fill="url(#ga_40)"/>
<rect x="158" y="1350.5" width="1799" height="31.3" fill="url(#ga_41)"/>
<rect x="158" y="1381.2" width="1799" height="31.3" fill="url(#ga_42)"/>
<rect x="158" y="1412" width="1799" height="31.3" fill="url(#ga_43)"/>
<rect x="158" y="1442.7" width="1799" height="31.3" fill="url(#ga_44)"/>
<rect x="158" y="1473.4" width="1799" height="31.3" fill="url(#ga_45)"/>
<rect x="158" y="1504.1" width="1799" height="31.3" fill="url(#ga_46)"/>
<rect x="158" y="1534.8" width="1799" height="31.3" fill="url(#ga_47)"/>
<rect x="158" y="1565.6" width="1799" height="31.3" fill="url(#ga_48)"/>
<rect x="158" y="1596.3" width="1799" height="31.3" fill="url(#ga_49)"/>
<rect x="158" y="1627" width="1799" height="42.1" fill="url(#ga_50)"/>
</g>
<path d="M188.7,1656.6 L189.4,1646.8 L190,1637 L190.6,1627.1 L191.3,1617.3 L192,1607.5 L192.7,1597.7 L193.4,1587.8 L194.1,1578 L194.8,1568.2 L195.6,1558.4 L196.3,1548.6 L197.1,1538.7 L197.9,1528.9 L198.7,1519.1 L199.6,1509.3 L200.4,1499.4 L201.3,1489.6 L202.2,1479.8 L203.1,1470 L204,1460.2 L205,1450.3 L206,1440.5 L207,1430.7 L208,1420.9 L209,1411 L210.1,1401.2 L211.2,1391.4 L212.3,1381.6 L213.4,1371.8 L214.6,1361.9 L215.8,1352.1 L217,1342.3 L218.2,1332.5 L219.5,1322.7 L220.8,1312.8 L222.1,1303 L223.4,1293.2 L224.8,1283.4 L226.2,1273.6 L227.7,1263.7 L229.1,1253.9 L230.6,1244.1 L232.2,1234.3 L233.7,1224.5 L235.3,1214.6 L237,1204.8 L238.7,1195 L240.4,1185.2 L242.1,1175.4 L243.9,1165.5 L245.7,1155.7 L247.6,1145.9 L249.5,1136.1 L251.5,1126.3 L253.5,1116.4 L255.5,1106.6 L257.6,1096.8 L259.7,1087 L261.9,1077.2 L264.1,1067.4 L266.4,1057.5 L268.7,1047.7 L271.1,1037.9 L273.5,1028.1 L276,1018.3 L278.5,1008.5 L281.1,998.6 L283.7,988.8 L286.4,979 L289.2,969.2 L292,959.4 L294.9,949.6 L297.8,939.7 L300.9,929.9 L303.9,920.1 L307,910.3 L310.1,900.5 L313.2,890.6 L316.4,880.8 L319.7,871 L323,861.2 L326.4,851.4 L329.9,841.6 L333.5,831.8 L337.1,821.9 L340.8,812.1 L344.6,802.3 L348.5,792.5 L352.4,782.7 L356.5,772.9 L360.6,763.1 L364.9,753.2 L369.2,743.4 L373.6,733.6 L378.1,723.8 L382.7,714 L387.4,704.2 L392.3,694.4 L397.2,684.5 L402.2,674.7 L407.4,664.9 L412.6,655.1 L418,645.3 L423.5,635.5 L429.1,625.7 L434.8,615.9 L440.7,606.1 L446.7,596.2 L452.8,586.4 L459,576.6 L465.4,566.8 L471.9,557 L478.6,547.2 L485.4,537.4 L492.4,527.6 L499.5,517.7 L506.8,507.9 L514.2,498.1 L521.8,488.3 L529.6,478.5 L537.5,468.7 L545.7,458.9 L553.9,449.1 L562.4,439.3 L571.1,429.4 L579.9,419.6 L589,409.8 L598.2,400 L607.7,390.2 L617.3,380.4 L627.2,370.6 L637.3,360.8 L647.6,350.9 L658.1,341.1 L668.8,331.3 L679.8,321.5 L691.1,311.7 L702.6,301.9 L714.3,292.1 L726.3,282.2 L738.5,272.4 L751.1,262.6 L763.9,252.8 L777,243 L790.3,233.2 L804,223.4 L818,213.5 L832.2,203.7 L846.8,193.9 L861.7,184.1 L877,174.3 L892.5,164.5 L908.4,154.6 L924.7,144.8 L941.3,135 L958.3,125.2 L975.6,115.4 L993.4,105.6 L1011.5,95.7 L1030,85.9" fill="none" stroke="#fff" stroke-width="9.5" stroke-dasharray="46 45.35" stroke-dashoffset="14"/>
<path d="M1925.9,1656.6 L1925.3,1646.8 L1924.7,1637 L1924.1,1627.1 L1923.4,1617.3 L1922.8,1607.5 L1922.1,1597.7 L1921.4,1587.8 L1920.7,1578 L1920,1568.2 L1919.3,1558.4 L1918.5,1548.5 L1917.8,1538.7 L1917,1528.9 L1916.2,1519.1 L1915.4,1509.3 L1914.5,1499.4 L1913.7,1489.6 L1912.8,1479.8 L1911.9,1470 L1911,1460.1 L1910.1,1450.3 L1909.1,1440.5 L1908.1,1430.7 L1907.2,1420.9 L1906.1,1411 L1905.1,1401.2 L1904,1391.4 L1903,1381.6 L1901.9,1371.8 L1900.7,1361.9 L1899.6,1352.1 L1898.4,1342.3 L1897.2,1332.5 L1895.9,1322.7 L1894.7,1312.8 L1893.4,1303 L1892.1,1293.2 L1890.7,1283.4 L1889.4,1273.5 L1888,1263.7 L1886.5,1253.9 L1885,1244.1 L1883.5,1234.3 L1882,1224.4 L1880.4,1214.6 L1878.8,1204.8 L1877.2,1195 L1875.5,1185.2 L1873.8,1175.4 L1872.1,1165.5 L1870.3,1155.7 L1868.5,1145.9 L1866.6,1136.1 L1864.7,1126.3 L1862.8,1116.4 L1860.8,1106.6 L1858.7,1096.8 L1856.7,1087 L1854.5,1077.2 L1852.4,1067.3 L1850.2,1057.5 L1847.9,1047.7 L1845.6,1037.9 L1843.2,1028.1 L1840.8,1018.3 L1838.3,1008.4 L1835.8,998.6 L1833.2,988.8 L1830.6,979 L1827.9,969.2 L1825.1,959.4 L1822.3,949.5 L1819.4,939.7 L1816.5,929.9 L1813.5,920.1 L1810.4,910.3 L1807.4,900.5 L1804.2,890.6 L1801,880.8 L1797.7,871 L1794.3,861.2 L1790.9,851.4 L1787.4,841.6 L1783.8,831.8 L1780.1,821.9 L1776.4,812.1 L1772.5,802.3 L1768.6,792.5 L1764.6,782.7 L1760.5,772.9 L1756.3,763.1 L1752.1,753.2 L1747.7,743.4 L1743.2,733.6 L1738.7,723.8 L1734,714 L1729.2,704.2 L1724.4,694.4 L1719.4,684.6 L1714.3,674.7 L1709.1,664.9 L1703.8,655.1 L1698.4,645.3 L1692.9,635.5 L1687.2,625.7 L1681.4,615.9 L1675.5,606.1 L1669.4,596.2 L1663.3,586.4 L1656.9,576.6 L1650.5,566.8 L1643.9,557 L1637.2,547.2 L1630.3,537.4 L1623.2,527.6 L1616,517.8 L1608.7,507.9 L1601.2,498.1 L1593.5,488.3 L1585.6,478.5 L1577.6,468.7 L1569.4,458.9 L1561.1,449.1 L1552.5,439.3 L1543.8,429.4 L1534.8,419.6 L1525.7,409.8 L1516.3,400 L1506.8,390.2 L1497.1,380.4 L1487.1,370.6 L1476.9,360.8 L1466.5,350.9 L1455.9,341.1 L1445,331.3 L1433.9,321.5 L1422.5,311.7 L1410.9,301.9 L1399.1,292.1 L1387,282.2 L1374.6,272.4 L1361.9,262.6 L1349,252.8 L1335.8,243 L1322.3,233.2 L1308.5,223.4 L1294.4,213.5 L1280,203.7 L1265.2,193.9 L1250.2,184.1 L1234.8,174.3 L1219.1,164.5 L1203,154.6 L1186.6,144.8 L1169.8,135 L1152.6,125.2 L1135.1,115.4 L1117.2,105.6 L1098.9,95.7 L1080.2,85.9" fill="none" stroke="#fff" stroke-width="9.5" stroke-dasharray="46 45.4" stroke-dashoffset="-4.5"/>
<path d="M170,89.5 H1945 V1656.5 H170 Z M187,1659.5 L187.6,1649.5 L188.2,1639.5 L188.9,1629.5 L189.5,1619.5 L190.2,1609.5 L190.9,1599.5 L191.6,1589.5 L192.4,1579.5 L193.1,1569.5 L193.9,1559.5 L194.7,1549.5 L195.4,1539.5 L196.3,1529.5 L197.1,1519.5 L197.9,1509.5 L198.8,1499.5 L199.7,1489.5 L200.6,1479.5 L201.5,1469.5 L202.5,1459.5 L203.5,1449.5 L204.5,1439.5 L205.5,1429.5 L206.5,1419.5 L207.6,1409.5 L208.7,1399.5 L209.8,1389.5 L210.9,1379.5 L212.1,1369.5 L213.3,1359.5 L214.5,1349.5 L215.7,1339.5 L217,1329.5 L218.3,1319.5 L219.6,1309.5 L220.9,1299.5 L222.3,1289.5 L223.7,1279.5 L225.2,1269.5 L226.7,1259.5 L228.2,1249.5 L229.7,1239.5 L231.3,1229.5 L232.9,1219.5 L234.6,1209.5 L236.3,1199.5 L238,1189.5 L239.8,1179.5 L241.6,1169.5 L243.4,1159.5 L245.3,1149.5 L247.2,1139.5 L249.2,1129.5 L251.2,1119.5 L253.3,1109.5 L255.4,1099.5 L257.5,1089.5 L259.7,1079.5 L262,1069.5 L264.3,1059.5 L266.6,1049.5 L269,1039.5 L271.5,1029.5 L274,1019.5 L276.6,1009.5 L279.2,999.5 L281.9,989.5 L284.6,979.5 L287.4,969.5 L290.3,959.5 L293.2,949.5 L296.2,939.5 L299.3,929.5 L302.4,919.5 L305.6,909.5 L308.7,899.5 L311.9,889.5 L315.2,879.5 L318.5,869.5 L321.9,859.5 L325.4,849.5 L328.9,839.5 L332.6,829.5 L336.3,819.5 L340.1,809.5 L344,799.5 L347.9,789.5 L352,779.5 L356.2,769.5 L360.4,759.5 L364.7,749.5 L369.2,739.5 L373.7,729.5 L378.4,719.5 L383.1,709.5 L387.9,699.5 L392.9,689.5 L398,679.5 L403.1,669.5 L408.4,659.5 L413.8,649.5 L419.4,639.5 L425,629.5 L430.8,619.5 L436.7,609.5 L442.8,599.5 L449,589.5 L455.3,579.5 L461.7,569.5 L468.3,559.5 L475.1,549.5 L482,539.5 L489,529.5 L496.3,519.5 L503.6,509.5 L511.2,499.5 L518.9,489.5 L526.8,479.5 L534.8,469.5 L543.1,459.5 L551.5,449.5 L560.1,439.5 L568.9,429.5 L577.9,419.5 L587.1,409.5 L596.5,399.5 L606.1,389.5 L615.9,379.5 L626,369.5 L636.2,359.5 L646.7,349.5 L657.5,339.5 L668.5,329.5 L679.7,319.5 L691.2,309.5 L702.9,299.5 L714.9,289.5 L727.1,279.5 L739.7,269.5 L752.5,259.5 L765.6,249.5 L779,239.5 L792.7,229.5 L806.7,219.5 L821,209.5 L835.6,199.5 L850.6,189.5 L865.9,179.5 L881.5,169.5 L897.5,159.5 L913.8,149.5 L930.5,139.5 L947.6,129.5 L965.1,119.5 L982.9,109.5 L1001.1,99.5 L1019.8,89.5 L1038.9,79.5 L1055,71.2 L1071.2,79.5 L1090.5,89.5 L1109.3,99.5 L1127.8,109.5 L1145.8,119.5 L1163.4,129.5 L1180.7,139.5 L1197.5,149.5 L1214.1,159.5 L1230.2,169.5 L1246,179.5 L1261.4,189.5 L1276.5,199.5 L1291.3,209.5 L1305.8,219.5 L1319.9,229.5 L1333.7,239.5 L1347.3,249.5 L1360.5,259.5 L1373.4,269.5 L1386.1,279.5 L1398.5,289.5 L1410.6,299.5 L1422.4,309.5 L1434,319.5 L1445.4,329.5 L1456.5,339.5 L1467.3,349.5 L1477.9,359.5 L1488.3,369.5 L1498.4,379.5 L1508.4,389.5 L1518.1,399.5 L1527.6,409.5 L1536.9,419.5 L1546,429.5 L1554.8,439.5 L1563.5,449.5 L1572,459.5 L1580.4,469.5 L1588.5,479.5 L1596.5,489.5 L1604.2,499.5 L1611.9,509.5 L1619.3,519.5 L1626.6,529.5 L1633.7,539.5 L1640.7,549.5 L1647.5,559.5 L1654.2,569.5 L1660.7,579.5 L1667.1,589.5 L1673.3,599.5 L1679.4,609.5 L1685.4,619.5 L1691.3,629.5 L1697,639.5 L1702.6,649.5 L1708,659.5 L1713.4,669.5 L1718.6,679.5 L1723.7,689.5 L1728.7,699.5 L1733.6,709.5 L1738.4,719.5 L1743.1,729.5 L1747.7,739.5 L1752.2,749.5 L1756.5,759.5 L1760.8,769.5 L1765,779.5 L1769.1,789.5 L1773.1,799.5 L1777.1,809.5 L1780.9,819.5 L1784.6,829.5 L1788.3,839.5 L1791.9,849.5 L1795.4,859.5 L1798.9,869.5 L1802.2,879.5 L1805.5,889.5 L1808.7,899.5 L1811.9,909.5 L1815,919.5 L1818.1,929.5 L1821,939.5 L1824,949.5 L1826.8,959.5 L1829.6,969.5 L1832.4,979.5 L1835.1,989.5 L1837.7,999.5 L1840.2,1009.5 L1842.8,1019.5 L1845.2,1029.5 L1847.6,1039.5 L1850,1049.5 L1852.3,1059.5 L1854.5,1069.5 L1856.7,1079.5 L1858.8,1089.5 L1860.9,1099.5 L1863,1109.5 L1865,1119.5 L1867,1129.5 L1868.9,1139.5 L1870.8,1149.5 L1872.6,1159.5 L1874.4,1169.5 L1876.2,1179.5 L1877.9,1189.5 L1879.6,1199.5 L1881.2,1209.5 L1882.9,1219.5 L1884.4,1229.5 L1886,1239.5 L1887.5,1249.5 L1889,1259.5 L1890.4,1269.5 L1891.8,1279.5 L1893.2,1289.5 L1894.5,1299.5 L1895.9,1309.5 L1897.2,1319.5 L1898.4,1329.5 L1899.7,1339.5 L1900.9,1349.5 L1902,1359.5 L1903.2,1369.5 L1904.3,1379.5 L1905.4,1389.5 L1906.5,1399.5 L1907.6,1409.5 L1908.6,1419.5 L1909.6,1429.5 L1910.6,1439.5 L1911.6,1449.5 L1912.5,1459.5 L1913.5,1469.5 L1914.4,1479.5 L1915.3,1489.5 L1916.1,1499.5 L1917,1509.5 L1917.8,1519.5 L1918.6,1529.5 L1919.4,1539.5 L1920.2,1549.5 L1921,1559.5 L1921.7,1569.5 L1922.4,1579.5 L1923.1,1589.5 L1923.8,1599.5 L1924.5,1609.5 L1925.2,1619.5 L1925.8,1629.5 L1926.5,1639.5 L1927.1,1649.5 L1927.7,1659.5Z" fill="#828282" fill-opacity="0.79" fill-rule="evenodd"/>
</g>
<path d="M171,1655.5 V90.5 H1944 M171,1655.5 H1944" fill="none" stroke="#1e1e2a" stroke-width="2" stroke-linecap="square"/>
<path d="M171,1638.4 h8.8 M171,1455.3 h8.8 M171,1325.4 h8.8 M171,1224.6 h8.8 M171,1142.2 h8.8 M171,1072.6 h8.8 M171,1012.3 h8.8 M171,959.1 h8.8 M171,911.5 h17.5 M171,598.4 h8.8 M171,415.3 h8.8 M171,285.4 h8.8 M171,184.6 h8.8 M171,102.2 h8.8" stroke="#15152a" stroke-width="2" fill="none"/>
<path d="M593.5,1655.5 v-17.5 M1017,1655.5 v-17.5 M1440.5,1655.5 v-17.5 M1864,1655.5 v-17.5" stroke="#10104a" stroke-opacity="0.75" stroke-width="2" fill="none"/>
<text x="170" y="1744" font-size="60" text-anchor="middle" fill="#262626">1998</text>
<text x="593.5" y="1744" font-size="60" text-anchor="middle" fill="#262626">2003</text>
<text x="1017" y="1744" font-size="60" text-anchor="middle" fill="#262626">2008</text>
<text x="1440.5" y="1744" font-size="60" text-anchor="middle" fill="#262626">2013</text>
<text x="1864" y="1744" font-size="60" text-anchor="middle" fill="#262626">2018</text>
<text x="139.5" y="937.5" font-size="60" text-anchor="end" fill="#262626">1</text>
<text x="1062.5" y="1831.5" font-size="66.5" text-anchor="middle" fill="#262626">Time (years)</text>
<text transform="translate(76.4,882.5) rotate(-90)" font-size="67.6" text-anchor="middle" fill="#262626">Period (years)</text>
<text x="1059" y="68.5" font-size="67.3" text-anchor="middle" fill="#000">The Wavelet Analysis for River Flow (WuHan)</text>
<rect x="1994.5" y="90.5" width="96" height="1565" fill="url(#cba)" stroke="#1a1a1a" stroke-width="2"/>
<text x="2114.5" y="1508" font-size="55" fill="#262626">0.2</text>
<text x="2114.5" y="1336.3" font-size="55" fill="#262626">0.4</text>
<text x="2114.5" y="1164.6" font-size="55" fill="#262626">0.6</text>
<text x="2114.5" y="993" font-size="55" fill="#262626">0.8</text>
<text x="2114.5" y="821.3" font-size="55" fill="#262626">1</text>
<text x="2114.5" y="649.6" font-size="55" fill="#262626">1.2</text>
<text x="2114.5" y="477.9" font-size="55" fill="#262626">1.4</text>
<text x="2114.5" y="306.2" font-size="55" fill="#262626">1.6</text>
<text x="2114.5" y="134.6" font-size="55" fill="#262626">1.8</text>
<path d="M2090.5,1486 h-15 M2090.5,1314.3 h-15 M2090.5,1142.6 h-15 M2090.5,971 h-15 M2090.5,799.3 h-15 M2090.5,627.6 h-15 M2090.5,455.9 h-15 M2090.5,284.2 h-15 M2090.5,112.6 h-15" stroke="#1a1a1a" stroke-width="2" fill="none"/>
<text transform="translate(2267.3,874.5) rotate(-90)" font-size="55" text-anchor="middle" fill="#262626">Magnitude</text>
<text x="1155.4" y="1928.5" font-size="55" font-family="'Liberation Serif', serif" text-anchor="middle" fill="#000" textLength="686" lengthAdjust="spacingAndGlyphs">(<tspan font-weight="bold">D</tspan>) (Near WuHan Station)</text>
<g clip-path="url(#clipb)">
<g filter="url(#vb)">
<rect x="149" y="2023" width="1813" height="45.1" fill="url(#gb_0)"/>
<rect x="149" y="2067.5" width="1813" height="31.6" fill="url(#gb_1)"/>
<rect x="149" y="2098.4" width="1813" height="31.6" fill="url(#gb_2)"/>
<rect x="149" y="2129.4" width="1813" height="31.6" fill="url(#gb_3)"/>
<rect x="149" y="2160.3" width="1813" height="31.6" fill="url(#gb_4)"/>
<rect x="149" y="2191.3" width="1813" height="31.6" fill="url(#gb_5)"/>
<rect x="149" y="2222.3" width="1813" height="31.6" fill="url(#gb_6)"/>
<rect x="149" y="2253.2" width="1813" height="31.6" fill="url(#gb_7)"/>
<rect x="149" y="2284.2" width="1813" height="31.6" fill="url(#gb_8)"/>
<rect x="149" y="2315.1" width="1813" height="31.6" fill="url(#gb_9)"/>
<rect x="149" y="2346.1" width="1813" height="31.6" fill="url(#gb_10)"/>
<rect x="149" y="2377.1" width="1813" height="31.6" fill="url(#gb_11)"/>
<rect x="149" y="2408" width="1813" height="31.6" fill="url(#gb_12)"/>
<rect x="149" y="2439" width="1813" height="31.6" fill="url(#gb_13)"/>
<rect x="149" y="2469.9" width="1813" height="31.6" fill="url(#gb_14)"/>
<rect x="149" y="2500.9" width="1813" height="31.6" fill="url(#gb_15)"/>
<rect x="149" y="2531.9" width="1813" height="31.6" fill="url(#gb_16)"/>
<rect x="149" y="2562.8" width="1813" height="31.6" fill="url(#gb_17)"/>
<rect x="149" y="2593.8" width="1813" height="31.6" fill="url(#gb_18)"/>
<rect x="149" y="2624.7" width="1813" height="31.6" fill="url(#gb_19)"/>
<rect x="149" y="2655.7" width="1813" height="31.6" fill="url(#gb_20)"/>
<rect x="149" y="2686.7" width="1813" height="31.6" fill="url(#gb_21)"/>
<rect x="149" y="2717.6" width="1813" height="31.6" fill="url(#gb_22)"/>
<rect x="149" y="2748.6" width="1813" height="31.6" fill="url(#gb_23)"/>
<rect x="149" y="2779.5" width="1813" height="31.6" fill="url(#gb_24)"/>
<rect x="149" y="2810.5" width="1813" height="31.6" fill="url(#gb_25)"/>
<rect x="149" y="2841.5" width="1813" height="31.6" fill="url(#gb_26)"/>
<rect x="149" y="2872.4" width="1813" height="31.6" fill="url(#gb_27)"/>
<rect x="149" y="2903.4" width="1813" height="31.6" fill="url(#gb_28)"/>
<rect x="149" y="2934.3" width="1813" height="31.6" fill="url(#gb_29)"/>
<rect x="149" y="2965.3" width="1813" height="31.6" fill="url(#gb_30)"/>
<rect x="149" y="2996.3" width="1813" height="31.6" fill="url(#gb_31)"/>
<rect x="149" y="3027.2" width="1813" height="31.6" fill="url(#gb_32)"/>
<rect x="149" y="3058.2" width="1813" height="31.6" fill="url(#gb_33)"/>
<rect x="149" y="3089.1" width="1813" height="31.6" fill="url(#gb_34)"/>
<rect x="149" y="3120.1" width="1813" height="31.6" fill="url(#gb_35)"/>
<rect x="149" y="3151.1" width="1813" height="31.6" fill="url(#gb_36)"/>
<rect x="149" y="3182" width="1813" height="31.6" fill="url(#gb_37)"/>
<rect x="149" y="3213" width="1813" height="31.6" fill="url(#gb_38)"/>
<rect x="149" y="3243.9" width="1813" height="31.6" fill="url(#gb_39)"/>
<rect x="149" y="3274.9" width="1813" height="31.6" fill="url(#gb_40)"/>
<rect x="149" y="3305.9" width="1813" height="31.6" fill="url(#gb_41)"/>
<rect x="149" y="3336.8" width="1813" height="31.6" fill="url(#gb_42)"/>
<rect x="149" y="3367.8" width="1813" height="31.6" fill="url(#gb_43)"/>
<rect x="149" y="3398.7" width="1813" height="31.6" fill="url(#gb_44)"/>
<rect x="149" y="3429.7" width="1813" height="31.6" fill="url(#gb_45)"/>
<rect x="149" y="3460.7" width="1813" height="31.6" fill="url(#gb_46)"/>
<rect x="149" y="3491.6" width="1813" height="31.6" fill="url(#gb_47)"/>
<rect x="149" y="3522.6" width="1813" height="31.6" fill="url(#gb_48)"/>
<rect x="149" y="3553.5" width="1813" height="31.6" fill="url(#gb_49)"/>
<rect x="149" y="3584.5" width="1813" height="43.6" fill="url(#gb_50)"/>
</g>
<path d="M179.7,3615.6 L180.3,3605.7 L180.9,3595.8 L181.6,3585.9 L182.2,3576 L182.9,3566.1 L183.6,3556.2 L184.3,3546.2 L185,3536.3 L185.7,3526.4 L186.5,3516.5 L187.3,3506.6 L188,3496.7 L188.8,3486.8 L189.7,3476.9 L190.5,3467 L191.3,3457.1 L192.2,3447.2 L193.1,3437.3 L194,3427.4 L194.9,3417.5 L195.9,3407.6 L196.9,3397.7 L197.8,3387.7 L198.9,3377.8 L199.9,3367.9 L201,3358 L202,3348.1 L203.1,3338.2 L204.3,3328.3 L205.4,3318.4 L206.6,3308.5 L207.8,3298.6 L209,3288.7 L210.3,3278.8 L211.6,3268.9 L212.9,3259 L214.2,3249.1 L215.6,3239.2 L217,3229.3 L218.4,3219.4 L219.9,3209.5 L221.4,3199.5 L222.9,3189.6 L224.5,3179.7 L226.1,3169.8 L227.7,3159.9 L229.4,3150 L231.1,3140.1 L232.8,3130.2 L234.6,3120.3 L236.4,3110.4 L238.3,3100.5 L240.2,3090.6 L242.1,3080.7 L244.1,3070.8 L246.1,3060.9 L248.2,3051 L250.3,3041.1 L252.5,3031.2 L254.7,3021.3 L256.9,3011.4 L259.2,3001.5 L261.6,2991.6 L264,2981.7 L266.5,2971.8 L269,2961.9 L271.6,2952 L274.2,2942.1 L276.9,2932.2 L279.6,2922.3 L282.4,2912.4 L285.3,2902.5 L288.2,2892.6 L291.2,2882.7 L294.3,2872.8 L297.4,2862.9 L300.5,2853 L303.7,2843.1 L306.9,2833.2 L310.2,2823.3 L313.6,2813.4 L317.1,2803.5 L320.6,2793.6 L324.2,2783.7 L327.9,2773.8 L331.7,2763.9 L335.5,2754 L339.5,2744.1 L343.5,2734.2 L347.6,2724.3 L351.8,2714.4 L356.1,2704.5 L360.5,2694.6 L365,2684.7 L369.6,2674.8 L374.3,2664.9 L379.1,2655 L384,2645.1 L389,2635.2 L394.1,2625.3 L399.3,2615.4 L404.6,2605.5 L410.1,2595.6 L415.7,2585.7 L421.4,2575.8 L427.2,2565.9 L433.1,2556 L439.2,2546.1 L445.4,2536.2 L451.8,2526.3 L458.3,2516.4 L464.9,2506.5 L471.7,2496.7 L478.6,2486.8 L485.7,2476.9 L492.9,2467 L500.3,2457.1 L507.8,2447.2 L515.5,2437.3 L523.4,2427.4 L531.5,2417.5 L539.7,2407.6 L548.1,2397.7 L556.7,2387.8 L565.5,2377.9 L574.5,2368 L583.7,2358.1 L593.1,2348.2 L602.6,2338.3 L612.4,2328.4 L622.4,2318.5 L632.7,2308.6 L643.1,2298.7 L653.8,2288.8 L664.7,2278.9 L675.9,2269 L687.3,2259.1 L698.9,2249.2 L710.8,2239.3 L723,2229.4 L735.4,2219.5 L748.1,2209.6 L761.1,2199.7 L774.4,2189.8 L787.9,2179.9 L801.8,2170 L815.9,2160.1 L830.4,2150.2 L845.2,2140.3 L860.3,2130.4 L875.7,2120.5 L891.5,2110.6 L907.6,2100.7 L924.1,2090.8 L940.9,2080.9 L958.2,2071 L975.7,2061.1 L993.7,2051.2 L1012.1,2041.3 L1030.9,2031.4" fill="none" stroke="#fff" stroke-width="9.5" stroke-dasharray="46.4 45.7" stroke-dashoffset="14"/>
<path d="M1930.8,3615.6 L1930.2,3605.7 L1929.5,3595.8 L1928.9,3585.9 L1928.3,3576 L1927.6,3566.1 L1926.9,3556.2 L1926.2,3546.2 L1925.5,3536.3 L1924.8,3526.4 L1924.1,3516.5 L1923.3,3506.6 L1922.5,3496.7 L1921.7,3486.8 L1920.9,3476.9 L1920.1,3467 L1919.3,3457.1 L1918.4,3447.2 L1917.5,3437.3 L1916.6,3427.4 L1915.7,3417.5 L1914.8,3407.6 L1913.8,3397.6 L1912.9,3387.7 L1911.9,3377.8 L1910.8,3367.9 L1909.8,3358 L1908.7,3348.1 L1907.6,3338.2 L1906.5,3328.3 L1905.4,3318.4 L1904.2,3308.5 L1903,3298.6 L1901.8,3288.7 L1900.6,3278.8 L1899.3,3268.9 L1898,3259 L1896.7,3249.1 L1895.3,3239.2 L1893.9,3229.3 L1892.5,3219.4 L1891.1,3209.4 L1889.6,3199.5 L1888.1,3189.6 L1886.6,3179.7 L1885,3169.8 L1883.4,3159.9 L1881.7,3150 L1880.1,3140.1 L1878.3,3130.2 L1876.6,3120.3 L1874.8,3110.4 L1873,3100.5 L1871.1,3090.6 L1869.2,3080.7 L1867.2,3070.8 L1865.2,3060.9 L1863.2,3051 L1861.1,3041.1 L1858.9,3031.2 L1856.8,3021.3 L1854.5,3011.4 L1852.3,3001.5 L1849.9,2991.6 L1847.6,2981.7 L1845.1,2971.8 L1842.6,2961.9 L1840.1,2952 L1837.5,2942.1 L1834.9,2932.2 L1832.2,2922.3 L1829.4,2912.4 L1826.6,2902.5 L1823.7,2892.6 L1820.7,2882.7 L1817.7,2872.8 L1814.6,2862.9 L1811.5,2853 L1808.4,2843.1 L1805.1,2833.2 L1801.8,2823.3 L1798.4,2813.4 L1795,2803.5 L1791.4,2793.6 L1787.8,2783.7 L1784.1,2773.8 L1780.4,2763.9 L1776.5,2754 L1772.6,2744.1 L1768.6,2734.2 L1764.4,2724.3 L1760.2,2714.4 L1756,2704.5 L1751.6,2694.6 L1747.1,2684.7 L1742.5,2674.8 L1737.8,2664.9 L1733,2655 L1728.2,2645.1 L1723.2,2635.2 L1718.1,2625.3 L1712.8,2615.4 L1707.5,2605.5 L1702.1,2595.6 L1696.5,2585.7 L1690.8,2575.8 L1685,2565.9 L1679.1,2556 L1673,2546.1 L1666.8,2536.2 L1660.4,2526.3 L1654,2516.4 L1647.3,2506.5 L1640.6,2496.7 L1633.7,2486.8 L1626.6,2476.9 L1619.4,2467 L1612,2457.1 L1604.5,2447.2 L1596.8,2437.3 L1588.9,2427.4 L1580.8,2417.5 L1572.6,2407.6 L1564.2,2397.7 L1555.6,2387.8 L1546.9,2377.9 L1537.9,2368 L1528.7,2358.1 L1519.4,2348.2 L1509.8,2338.3 L1500,2328.4 L1490,2318.5 L1479.8,2308.6 L1469.4,2298.7 L1458.7,2288.8 L1447.8,2278.9 L1436.7,2269 L1425.3,2259.1 L1413.7,2249.2 L1401.8,2239.3 L1389.6,2229.4 L1377.2,2219.5 L1364.5,2209.6 L1351.6,2199.7 L1338.3,2189.8 L1324.8,2179.9 L1311,2170 L1296.8,2160.1 L1282.4,2150.2 L1267.6,2140.3 L1252.5,2130.4 L1237.1,2120.5 L1221.3,2110.6 L1205.2,2100.7 L1188.8,2090.8 L1172,2080.9 L1154.8,2071 L1137.2,2061.1 L1119.3,2051.2 L1100.9,2041.3 L1082.2,2031.4" fill="none" stroke="#fff" stroke-width="9.5" stroke-dasharray="46.4 45.8" stroke-dashoffset="-4.5"/>
<path d="M161,2035 H1950 V3615.5 H161 Z M177.9,3618.5 L178.5,3608.4 L179.2,3598.3 L179.8,3588.2 L180.5,3578.2 L181.2,3568.1 L181.9,3558 L182.6,3547.9 L183.3,3537.8 L184,3527.7 L184.8,3517.7 L185.6,3507.6 L186.4,3497.5 L187.2,3487.4 L188,3477.3 L188.9,3467.2 L189.7,3457.2 L190.6,3447.1 L191.5,3437 L192.4,3426.9 L193.4,3416.8 L194.4,3406.7 L195.3,3396.6 L196.4,3386.6 L197.4,3376.5 L198.4,3366.4 L199.5,3356.3 L200.6,3346.2 L201.8,3336.1 L202.9,3326.1 L204.1,3316 L205.3,3305.9 L206.5,3295.8 L207.8,3285.7 L209.1,3275.6 L210.4,3265.5 L211.7,3255.5 L213.1,3245.4 L214.5,3235.3 L216,3225.2 L217.4,3215.1 L218.9,3205 L220.5,3195 L222.1,3184.9 L223.7,3174.8 L225.3,3164.7 L227,3154.6 L228.7,3144.5 L230.5,3134.4 L232.2,3124.4 L234.1,3114.3 L236,3104.2 L237.9,3094.1 L239.8,3084 L241.8,3073.9 L243.9,3063.9 L246,3053.8 L248.1,3043.7 L250.3,3033.6 L252.5,3023.5 L254.8,3013.4 L257.2,3003.4 L259.6,2993.3 L262,2983.2 L264.5,2973.1 L267,2963 L269.7,2952.9 L272.3,2942.8 L275.1,2932.8 L277.8,2922.7 L280.7,2912.6 L283.6,2902.5 L286.6,2892.4 L289.6,2882.3 L292.7,2872.3 L295.9,2862.2 L299.1,2852.1 L302.3,2842 L305.6,2831.9 L309,2821.8 L312.5,2811.8 L316,2801.7 L319.6,2791.6 L323.3,2781.5 L327.1,2771.4 L330.9,2761.3 L334.9,2751.2 L338.9,2741.2 L343.1,2731.1 L347.3,2721 L351.6,2710.9 L356,2700.8 L360.5,2690.7 L365.1,2680.7 L369.8,2670.6 L374.6,2660.5 L379.6,2650.4 L384.6,2640.3 L389.7,2630.2 L395,2620.1 L400.4,2610.1 L405.9,2600 L411.5,2589.9 L417.2,2579.8 L423.1,2569.7 L429.1,2559.6 L435.2,2549.6 L441.5,2539.5 L447.9,2529.4 L454.5,2519.3 L461.2,2509.2 L468,2499.1 L475,2489.1 L482.2,2479 L489.5,2468.9 L497,2458.8 L504.6,2448.7 L512.5,2438.6 L520.4,2428.5 L528.6,2418.5 L537,2408.4 L545.5,2398.3 L554.2,2388.2 L563.2,2378.1 L572.3,2368 L581.6,2358 L591.2,2347.9 L600.9,2337.8 L610.9,2327.7 L621.1,2317.6 L631.5,2307.5 L642.1,2297.4 L653,2287.4 L664.1,2277.3 L675.5,2267.2 L687.2,2257.1 L699,2247 L711.2,2236.9 L723.6,2226.9 L736.3,2216.8 L749.3,2206.7 L762.6,2196.6 L776.2,2186.5 L790,2176.4 L804.2,2166.3 L818.7,2156.3 L833.5,2146.2 L848.7,2136.1 L864.2,2126 L880,2115.9 L896.2,2105.8 L912.8,2095.8 L929.7,2085.7 L947,2075.6 L964.7,2065.5 L982.7,2055.4 L1001.2,2045.3 L1020.1,2035.3 L1039.4,2025.2 L1056.5,2016.4 L1073.6,2025.2 L1092.9,2035.3 L1111.8,2045.3 L1130.2,2055.4 L1148.3,2065.5 L1165.9,2075.6 L1183.2,2085.7 L1200.1,2095.8 L1216.6,2105.8 L1232.8,2115.9 L1248.6,2126 L1264.1,2136.1 L1279.2,2146.2 L1294,2156.3 L1308.5,2166.3 L1322.7,2176.4 L1336.5,2186.5 L1350.1,2196.6 L1363.3,2206.7 L1376.3,2216.8 L1389,2226.9 L1401.4,2236.9 L1413.5,2247 L1425.4,2257.1 L1437,2267.2 L1448.4,2277.3 L1459.5,2287.4 L1470.4,2297.4 L1481,2307.5 L1491.4,2317.6 L1501.6,2327.7 L1511.5,2337.8 L1521.3,2347.9 L1530.8,2358 L1540.1,2368 L1549.2,2378.1 L1558.1,2388.2 L1566.8,2398.3 L1575.4,2408.4 L1583.7,2418.5 L1591.9,2428.5 L1599.9,2438.6 L1607.7,2448.7 L1615.3,2458.8 L1622.8,2468.9 L1630.1,2479 L1637.2,2489.1 L1644.2,2499.1 L1651.1,2509.2 L1657.8,2519.3 L1664.3,2529.4 L1670.7,2539.5 L1677,2549.6 L1683.1,2559.6 L1689.1,2569.7 L1695,2579.8 L1700.7,2589.9 L1706.3,2600 L1711.8,2610.1 L1717.2,2620.1 L1722.4,2630.2 L1727.5,2640.3 L1732.6,2650.4 L1737.5,2660.5 L1742.3,2670.6 L1747,2680.7 L1751.6,2690.7 L1756.1,2700.8 L1760.5,2710.9 L1764.8,2721 L1769,2731.1 L1773.1,2741.2 L1777.2,2751.2 L1781.1,2761.3 L1785,2771.4 L1788.7,2781.5 L1792.4,2791.6 L1796,2801.7 L1799.6,2811.8 L1803,2821.8 L1806.4,2831.9 L1809.7,2842 L1812.9,2852.1 L1816.1,2862.2 L1819.2,2872.3 L1822.3,2882.3 L1825.3,2892.4 L1828.2,2902.5 L1831.1,2912.6 L1833.9,2922.7 L1836.7,2932.8 L1839.4,2942.8 L1842,2952.9 L1844.6,2963 L1847.1,2973.1 L1849.6,2983.2 L1852,2993.3 L1854.3,3003.4 L1856.6,3013.4 L1858.9,3023.5 L1861.1,3033.6 L1863.3,3043.7 L1865.4,3053.8 L1867.4,3063.9 L1869.5,3073.9 L1871.4,3084 L1873.4,3094.1 L1875.3,3104.2 L1877.1,3114.3 L1878.9,3124.4 L1880.7,3134.4 L1882.4,3144.5 L1884.1,3154.6 L1885.8,3164.7 L1887.4,3174.8 L1889,3184.9 L1890.5,3195 L1892.1,3205 L1893.5,3215.1 L1895,3225.2 L1896.4,3235.3 L1897.8,3245.4 L1899.2,3255.5 L1900.5,3265.5 L1901.8,3275.6 L1903.1,3285.7 L1904.3,3295.8 L1905.5,3305.9 L1906.7,3316 L1907.9,3326.1 L1909,3336.1 L1910.1,3346.2 L1911.2,3356.3 L1912.3,3366.4 L1913.3,3376.5 L1914.3,3386.6 L1915.3,3396.6 L1916.3,3406.7 L1917.3,3416.8 L1918.2,3426.9 L1919.1,3437 L1920,3447.1 L1920.9,3457.2 L1921.7,3467.2 L1922.6,3477.3 L1923.4,3487.4 L1924.2,3497.5 L1925,3507.6 L1925.8,3517.7 L1926.5,3527.7 L1927.2,3537.8 L1927.9,3547.9 L1928.7,3558 L1929.3,3568.1 L1930,3578.2 L1930.7,3588.2 L1931.3,3598.3 L1931.9,3608.4 L1932.5,3618.5Z" fill="#828282" fill-opacity="0.79" fill-rule="evenodd"/>
</g>
<path d="M162,3614.5 V2036 H1949 M162,3614.5 H1949" fill="none" stroke="#1e1e2a" stroke-width="2" stroke-linecap="square"/>
<path d="M162,3596.8 h8.8 M162,3412 h8.8 M162,3280.8 h8.8 M162,3179.1 h8.8 M162,3096 h8.8 M162,3025.8 h8.8 M162,2964.9 h8.8 M162,2911.2 h8.8 M162,2863.2 h17.5 M162,2547.3 h8.8 M162,2362.5 h8.8 M162,2231.3 h8.8 M162,2129.6 h8.8 M162,2046.5 h8.8" stroke="#15152a" stroke-width="2" fill="none"/>
<path d="M588.2,3614.5 v-17.5 M1015.2,3614.5 v-17.5 M1442.5,3614.5 v-17.5 M1869.5,3614.5 v-17.5" stroke="#10104a" stroke-opacity="0.75" stroke-width="2" fill="none"/>
<text x="161" y="3702" font-size="60.5" text-anchor="middle" fill="#262626">1998</text>
<text x="588.2" y="3702" font-size="60.5" text-anchor="middle" fill="#262626">2003</text>
<text x="1015.2" y="3702" font-size="60.5" text-anchor="middle" fill="#262626">2008</text>
<text x="1442.5" y="3702" font-size="60.5" text-anchor="middle" fill="#262626">2013</text>
<text x="1869.5" y="3702" font-size="60.5" text-anchor="middle" fill="#262626">2018</text>
<text x="130.5" y="2889.2" font-size="60.5" text-anchor="end" fill="#262626">1</text>
<text x="1057" y="3790" font-size="68" text-anchor="middle" fill="#262626">Time (years)</text>
<text transform="translate(66.6,2835) rotate(-90)" font-size="68" text-anchor="middle" fill="#262626">Period (years)</text>
<text x="1058.6" y="2012" font-size="67.8" text-anchor="middle" fill="#000">The Wavelet Analysis for River Flow (AnQing)</text>
<rect x="1999.5" y="2036" width="97" height="1578.5" fill="url(#cbb)" stroke="#1a1a1a" stroke-width="2"/>
<text x="2119.5" y="3470" font-size="55.5" fill="#262626">0.2</text>
<text x="2119.5" y="3299.9" font-size="55.5" fill="#262626">0.4</text>
<text x="2119.5" y="3129.8" font-size="55.5" fill="#262626">0.6</text>
<text x="2119.5" y="2959.8" font-size="55.5" fill="#262626">0.8</text>
<text x="2119.5" y="2789.7" font-size="55.5" fill="#262626">1</text>
<text x="2119.5" y="2619.6" font-size="55.5" fill="#262626">1.2</text>
<text x="2119.5" y="2449.5" font-size="55.5" fill="#262626">1.4</text>
<text x="2119.5" y="2279.4" font-size="55.5" fill="#262626">1.6</text>
<text x="2119.5" y="2109.4" font-size="55.5" fill="#262626">1.8</text>
<path d="M2096.5,3446 h-15 M2096.5,3275.9 h-15 M2096.5,3105.8 h-15 M2096.5,2935.8 h-15 M2096.5,2765.7 h-15 M2096.5,2595.6 h-15 M2096.5,2425.5 h-15 M2096.5,2255.4 h-15 M2096.5,2085.4 h-15" stroke="#1a1a1a" stroke-width="2" fill="none"/>
<text transform="translate(2274.5,2827.5) rotate(-90)" font-size="55.5" text-anchor="middle" fill="#262626">Magnitude</text>
<text x="1151.7" y="3889" font-size="55" font-family="'Liberation Serif', serif" text-anchor="middle" fill="#000" textLength="686" lengthAdjust="spacingAndGlyphs">(<tspan font-weight="bold">E</tspan>) (Near AnQing Station )</text>
</svg>
</body></html>
